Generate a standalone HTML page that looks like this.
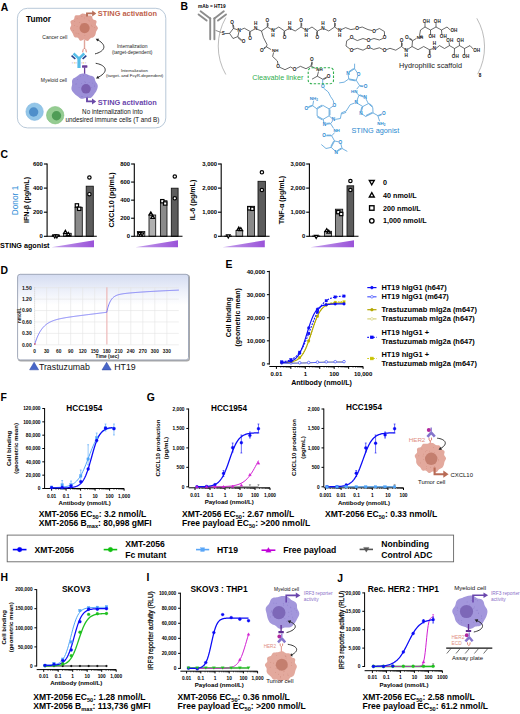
<!DOCTYPE html>
<html><head><meta charset="utf-8"><style>
html,body{margin:0;padding:0;background:#fff;}
body{width:520px;height:714px;overflow:hidden;}
svg{display:block;font-family:"Liberation Sans", sans-serif;font-weight:bold;}
</style></head><body>
<svg width="520" height="714" viewBox="0 0 520 714">
<defs>
<linearGradient id="wedge" x1="0" x2="1" y1="0" y2="0"><stop offset="0" stop-color="#c3a0ec"/><stop offset="1" stop-color="#9a52d8"/></linearGradient>
<linearGradient id="dhead" x1="0" x2="0" y1="0" y2="1"><stop offset="0" stop-color="#d4dcf1"/><stop offset="0.2" stop-color="#eef1fa"/><stop offset="0.36" stop-color="#ffffff"/><stop offset="1" stop-color="#ffffff"/></linearGradient>
</defs>
<text x="0.80" y="10.60" font-size="10.4">A</text>
<text x="180.60" y="10.40" font-size="10.4">B</text>
<text x="0.60" y="157.90" font-size="10.4">C</text>
<text x="0.40" y="274.00" font-size="10.4">D</text>
<text x="225.60" y="267.80" font-size="10.4">E</text>
<text x="0.60" y="400.90" font-size="10.4">F</text>
<text x="146.80" y="401.10" font-size="10.4">G</text>
<text x="0.60" y="581.20" font-size="10.4">H</text>
<text x="146.60" y="581.40" font-size="10.4">I</text>
<text x="337.20" y="581.70" font-size="10.4">J</text>
<rect x="17.4" y="8.3" width="148.4" height="119.6" rx="10" fill="none" stroke="#b0c2d4" stroke-width="0.9"/>
<text x="26.00" y="22.00" font-size="8.2">Tumor</text>
<path d="M97.68,27.20 L97.92,27.94 L97.85,28.68 L97.53,29.37 L97.07,30.02 L96.62,30.63 L96.27,31.25 L96.04,31.90 L95.89,32.58 L95.76,33.29 L95.59,34.01 L95.36,34.71 L95.05,35.38 L94.67,36.00 L94.21,36.57 L93.65,37.05 L93.00,37.42 L92.28,37.68 L91.55,37.87 L90.87,38.08 L90.27,38.40 L89.75,38.88 L89.28,39.50 L88.77,40.15 L88.17,40.66 L87.47,40.90 L86.69,40.79 L85.89,40.41 L85.14,39.93 L84.45,39.57 L83.80,39.49 L83.14,39.72 L82.44,40.17 L81.68,40.61 L80.90,40.82 L80.19,40.68 L79.58,40.18 L79.09,39.46 L78.67,38.71 L78.24,38.12 L77.70,37.77 L77.03,37.62 L76.26,37.57 L75.48,37.47 L74.78,37.22 L74.22,36.78 L73.81,36.19 L73.52,35.53 L73.28,34.84 L73.03,34.19 L72.76,33.58 L72.45,32.98 L72.11,32.40 L71.75,31.83 L71.36,31.24 L70.94,30.65 L70.53,30.02 L70.20,29.35 L70.02,28.65 L70.05,27.92 L70.30,27.20 L70.67,26.51 L71.03,25.86 L71.23,25.21 L71.18,24.52 L70.93,23.75 L70.62,22.92 L70.44,22.07 L70.54,21.30 L71.01,20.68 L71.76,20.25 L72.61,19.94 L73.39,19.63 L73.94,19.21 L74.24,18.59 L74.38,17.78 L74.52,16.90 L74.81,16.10 L75.32,15.54 L76.05,15.26 L76.89,15.24 L77.75,15.32 L78.53,15.37 L79.22,15.26 L79.83,14.97 L80.41,14.56 L81.02,14.14 L81.68,13.80 L82.37,13.62 L83.09,13.58 L83.80,13.67 L84.50,13.84 L85.18,14.08 L85.83,14.36 L86.46,14.67 L87.08,14.98 L87.69,15.23 L88.33,15.39 L89.03,15.46 L89.78,15.47 L90.54,15.53 L91.23,15.75 L91.79,16.20 L92.17,16.86 L92.40,17.65 L92.57,18.43 L92.83,19.07 L93.29,19.52 L93.98,19.80 L94.83,20.03 L95.67,20.35 L96.29,20.83 L96.58,21.51 L96.53,22.31 L96.26,23.15 L95.99,23.93 L95.92,24.62 L96.13,25.25 L96.61,25.85 L97.19,26.50Z" fill="#e0a296"/>
<circle cx="84.6" cy="28.1" r="5.1" fill="#c47a68"/>
<circle cx="84.84" cy="35.26" r="0.35" fill="#c47d6e"/>
<circle cx="78.08" cy="33.32" r="0.35" fill="#c47d6e"/>
<circle cx="82.13" cy="24.71" r="0.35" fill="#c47d6e"/>
<circle cx="94.69" cy="27.67" r="0.35" fill="#c47d6e"/>
<circle cx="83.87" cy="32.36" r="0.35" fill="#c47d6e"/>
<circle cx="92.08" cy="26.58" r="0.35" fill="#c47d6e"/>
<circle cx="88.30" cy="20.01" r="0.35" fill="#c47d6e"/>
<circle cx="81.34" cy="23.38" r="0.35" fill="#c47d6e"/>
<circle cx="77.11" cy="18.77" r="0.35" fill="#c47d6e"/>
<circle cx="74.40" cy="25.36" r="0.35" fill="#c47d6e"/>
<circle cx="82.82" cy="24.24" r="0.35" fill="#c47d6e"/>
<circle cx="84.66" cy="17.97" r="0.35" fill="#c47d6e"/>
<circle cx="83.56" cy="28.72" r="0.35" fill="#c47d6e"/>
<circle cx="89.45" cy="20.89" r="0.35" fill="#c47d6e"/>
<circle cx="82.10" cy="16.23" r="0.35" fill="#c47d6e"/>
<circle cx="81.73" cy="16.04" r="0.35" fill="#c47d6e"/>
<circle cx="76.07" cy="33.11" r="0.35" fill="#c47d6e"/>
<circle cx="73.74" cy="30.59" r="0.35" fill="#c47d6e"/>
<circle cx="86.80" cy="24.32" r="0.35" fill="#c47d6e"/>
<circle cx="87.72" cy="30.84" r="0.35" fill="#c47d6e"/>
<circle cx="91.62" cy="25.17" r="0.35" fill="#c47d6e"/>
<circle cx="79.78" cy="22.29" r="0.35" fill="#c47d6e"/>
<circle cx="77.06" cy="26.48" r="0.35" fill="#c47d6e"/>
<circle cx="78.99" cy="33.89" r="0.35" fill="#c47d6e"/>
<circle cx="74.76" cy="21.28" r="0.35" fill="#c47d6e"/>
<path d="M87,16.6 L87,13.4 L93,13.4" fill="none" stroke="#b86e58" stroke-width="1.9"/>
<polygon points="92.2,10.4 96.3,13.4 92.2,16.4" fill="#b86e58"/>
<text x="97.80" y="16.30" font-size="7.4" fill="#c0614a">STING activation</text>
<text x="42.30" y="39.20" font-size="5.0" font-weight="normal" fill="#222">Cancer cell</text>
<line x1="84.50" y1="39.50" x2="84.50" y2="48.50" stroke="#e0a49a" stroke-width="1.4"/>
<path d="M82.6,52.3 Q82.8,48.8 84.5,48.2 Q86.2,48.8 86.4,52.3" fill="none" stroke="#d4766a" stroke-width="0.9"/>
<line x1="79.00" y1="58.00" x2="79.00" y2="68.00" stroke="#55bde9" stroke-width="3.2"/>
<line x1="79.00" y1="58.60" x2="73.50" y2="53.50" stroke="#55bde9" stroke-width="2.6"/>
<line x1="79.00" y1="58.60" x2="84.30" y2="53.50" stroke="#55bde9" stroke-width="2.6"/>
<line x1="71.60" y1="55.60" x2="75.30" y2="59.00" stroke="#243f8a" stroke-width="1.6"/>
<line x1="86.30" y1="55.60" x2="82.60" y2="59.00" stroke="#243f8a" stroke-width="1.6"/>
<line x1="71.80" y1="62.90" x2="73.20" y2="62.90" stroke="#c8b8e8" stroke-width="0.9"/>
<line x1="73.90" y1="62.90" x2="75.30" y2="62.90" stroke="#e6c25a" stroke-width="0.9"/>
<line x1="75.50" y1="62.90" x2="76.90" y2="62.90" stroke="#c8b8e8" stroke-width="0.9"/>
<line x1="81.10" y1="62.90" x2="82.50" y2="62.90" stroke="#c8b8e8" stroke-width="0.9"/>
<line x1="82.70" y1="62.90" x2="84.10" y2="62.90" stroke="#e6c25a" stroke-width="0.9"/>
<line x1="84.80" y1="62.90" x2="86.20" y2="62.90" stroke="#c8b8e8" stroke-width="0.9"/>
<rect x="82.0" y="65.3" width="5.4" height="2.4" rx="0.4" fill="#6a3d9a"/>
<line x1="84.60" y1="67.50" x2="84.60" y2="74.50" stroke="#6a3d9a" stroke-width="1.3"/>
<path d="M97.77,86.20 L97.73,86.90 L97.61,87.59 L97.43,88.26 L97.22,88.93 L96.99,89.57 L96.73,90.21 L96.45,90.82 L96.14,91.42 L95.79,92.00 L95.42,92.56 L95.02,93.10 L94.61,93.62 L94.21,94.15 L93.82,94.68 L93.43,95.23 L93.03,95.79 L92.61,96.34 L92.15,96.87 L91.63,97.33 L91.04,97.70 L90.38,97.94 L89.69,98.07 L88.97,98.09 L88.25,98.04 L87.55,97.96 L86.89,97.90 L86.25,97.90 L85.64,97.99 L85.03,98.15 L84.40,98.36 L83.75,98.58 L83.08,98.77 L82.39,98.86 L81.71,98.84 L81.05,98.70 L80.43,98.43 L79.84,98.08 L79.30,97.67 L78.78,97.23 L78.27,96.81 L77.77,96.41 L77.26,96.02 L76.75,95.65 L76.23,95.28 L75.71,94.89 L75.21,94.48 L74.72,94.04 L74.26,93.57 L73.81,93.08 L73.37,92.57 L72.95,92.04 L72.54,91.48 L72.16,90.90 L71.84,90.28 L71.60,89.63 L71.45,88.95 L71.42,88.26 L71.48,87.56 L71.61,86.87 L71.78,86.20 L71.95,85.55 L72.07,84.90 L72.13,84.26 L72.13,83.59 L72.08,82.90 L72.02,82.18 L72.01,81.44 L72.08,80.71 L72.27,80.02 L72.61,79.39 L73.06,78.84 L73.62,78.37 L74.24,77.97 L74.88,77.63 L75.51,77.31 L76.10,76.98 L76.65,76.62 L77.16,76.24 L77.66,75.82 L78.16,75.40 L78.69,74.99 L79.24,74.62 L79.83,74.30 L80.45,74.05 L81.09,73.85 L81.75,73.71 L82.41,73.61 L83.07,73.55 L83.74,73.53 L84.40,73.55 L85.06,73.63 L85.71,73.78 L86.33,73.99 L86.94,74.24 L87.53,74.53 L88.10,74.82 L88.66,75.09 L89.25,75.31 L89.86,75.49 L90.50,75.63 L91.18,75.76 L91.87,75.92 L92.55,76.14 L93.17,76.46 L93.71,76.89 L94.15,77.42 L94.48,78.03 L94.72,78.70 L94.91,79.38 L95.07,80.04 L95.25,80.67 L95.49,81.26 L95.80,81.82 L96.16,82.38 L96.56,82.94 L96.95,83.53 L97.30,84.16 L97.56,84.82 L97.72,85.50Z" fill="#9c90d8"/>
<circle cx="86" cy="88.8" r="4.8" fill="#7a5fb0"/>
<circle cx="77.61" cy="79.59" r="0.35" fill="#7d6fc0"/>
<circle cx="87.39" cy="75.95" r="0.35" fill="#7d6fc0"/>
<circle cx="83.73" cy="75.66" r="0.35" fill="#7d6fc0"/>
<circle cx="91.78" cy="87.56" r="0.35" fill="#7d6fc0"/>
<circle cx="92.71" cy="83.11" r="0.35" fill="#7d6fc0"/>
<circle cx="87.41" cy="84.04" r="0.35" fill="#7d6fc0"/>
<circle cx="79.04" cy="87.25" r="0.35" fill="#7d6fc0"/>
<circle cx="76.38" cy="83.94" r="0.35" fill="#7d6fc0"/>
<circle cx="89.50" cy="86.62" r="0.35" fill="#7d6fc0"/>
<circle cx="82.46" cy="96.55" r="0.35" fill="#7d6fc0"/>
<circle cx="84.83" cy="81.83" r="0.35" fill="#7d6fc0"/>
<circle cx="85.60" cy="82.28" r="0.35" fill="#7d6fc0"/>
<circle cx="81.50" cy="83.57" r="0.35" fill="#7d6fc0"/>
<circle cx="94.67" cy="86.31" r="0.35" fill="#7d6fc0"/>
<circle cx="85.69" cy="91.14" r="0.35" fill="#7d6fc0"/>
<circle cx="94.61" cy="85.07" r="0.35" fill="#7d6fc0"/>
<circle cx="81.76" cy="96.66" r="0.35" fill="#7d6fc0"/>
<circle cx="75.62" cy="83.99" r="0.35" fill="#7d6fc0"/>
<circle cx="87.39" cy="96.44" r="0.35" fill="#7d6fc0"/>
<circle cx="80.46" cy="76.13" r="0.35" fill="#7d6fc0"/>
<circle cx="89.12" cy="82.48" r="0.35" fill="#7d6fc0"/>
<circle cx="81.52" cy="89.63" r="0.35" fill="#7d6fc0"/>
<text x="40.80" y="81.80" font-size="5.0" font-weight="normal" fill="#222">Myeloid cell</text>
<path d="M87,97.5 L87,101.4 L92.6,101.4" fill="none" stroke="#6a4aa8" stroke-width="1.9"/>
<polygon points="92.0,98.4 96.2,101.4 92.0,104.4" fill="#6a4aa8"/>
<text x="97.70" y="104.60" font-size="7.4" fill="#6a46ad">STING activation</text>
<path d="M95.00,53.90 C103.50,51.80 108.50,46.00 97.78,39.89" fill="none" stroke="#222" stroke-width="0.9"/>
<polygon points="95.70,38.70 99.12,38.75 97.49,41.62" fill="#222"/>
<path d="M95.70,63.30 C104.00,64.50 111.00,70.50 98.12,77.37" fill="none" stroke="#222" stroke-width="0.9"/>
<polygon points="96.00,78.50 97.87,75.63 99.42,78.54" fill="#222"/>
<text x="132.20" y="48.20" font-size="4.9" font-weight="normal" text-anchor="middle" fill="#222">Internalization</text>
<text x="132.20" y="53.90" font-size="4.9" font-weight="normal" text-anchor="middle" fill="#222">(target-dependent)</text>
<text x="134.40" y="71.90" font-size="4.3" font-weight="normal" text-anchor="middle" fill="#222">Internalization</text>
<text x="134.70" y="76.70" font-size="4.35" font-weight="normal" text-anchor="middle" fill="#222">(target- and Fc&#947;R-dependent)</text>
<circle cx="34.6" cy="111.7" r="8.7" fill="#93c6e8" stroke="#7fb6df" stroke-width="0.6"/><circle cx="33.6" cy="112" r="4.7" fill="#4f8fca"/>
<circle cx="55.2" cy="115.2" r="8.7" fill="#95cc92" stroke="#7fbf7c" stroke-width="0.6"/><circle cx="56.5" cy="115.8" r="4.7" fill="#4f9c56"/>
<text x="112.40" y="113.90" font-size="6.3" font-weight="normal" text-anchor="middle" fill="#111">No internalization into</text>
<text x="112.40" y="121.60" font-size="6.3" font-weight="normal" text-anchor="middle" fill="#111">undesired immune cells (T and B)</text>
<rect x="52.20" y="235.40" width="7.40" height="0.90" fill="#e0e0e0" stroke="#111" stroke-width="0.85"/>
<rect x="63.50" y="233.30" width="7.70" height="3.00" fill="#b0b0b0" stroke="#111" stroke-width="0.85"/>
<rect x="75.00" y="207.30" width="7.30" height="29.00" fill="#8a8a8a" stroke="#111" stroke-width="0.85"/>
<rect x="86.20" y="186.20" width="7.10" height="50.10" fill="#5c5c5c" stroke="#111" stroke-width="0.85"/>
<line x1="47.10" y1="163.45" x2="47.10" y2="236.85" stroke="#000" stroke-width="1.1"/>
<line x1="43.90" y1="236.30" x2="47.10" y2="236.30" stroke="#000" stroke-width="1.1"/>
<text x="42.90" y="238.42" font-size="5.9" text-anchor="end">0</text>
<line x1="43.90" y1="212.20" x2="47.10" y2="212.20" stroke="#000" stroke-width="1.1"/>
<text x="42.90" y="214.32" font-size="5.9" text-anchor="end">200</text>
<line x1="43.90" y1="188.10" x2="47.10" y2="188.10" stroke="#000" stroke-width="1.1"/>
<text x="42.90" y="190.22" font-size="5.9" text-anchor="end">400</text>
<line x1="43.90" y1="164.00" x2="47.10" y2="164.00" stroke="#000" stroke-width="1.1"/>
<text x="42.90" y="166.12" font-size="5.9" text-anchor="end">600</text>
<line x1="47.10" y1="236.30" x2="96.80" y2="236.30" stroke="#000" stroke-width="1.1"/>
<polygon points="54.80,238.01 56.61,234.88 52.98,234.88" fill="#fff" stroke="#000" stroke-width="1.2"/>
<polygon points="56.90,238.01 58.71,234.88 55.09,234.88" fill="#fff" stroke="#000" stroke-width="1.2"/>
<polygon points="65.40,230.19 67.22,233.32 63.59,233.32" fill="#fff" stroke="#000" stroke-width="1.2"/>
<polygon points="68.30,232.38 70.11,235.52 66.48,235.52" fill="#fff" stroke="#000" stroke-width="1.2"/>
<rect x="75.25" y="203.75" width="3.30" height="3.30" fill="#fff" stroke="#000" stroke-width="1.2"/>
<rect x="77.55" y="207.15" width="3.30" height="3.30" fill="#fff" stroke="#000" stroke-width="1.2"/>
<circle cx="89.40" cy="177.50" r="1.70" fill="#fff" stroke="#000" stroke-width="1.2"/>
<circle cx="89.40" cy="194.20" r="1.70" fill="#fff" stroke="#000" stroke-width="1.2"/>
<polygon points="51.40,247.3 94.00,240.3 94.00,247.3" fill="url(#wedge)"/>
<text x="28.80" y="200.00" font-size="7.1" text-anchor="middle" transform="rotate(-90 28.80 200.00)">IFN-&#946; (pg/mL)</text>
<rect x="137.40" y="231.50" width="7.40" height="4.80" fill="#e0e0e0" stroke="#111" stroke-width="0.85"/>
<rect x="149.00" y="215.00" width="6.70" height="21.30" fill="#b0b0b0" stroke="#111" stroke-width="0.85"/>
<rect x="160.40" y="200.70" width="6.60" height="35.60" fill="#8a8a8a" stroke="#111" stroke-width="0.85"/>
<rect x="171.30" y="188.20" width="6.80" height="48.10" fill="#5c5c5c" stroke="#111" stroke-width="0.85"/>
<line x1="134.30" y1="163.45" x2="134.30" y2="236.85" stroke="#000" stroke-width="1.1"/>
<line x1="131.10" y1="236.30" x2="134.30" y2="236.30" stroke="#000" stroke-width="1.1"/>
<text x="130.10" y="238.42" font-size="5.9" text-anchor="end">0</text>
<line x1="131.10" y1="218.23" x2="134.30" y2="218.23" stroke="#000" stroke-width="1.1"/>
<text x="130.10" y="220.35" font-size="5.9" text-anchor="end">200</text>
<line x1="131.10" y1="200.15" x2="134.30" y2="200.15" stroke="#000" stroke-width="1.1"/>
<text x="130.10" y="202.27" font-size="5.9" text-anchor="end">400</text>
<line x1="131.10" y1="182.07" x2="134.30" y2="182.07" stroke="#000" stroke-width="1.1"/>
<text x="130.10" y="184.20" font-size="5.9" text-anchor="end">600</text>
<line x1="131.10" y1="164.00" x2="134.30" y2="164.00" stroke="#000" stroke-width="1.1"/>
<text x="130.10" y="166.12" font-size="5.9" text-anchor="end">800</text>
<line x1="134.30" y1="236.30" x2="182.50" y2="236.30" stroke="#000" stroke-width="1.1"/>
<polygon points="139.60,235.51 141.41,232.38 137.78,232.38" fill="#fff" stroke="#000" stroke-width="1.2"/>
<polygon points="142.10,236.01 143.91,232.88 140.28,232.88" fill="#fff" stroke="#000" stroke-width="1.2"/>
<polygon points="150.80,211.88 152.62,215.02 148.99,215.02" fill="#fff" stroke="#000" stroke-width="1.2"/>
<polygon points="152.70,215.19 154.51,218.32 150.88,218.32" fill="#fff" stroke="#000" stroke-width="1.2"/>
<rect x="160.65" y="199.55" width="3.30" height="3.30" fill="#fff" stroke="#000" stroke-width="1.2"/>
<rect x="163.55" y="201.85" width="3.30" height="3.30" fill="#fff" stroke="#000" stroke-width="1.2"/>
<circle cx="174.80" cy="176.50" r="1.70" fill="#fff" stroke="#000" stroke-width="1.2"/>
<circle cx="174.80" cy="198.30" r="1.70" fill="#fff" stroke="#000" stroke-width="1.2"/>
<polygon points="135.40,247.3 178.00,240.3 178.00,247.3" fill="url(#wedge)"/>
<text x="113.50" y="200.00" font-size="7.1" text-anchor="middle" transform="rotate(-90 113.50 200.00)">CXCL10 (pg/mL)</text>
<rect x="224.80" y="236.00" width="6.70" height="0.30" fill="#e0e0e0" stroke="#111" stroke-width="0.85"/>
<rect x="236.00" y="230.40" width="6.70" height="5.90" fill="#b0b0b0" stroke="#111" stroke-width="0.85"/>
<rect x="247.50" y="206.30" width="7.10" height="30.00" fill="#8a8a8a" stroke="#111" stroke-width="0.85"/>
<rect x="258.00" y="181.30" width="7.40" height="55.00" fill="#5c5c5c" stroke="#111" stroke-width="0.85"/>
<line x1="221.20" y1="163.45" x2="221.20" y2="236.85" stroke="#000" stroke-width="1.1"/>
<line x1="218.00" y1="236.30" x2="221.20" y2="236.30" stroke="#000" stroke-width="1.1"/>
<text x="217.00" y="238.42" font-size="5.9" text-anchor="end">0</text>
<line x1="218.00" y1="212.20" x2="221.20" y2="212.20" stroke="#000" stroke-width="1.1"/>
<text x="217.00" y="214.32" font-size="5.9" text-anchor="end">1,000</text>
<line x1="218.00" y1="188.10" x2="221.20" y2="188.10" stroke="#000" stroke-width="1.1"/>
<text x="217.00" y="190.22" font-size="5.9" text-anchor="end">2,000</text>
<line x1="218.00" y1="164.00" x2="221.20" y2="164.00" stroke="#000" stroke-width="1.1"/>
<text x="217.00" y="166.12" font-size="5.9" text-anchor="end">3,000</text>
<line x1="221.20" y1="236.30" x2="269.60" y2="236.30" stroke="#000" stroke-width="1.1"/>
<polygon points="228.30,238.01 230.12,234.88 226.49,234.88" fill="#fff" stroke="#000" stroke-width="1.2"/>
<polygon points="238.80,226.99 240.62,230.12 236.99,230.12" fill="#fff" stroke="#000" stroke-width="1.2"/>
<polygon points="240.80,227.59 242.62,230.72 238.99,230.72" fill="#fff" stroke="#000" stroke-width="1.2"/>
<rect x="247.75" y="206.65" width="3.30" height="3.30" fill="#fff" stroke="#000" stroke-width="1.2"/>
<rect x="250.65" y="207.15" width="3.30" height="3.30" fill="#fff" stroke="#000" stroke-width="1.2"/>
<circle cx="261.90" cy="172.30" r="1.70" fill="#fff" stroke="#000" stroke-width="1.2"/>
<circle cx="261.90" cy="190.00" r="1.70" fill="#fff" stroke="#000" stroke-width="1.2"/>
<polygon points="222.50,247.3 264.80,240.3 264.80,247.3" fill="url(#wedge)"/>
<text x="195.20" y="200.00" font-size="7.1" text-anchor="middle" transform="rotate(-90 195.20 200.00)">IL-6 (pg/mL)</text>
<rect x="312.60" y="236.00" width="7.20" height="0.30" fill="#e0e0e0" stroke="#111" stroke-width="0.85"/>
<rect x="324.40" y="231.30" width="7.10" height="5.00" fill="#b0b0b0" stroke="#111" stroke-width="0.85"/>
<rect x="335.40" y="209.20" width="7.30" height="27.10" fill="#8a8a8a" stroke="#111" stroke-width="0.85"/>
<rect x="347.00" y="185.80" width="6.70" height="50.50" fill="#5c5c5c" stroke="#111" stroke-width="0.85"/>
<line x1="309.40" y1="163.45" x2="309.40" y2="236.85" stroke="#000" stroke-width="1.1"/>
<line x1="306.20" y1="236.30" x2="309.40" y2="236.30" stroke="#000" stroke-width="1.1"/>
<text x="305.20" y="238.42" font-size="5.9" text-anchor="end">0</text>
<line x1="306.20" y1="212.20" x2="309.40" y2="212.20" stroke="#000" stroke-width="1.1"/>
<text x="305.20" y="214.32" font-size="5.9" text-anchor="end">1,000</text>
<line x1="306.20" y1="188.10" x2="309.40" y2="188.10" stroke="#000" stroke-width="1.1"/>
<text x="305.20" y="190.22" font-size="5.9" text-anchor="end">2,000</text>
<line x1="306.20" y1="164.00" x2="309.40" y2="164.00" stroke="#000" stroke-width="1.1"/>
<text x="305.20" y="166.12" font-size="5.9" text-anchor="end">3,000</text>
<line x1="309.40" y1="236.30" x2="358.50" y2="236.30" stroke="#000" stroke-width="1.1"/>
<polygon points="316.20,238.51 318.01,235.38 314.38,235.38" fill="#fff" stroke="#000" stroke-width="1.2"/>
<polygon points="326.70,228.59 328.51,231.72 324.88,231.72" fill="#fff" stroke="#000" stroke-width="1.2"/>
<polygon points="328.70,230.09 330.51,233.22 326.88,233.22" fill="#fff" stroke="#000" stroke-width="1.2"/>
<rect x="336.65" y="210.45" width="3.30" height="3.30" fill="#fff" stroke="#000" stroke-width="1.2"/>
<rect x="339.55" y="212.35" width="3.30" height="3.30" fill="#fff" stroke="#000" stroke-width="1.2"/>
<circle cx="350.40" cy="181.00" r="1.70" fill="#fff" stroke="#000" stroke-width="1.2"/>
<circle cx="350.40" cy="190.00" r="1.70" fill="#fff" stroke="#000" stroke-width="1.2"/>
<polygon points="310.40,247.3 354.00,240.3 354.00,247.3" fill="url(#wedge)"/>
<text x="284.00" y="200.00" font-size="7.1" text-anchor="middle" transform="rotate(-90 284.00 200.00)">TNF-&#945; (pg/mL)</text>
<text x="0.00" y="248.00" font-size="7.2">STING agonist</text>
<text x="17.60" y="200.50" font-size="8.3" font-weight="normal" text-anchor="middle" fill="#2a8ad6" transform="rotate(-90 17.60 200.50)">Donor 1</text>
<polygon points="371.80,184.78 374.28,180.50 369.32,180.50" fill="#fff" stroke="#000" stroke-width="1.35"/>
<text x="383.00" y="184.80" font-size="7.2">0</text>
<polygon points="371.80,192.68 374.28,196.95 369.32,196.95" fill="#fff" stroke="#000" stroke-width="1.35"/>
<text x="383.00" y="197.65" font-size="7.2">40 nmol/L</text>
<rect x="369.55" y="205.75" width="4.50" height="4.50" fill="#fff" stroke="#000" stroke-width="1.35"/>
<text x="383.00" y="210.50" font-size="7.2">200 nmol/L</text>
<circle cx="371.80" cy="220.85" r="2.25" fill="#fff" stroke="#000" stroke-width="1.35"/>
<text x="383.00" y="223.35" font-size="7.2">1,000 nmol/L</text>
<rect x="18.4" y="275.1" width="170.9" height="85.6" rx="2.5" fill="none" stroke="#a8a8a8" stroke-width="1.4"/>
<rect x="17.6" y="274.3" width="170.9" height="85.6" rx="2.5" fill="url(#dhead)" stroke="#9aa3b5" stroke-width="0.9"/>
<line x1="34.60" y1="344.80" x2="178.80" y2="344.80" stroke="#e4e4e4" stroke-width="0.6"/>
<line x1="34.60" y1="333.38" x2="178.80" y2="333.38" stroke="#e4e4e4" stroke-width="0.6"/>
<line x1="34.60" y1="321.96" x2="178.80" y2="321.96" stroke="#e4e4e4" stroke-width="0.6"/>
<line x1="34.60" y1="310.54" x2="178.80" y2="310.54" stroke="#e4e4e4" stroke-width="0.6"/>
<line x1="34.60" y1="299.12" x2="178.80" y2="299.12" stroke="#e4e4e4" stroke-width="0.6"/>
<line x1="34.60" y1="287.69" x2="178.80" y2="287.69" stroke="#e4e4e4" stroke-width="0.6"/>
<line x1="34.60" y1="287.30" x2="34.60" y2="344.80" stroke="#e4e4e4" stroke-width="0.6"/>
<line x1="46.62" y1="287.30" x2="46.62" y2="344.80" stroke="#e4e4e4" stroke-width="0.6"/>
<line x1="58.65" y1="287.30" x2="58.65" y2="344.80" stroke="#e4e4e4" stroke-width="0.6"/>
<line x1="70.67" y1="287.30" x2="70.67" y2="344.80" stroke="#e4e4e4" stroke-width="0.6"/>
<line x1="82.70" y1="287.30" x2="82.70" y2="344.80" stroke="#e4e4e4" stroke-width="0.6"/>
<line x1="94.72" y1="287.30" x2="94.72" y2="344.80" stroke="#e4e4e4" stroke-width="0.6"/>
<line x1="106.74" y1="287.30" x2="106.74" y2="344.80" stroke="#e4e4e4" stroke-width="0.6"/>
<line x1="118.77" y1="287.30" x2="118.77" y2="344.80" stroke="#e4e4e4" stroke-width="0.6"/>
<line x1="130.79" y1="287.30" x2="130.79" y2="344.80" stroke="#e4e4e4" stroke-width="0.6"/>
<line x1="142.82" y1="287.30" x2="142.82" y2="344.80" stroke="#e4e4e4" stroke-width="0.6"/>
<line x1="154.84" y1="287.30" x2="154.84" y2="344.80" stroke="#e4e4e4" stroke-width="0.6"/>
<line x1="166.86" y1="287.30" x2="166.86" y2="344.80" stroke="#e4e4e4" stroke-width="0.6"/>
<line x1="34.60" y1="287.30" x2="34.60" y2="344.80" stroke="#c8c8c8" stroke-width="0.6" stroke-dasharray="1,1"/>
<text x="31.80" y="346.60" font-size="5.1" text-anchor="end" fill="#111">0.00</text>
<text x="31.80" y="335.18" font-size="5.1" text-anchor="end" fill="#111">0.30</text>
<text x="31.80" y="323.76" font-size="5.1" text-anchor="end" fill="#111">0.60</text>
<text x="31.80" y="312.34" font-size="5.1" text-anchor="end" fill="#111">0.90</text>
<text x="31.80" y="300.92" font-size="5.1" text-anchor="end" fill="#111">1.20</text>
<text x="31.80" y="289.50" font-size="5.1" text-anchor="end" fill="#111">1.50</text>
<text x="34.60" y="352.70" font-size="4.8" text-anchor="middle" fill="#111">0</text>
<text x="46.62" y="352.70" font-size="4.8" text-anchor="middle" fill="#111">30</text>
<text x="58.65" y="352.70" font-size="4.8" text-anchor="middle" fill="#111">60</text>
<text x="70.67" y="352.70" font-size="4.8" text-anchor="middle" fill="#111">90</text>
<text x="82.70" y="352.70" font-size="4.8" text-anchor="middle" fill="#111">120</text>
<text x="94.72" y="352.70" font-size="4.8" text-anchor="middle" fill="#111">150</text>
<text x="106.74" y="352.70" font-size="4.8" text-anchor="middle" fill="#111">180</text>
<text x="118.77" y="352.70" font-size="4.8" text-anchor="middle" fill="#111">210</text>
<text x="130.79" y="352.70" font-size="4.8" text-anchor="middle" fill="#111">240</text>
<text x="142.82" y="352.70" font-size="4.8" text-anchor="middle" fill="#111">270</text>
<text x="154.84" y="352.70" font-size="4.8" text-anchor="middle" fill="#111">300</text>
<text x="166.86" y="352.70" font-size="4.8" text-anchor="middle" fill="#111">330</text>
<text x="107.30" y="358.10" font-size="4.75" text-anchor="middle" fill="#111">Time (sec)</text>
<text x="20.90" y="315.40" font-size="4.7" text-anchor="middle" fill="#111" transform="rotate(-90 20.90 315.40)">nmol/L</text>
<line x1="106.90" y1="287.30" x2="106.90" y2="344.40" stroke="#f0a0a0" stroke-width="0.8"/>
<polyline points="34.60,344.80 35.00,343.47 35.40,342.22 35.80,341.03 36.20,339.90 36.60,338.83 37.00,337.81 37.41,336.85 37.81,335.93 38.21,335.07 38.61,334.24 39.01,333.46 39.41,332.72 39.81,332.02 40.21,331.35 40.61,330.71 41.01,330.11 41.41,329.53 41.81,328.99 42.22,328.47 42.62,327.98 43.02,327.51 43.42,327.06 43.82,326.64 44.22,326.23 44.62,325.84 45.02,325.48 45.42,325.13 45.82,324.79 46.22,324.47 46.62,324.17 47.02,323.88 47.43,323.60 47.83,323.34 48.23,323.08 48.63,322.84 49.03,322.61 49.43,322.39 49.83,322.17 50.23,321.97 50.63,321.77 51.03,321.59 51.43,321.41 51.83,321.23 52.24,321.07 52.64,320.91 53.04,320.75 53.44,320.60 53.84,320.46 54.24,320.32 54.64,320.19 55.04,320.06 55.44,319.94 55.84,319.82 56.24,319.70 56.64,319.59 57.04,319.48 57.45,319.37 57.85,319.27 58.25,319.17 58.65,319.07 59.05,318.97 59.45,318.88 59.85,318.79 60.25,318.70 60.65,318.62 61.05,318.53 61.45,318.45 61.85,318.37 62.26,318.29 62.66,318.22 63.06,318.14 63.46,318.07 63.86,317.99 64.26,317.92 64.66,317.85 65.06,317.78 65.46,317.71 65.86,317.65 66.26,317.58 66.66,317.51 67.06,317.45 67.47,317.39 67.87,317.32 68.27,317.26 68.67,317.20 69.07,317.14 69.47,317.08 69.87,317.02 70.27,316.96 70.67,316.90 71.07,316.84 71.47,316.79 71.87,316.73 72.28,316.67 72.68,316.62 73.08,316.56 73.48,316.50 73.88,316.45 74.28,316.39 74.68,316.34 75.08,316.28 75.48,316.23 75.88,316.18 76.28,316.12 76.68,316.07 77.08,316.02 77.49,315.96 77.89,315.91 78.29,315.86 78.69,315.80 79.09,315.75 79.49,315.70 79.89,315.65 80.29,315.60 80.69,315.54 81.09,315.49 81.49,315.44 81.89,315.39 82.30,315.34 82.70,315.29 83.10,315.24 83.50,315.19 83.90,315.13 84.30,315.08 84.70,315.03 85.10,314.98 85.50,314.93 85.90,314.88 86.30,314.83 86.70,314.78 87.10,314.73 87.51,314.68 87.91,314.63 88.31,314.58 88.71,314.53 89.11,314.48 89.51,314.43 89.91,314.38 90.31,314.33 90.71,314.28 91.11,314.23 91.51,314.18 91.91,314.13 92.32,314.08 92.72,314.03 93.12,313.98 93.52,313.93 93.92,313.88 94.32,313.83 94.72,313.78 95.12,313.73 95.52,313.68 95.92,313.63 96.32,313.58 96.72,313.53 97.12,313.48 97.53,313.43 97.93,313.38 98.33,313.33 98.73,313.28 99.13,313.23 99.53,313.18 99.93,313.13 100.33,313.08 100.73,313.03 101.13,312.98 101.53,312.93 101.93,312.88 102.34,312.83 102.74,312.78 103.14,312.74 103.54,312.69 103.94,312.64 104.34,312.59 104.74,312.54 105.14,312.49 105.54,312.44 105.94,312.39 106.34,312.34 106.74,312.29 106.74,312.33 107.14,310.51 107.55,308.87 107.95,307.40 108.35,306.08 108.75,304.90 109.15,303.83 109.55,302.87 109.95,302.01 110.35,301.23 110.75,300.53 111.15,299.90 111.55,299.32 111.95,298.81 112.36,298.34 112.76,297.92 113.16,297.53 113.56,297.19 113.96,296.87 114.36,296.58 114.76,296.32 115.16,296.08 115.56,295.86 115.96,295.66 116.36,295.48 116.76,295.31 117.16,295.15 117.57,295.01 117.97,294.88 118.37,294.75 118.77,294.64 119.17,294.53 119.57,294.43 119.97,294.34 120.37,294.25 120.77,294.17 121.17,294.09 121.57,294.02 121.97,293.95 122.38,293.88 122.78,293.82 123.18,293.76 123.58,293.70 123.98,293.64 124.38,293.59 124.78,293.54 125.18,293.49 125.58,293.44 125.98,293.39 126.38,293.34 126.78,293.30 127.18,293.26 127.59,293.21 127.99,293.17 128.39,293.13 128.79,293.09 129.19,293.05 129.59,293.01 129.99,292.98 130.39,292.94 130.79,292.90 131.19,292.87 131.59,292.83 131.99,292.80 132.40,292.76 132.80,292.73 133.20,292.69 133.60,292.66 134.00,292.63 134.40,292.60 134.80,292.56 135.20,292.53 135.60,292.50 136.00,292.47 136.40,292.44 136.80,292.41 137.20,292.38 137.61,292.35 138.01,292.32 138.41,292.29 138.81,292.26 139.21,292.23 139.61,292.20 140.01,292.17 140.41,292.14 140.81,292.11 141.21,292.09 141.61,292.06 142.01,292.03 142.42,292.00 142.82,291.98 143.22,291.95 143.62,291.92 144.02,291.90 144.42,291.87 144.82,291.85 145.22,291.82 145.62,291.79 146.02,291.77 146.42,291.74 146.82,291.72 147.22,291.69 147.63,291.67 148.03,291.64 148.43,291.62 148.83,291.59 149.23,291.57 149.63,291.55 150.03,291.52 150.43,291.50 150.83,291.47 151.23,291.45 151.63,291.43 152.03,291.41 152.44,291.38 152.84,291.36 153.24,291.34 153.64,291.31 154.04,291.29 154.44,291.27 154.84,291.25 155.24,291.23 155.64,291.20 156.04,291.18 156.44,291.16 156.84,291.14 157.24,291.12 157.65,291.10 158.05,291.08 158.45,291.05 158.85,291.03 159.25,291.01 159.65,290.99 160.05,290.97 160.45,290.95 160.85,290.93 161.25,290.91 161.65,290.89 162.05,290.87 162.46,290.85 162.86,290.83 163.26,290.81 163.66,290.79 164.06,290.77 164.46,290.75 164.86,290.73 165.26,290.71 165.66,290.70 166.06,290.68 166.46,290.66 166.86,290.64 167.26,290.62 167.67,290.60 168.07,290.58 168.47,290.57 168.87,290.55 169.27,290.53 169.67,290.51 170.07,290.49 170.47,290.47 170.87,290.46 171.27,290.44 171.67,290.42 172.07,290.40 172.48,290.39 172.88,290.37 173.28,290.35 173.68,290.33 174.08,290.32 174.48,290.30 174.88,290.28 175.28,290.26 175.68,290.25 176.08,290.23 176.48,290.21 176.88,290.20 177.28,290.18 177.69,290.16 178.09,290.15 178.49,290.13 178.89,290.11" stroke="#6f6ff5" stroke-width="0.9" fill="none" stroke-linejoin="round"/>
<circle cx="34.9" cy="344" r="0.8" fill="#e04040"/>
<polygon points="34.1,362.2 38.6,369.8 29.6,369.8" fill="#4866c8" stroke="#2c45a0" stroke-width="0.5"/>
<text x="38.90" y="370.20" font-size="8.8" font-weight="normal" fill="#111">Trastuzumab</text>
<polygon points="106.6,362.3 111.2,369.9 102.0,369.9" fill="#4866c8" stroke="#2c45a0" stroke-width="0.5"/>
<text x="114.20" y="370.20" font-size="8.8" font-weight="normal" fill="#111">HT19</text>
<line x1="269.30" y1="270.80" x2="269.30" y2="364.70" stroke="#000" stroke-width="1.0"/>
<line x1="266.90" y1="363.90" x2="269.30" y2="363.90" stroke="#000" stroke-width="1.0"/>
<text x="265.10" y="366.06" font-size="6.0" text-anchor="end">0</text>
<line x1="266.90" y1="340.82" x2="269.30" y2="340.82" stroke="#000" stroke-width="1.0"/>
<text x="265.10" y="342.98" font-size="6.0" text-anchor="end">10,000</text>
<line x1="266.90" y1="317.74" x2="269.30" y2="317.74" stroke="#000" stroke-width="1.0"/>
<text x="265.10" y="319.90" font-size="6.0" text-anchor="end">20,000</text>
<line x1="266.90" y1="294.66" x2="269.30" y2="294.66" stroke="#000" stroke-width="1.0"/>
<text x="265.10" y="296.82" font-size="6.0" text-anchor="end">30,000</text>
<line x1="266.90" y1="271.58" x2="269.30" y2="271.58" stroke="#000" stroke-width="1.0"/>
<text x="265.10" y="273.74" font-size="6.0" text-anchor="end">40,000</text>
<line x1="269.30" y1="366.50" x2="363.10" y2="366.50" stroke="#000" stroke-width="1.0"/>
<line x1="276.40" y1="366.50" x2="276.40" y2="368.90" stroke="#000" stroke-width="1.0"/>
<line x1="280.75" y1="366.50" x2="280.75" y2="367.70" stroke="#000" stroke-width="0.6"/>
<line x1="283.29" y1="366.50" x2="283.29" y2="367.70" stroke="#000" stroke-width="0.6"/>
<line x1="285.10" y1="366.50" x2="285.10" y2="367.70" stroke="#000" stroke-width="0.6"/>
<line x1="286.50" y1="366.50" x2="286.50" y2="367.70" stroke="#000" stroke-width="0.6"/>
<line x1="287.64" y1="366.50" x2="287.64" y2="367.70" stroke="#000" stroke-width="0.6"/>
<line x1="288.61" y1="366.50" x2="288.61" y2="367.70" stroke="#000" stroke-width="0.6"/>
<line x1="289.45" y1="366.50" x2="289.45" y2="367.70" stroke="#000" stroke-width="0.6"/>
<line x1="290.19" y1="366.50" x2="290.19" y2="367.70" stroke="#000" stroke-width="0.6"/>
<line x1="290.85" y1="366.50" x2="290.85" y2="368.90" stroke="#000" stroke-width="1.0"/>
<line x1="295.20" y1="366.50" x2="295.20" y2="367.70" stroke="#000" stroke-width="0.6"/>
<line x1="297.74" y1="366.50" x2="297.74" y2="367.70" stroke="#000" stroke-width="0.6"/>
<line x1="299.55" y1="366.50" x2="299.55" y2="367.70" stroke="#000" stroke-width="0.6"/>
<line x1="300.95" y1="366.50" x2="300.95" y2="367.70" stroke="#000" stroke-width="0.6"/>
<line x1="302.09" y1="366.50" x2="302.09" y2="367.70" stroke="#000" stroke-width="0.6"/>
<line x1="303.06" y1="366.50" x2="303.06" y2="367.70" stroke="#000" stroke-width="0.6"/>
<line x1="303.90" y1="366.50" x2="303.90" y2="367.70" stroke="#000" stroke-width="0.6"/>
<line x1="304.64" y1="366.50" x2="304.64" y2="367.70" stroke="#000" stroke-width="0.6"/>
<line x1="305.30" y1="366.50" x2="305.30" y2="368.90" stroke="#000" stroke-width="1.0"/>
<line x1="309.65" y1="366.50" x2="309.65" y2="367.70" stroke="#000" stroke-width="0.6"/>
<line x1="312.19" y1="366.50" x2="312.19" y2="367.70" stroke="#000" stroke-width="0.6"/>
<line x1="314.00" y1="366.50" x2="314.00" y2="367.70" stroke="#000" stroke-width="0.6"/>
<line x1="315.40" y1="366.50" x2="315.40" y2="367.70" stroke="#000" stroke-width="0.6"/>
<line x1="316.54" y1="366.50" x2="316.54" y2="367.70" stroke="#000" stroke-width="0.6"/>
<line x1="317.51" y1="366.50" x2="317.51" y2="367.70" stroke="#000" stroke-width="0.6"/>
<line x1="318.35" y1="366.50" x2="318.35" y2="367.70" stroke="#000" stroke-width="0.6"/>
<line x1="319.09" y1="366.50" x2="319.09" y2="367.70" stroke="#000" stroke-width="0.6"/>
<line x1="319.75" y1="366.50" x2="319.75" y2="368.90" stroke="#000" stroke-width="1.0"/>
<line x1="324.10" y1="366.50" x2="324.10" y2="367.70" stroke="#000" stroke-width="0.6"/>
<line x1="326.64" y1="366.50" x2="326.64" y2="367.70" stroke="#000" stroke-width="0.6"/>
<line x1="328.45" y1="366.50" x2="328.45" y2="367.70" stroke="#000" stroke-width="0.6"/>
<line x1="329.85" y1="366.50" x2="329.85" y2="367.70" stroke="#000" stroke-width="0.6"/>
<line x1="330.99" y1="366.50" x2="330.99" y2="367.70" stroke="#000" stroke-width="0.6"/>
<line x1="331.96" y1="366.50" x2="331.96" y2="367.70" stroke="#000" stroke-width="0.6"/>
<line x1="332.80" y1="366.50" x2="332.80" y2="367.70" stroke="#000" stroke-width="0.6"/>
<line x1="333.54" y1="366.50" x2="333.54" y2="367.70" stroke="#000" stroke-width="0.6"/>
<line x1="334.20" y1="366.50" x2="334.20" y2="368.90" stroke="#000" stroke-width="1.0"/>
<line x1="338.55" y1="366.50" x2="338.55" y2="367.70" stroke="#000" stroke-width="0.6"/>
<line x1="341.09" y1="366.50" x2="341.09" y2="367.70" stroke="#000" stroke-width="0.6"/>
<line x1="342.90" y1="366.50" x2="342.90" y2="367.70" stroke="#000" stroke-width="0.6"/>
<line x1="344.30" y1="366.50" x2="344.30" y2="367.70" stroke="#000" stroke-width="0.6"/>
<line x1="345.44" y1="366.50" x2="345.44" y2="367.70" stroke="#000" stroke-width="0.6"/>
<line x1="346.41" y1="366.50" x2="346.41" y2="367.70" stroke="#000" stroke-width="0.6"/>
<line x1="347.25" y1="366.50" x2="347.25" y2="367.70" stroke="#000" stroke-width="0.6"/>
<line x1="347.99" y1="366.50" x2="347.99" y2="367.70" stroke="#000" stroke-width="0.6"/>
<line x1="348.65" y1="366.50" x2="348.65" y2="368.90" stroke="#000" stroke-width="1.0"/>
<line x1="353.00" y1="366.50" x2="353.00" y2="367.70" stroke="#000" stroke-width="0.6"/>
<line x1="355.54" y1="366.50" x2="355.54" y2="367.70" stroke="#000" stroke-width="0.6"/>
<line x1="357.35" y1="366.50" x2="357.35" y2="367.70" stroke="#000" stroke-width="0.6"/>
<line x1="358.75" y1="366.50" x2="358.75" y2="367.70" stroke="#000" stroke-width="0.6"/>
<line x1="359.89" y1="366.50" x2="359.89" y2="367.70" stroke="#000" stroke-width="0.6"/>
<line x1="360.86" y1="366.50" x2="360.86" y2="367.70" stroke="#000" stroke-width="0.6"/>
<line x1="361.70" y1="366.50" x2="361.70" y2="367.70" stroke="#000" stroke-width="0.6"/>
<line x1="362.44" y1="366.50" x2="362.44" y2="367.70" stroke="#000" stroke-width="0.6"/>
<line x1="363.10" y1="366.50" x2="363.10" y2="368.90" stroke="#000" stroke-width="1.0"/>
<text x="276.40" y="376.40" font-size="6.0" text-anchor="middle">0.01</text>
<text x="305.30" y="376.40" font-size="6.0" text-anchor="middle">1</text>
<text x="334.20" y="376.40" font-size="6.0" text-anchor="middle">100</text>
<text x="363.10" y="376.40" font-size="6.0" text-anchor="middle">10,000</text>
<text x="321.50" y="385.40" font-size="7.1" text-anchor="middle">Antibody (nmol/L)</text>
<text x="231.00" y="317.30" font-size="7.0" text-anchor="middle" transform="rotate(-90 231.00 317.30)">Cell binding</text>
<text x="239.80" y="317.30" font-size="7.0" text-anchor="middle" transform="rotate(-90 239.80 317.30)">(geometric mean)</text>
<polyline points="281.75,363.19 282.78,363.18 283.82,363.18 284.86,363.17 285.90,363.17 286.94,363.16 287.97,363.16 289.01,363.15 290.05,363.14 291.09,363.14 292.13,363.13 293.16,363.12 294.20,363.10 295.24,363.09 296.28,363.08 297.32,363.06 298.35,363.04 299.39,363.02 300.43,363.00 301.47,362.97 302.51,362.95 303.54,362.92 304.58,362.89 305.62,362.85 306.66,362.82 307.70,362.78 308.73,362.74 309.77,362.70 310.81,362.65 311.85,362.61 312.89,362.56 313.92,362.52 314.96,362.47 316.00,362.43 317.04,362.38 318.08,362.34 319.11,362.30 320.15,362.26 321.19,362.22 322.23,362.18 323.27,362.15 324.30,362.12 325.34,362.09 326.38,362.06 327.42,362.03 328.46,362.01 329.49,361.99 330.53,361.97 331.57,361.96 332.61,361.94 333.65,361.93 334.68,361.91 335.72,361.90 336.76,361.89 337.80,361.89 338.84,361.88 339.87,361.87 340.91,361.87 341.95,361.86 342.99,361.86 344.03,361.85" stroke="#d6d27a" stroke-width="1.1" fill="none" stroke-linejoin="round"/>
<polyline points="281.75,363.29 282.78,363.29 283.82,363.28 284.86,363.28 285.90,363.27 286.94,363.27 287.97,363.26 289.01,363.25 290.05,363.24 291.09,363.23 292.13,363.22 293.16,363.21 294.20,363.19 295.24,363.17 296.28,363.16 297.32,363.14 298.35,363.11 299.39,363.09 300.43,363.06 301.47,363.03 302.51,363.00 303.54,362.97 304.58,362.94 305.62,362.90 306.66,362.86 307.70,362.82 308.73,362.78 309.77,362.74 310.81,362.70 311.85,362.66 312.89,362.62 313.92,362.57 314.96,362.53 316.00,362.50 317.04,362.46 318.08,362.42 319.11,362.39 320.15,362.36 321.19,362.33 322.23,362.30 323.27,362.28 324.30,362.25 325.34,362.23 326.38,362.21 327.42,362.19 328.46,362.18 329.49,362.16 330.53,362.15 331.57,362.14 332.61,362.13 333.65,362.12 334.68,362.11 335.72,362.11 336.76,362.10 337.80,362.09 338.84,362.09 339.87,362.09 340.91,362.08 341.95,362.08 342.99,362.07 344.03,362.07" stroke="#4f5cff" stroke-width="1.0" fill="none" stroke-linejoin="round"/>
<circle cx="281.75" cy="362.95" r="1.30" fill="#fff" stroke="#4f5cff" stroke-width="0.8"/>
<circle cx="290.99" cy="362.91" r="1.30" fill="#fff" stroke="#4f5cff" stroke-width="0.8"/>
<circle cx="299.66" cy="362.78" r="1.30" fill="#fff" stroke="#4f5cff" stroke-width="0.8"/>
<circle cx="308.70" cy="362.51" r="1.30" fill="#fff" stroke="#4f5cff" stroke-width="0.8"/>
<circle cx="317.44" cy="362.13" r="1.30" fill="#fff" stroke="#4f5cff" stroke-width="0.8"/>
<circle cx="326.25" cy="361.83" r="1.30" fill="#fff" stroke="#4f5cff" stroke-width="0.8"/>
<circle cx="335.21" cy="361.68" r="1.30" fill="#fff" stroke="#4f5cff" stroke-width="0.8"/>
<circle cx="344.03" cy="361.62" r="1.30" fill="#fff" stroke="#4f5cff" stroke-width="0.8"/>
<polyline points="281.75,362.36 282.78,362.33 283.82,362.28 284.86,362.23 285.90,362.17 286.94,362.09 287.97,361.99 289.01,361.87 290.05,361.73 291.09,361.55 292.13,361.33 293.16,361.06 294.20,360.74 295.24,360.35 296.28,359.87 297.32,359.29 298.35,358.60 299.39,357.77 300.43,356.78 301.47,355.62 302.51,354.25 303.54,352.66 304.58,350.83 305.62,348.75 306.66,346.42 307.70,343.86 308.73,341.08 309.77,338.13 310.81,335.05 311.85,331.91 312.89,328.77 313.92,325.71 314.96,322.77 316.00,320.01 317.04,317.46 318.08,315.16 319.11,313.10 320.15,311.29 321.19,309.72 322.23,308.37 323.27,307.22 324.30,306.25 325.34,305.43 326.38,304.75 327.42,304.18 328.46,303.72 329.49,303.33 330.53,303.01 331.57,302.75 332.61,302.54 333.65,302.36 334.68,302.22 335.72,302.10 336.76,302.00 337.80,301.93 338.84,301.86 339.87,301.81 340.91,301.77 341.95,301.73 342.99,301.71 344.03,301.68" stroke="#c8c400" stroke-width="1.0" fill="none" stroke-dasharray="1.6,1" stroke-linejoin="round"/>
<polyline points="281.75,362.62 282.78,362.59 283.82,362.55 284.86,362.50 285.90,362.44 286.94,362.37 287.97,362.28 289.01,362.17 290.05,362.03 291.09,361.86 292.13,361.65 293.16,361.40 294.20,361.08 295.24,360.69 296.28,360.22 297.32,359.65 298.35,358.95 299.39,358.11 300.43,357.11 301.47,355.91 302.51,354.49 303.54,352.84 304.58,350.93 305.62,348.76 306.66,346.32 307.70,343.64 308.73,340.73 309.77,337.66 310.81,334.48 311.85,331.25 312.89,328.07 313.92,324.98 314.96,322.06 316.00,319.36 317.04,316.90 318.08,314.71 319.11,312.78 320.15,311.11 321.19,309.68 322.23,308.46 323.27,307.44 324.30,306.59 325.34,305.88 326.38,305.30 327.42,304.82 328.46,304.43 329.49,304.11 330.53,303.85 331.57,303.64 332.61,303.47 333.65,303.33 334.68,303.21 335.72,303.12 336.76,303.05 337.80,302.99 338.84,302.94 339.87,302.90 340.91,302.87 341.95,302.84 342.99,302.82 344.03,302.81" stroke="#b3a600" stroke-width="1.1" fill="none" stroke-linejoin="round"/>
<rect x="280.65" y="361.26" width="2.20" height="2.20" fill="#d0c800" stroke="#d0c800" stroke-width="0.3"/>
<circle cx="281.75" cy="362.62" r="1.15" fill="#b3a600" stroke="#b3a600" stroke-width="0.3"/>
<rect x="289.89" y="360.46" width="2.20" height="2.20" fill="#d0c800" stroke="#d0c800" stroke-width="0.3"/>
<circle cx="290.99" cy="361.88" r="1.15" fill="#b3a600" stroke="#b3a600" stroke-width="0.3"/>
<rect x="298.56" y="356.43" width="2.20" height="2.20" fill="#d0c800" stroke="#d0c800" stroke-width="0.3"/>
<circle cx="299.66" cy="357.87" r="1.15" fill="#b3a600" stroke="#b3a600" stroke-width="0.3"/>
<rect x="307.60" y="340.09" width="2.20" height="2.20" fill="#d0c800" stroke="#d0c800" stroke-width="0.3"/>
<circle cx="308.70" cy="340.84" r="1.15" fill="#b3a600" stroke="#b3a600" stroke-width="0.3"/>
<rect x="316.34" y="315.45" width="2.20" height="2.20" fill="#d0c800" stroke="#d0c800" stroke-width="0.3"/>
<circle cx="317.44" cy="316.03" r="1.15" fill="#b3a600" stroke="#b3a600" stroke-width="0.3"/>
<rect x="325.15" y="303.73" width="2.20" height="2.20" fill="#d0c800" stroke="#d0c800" stroke-width="0.3"/>
<circle cx="326.25" cy="305.37" r="1.15" fill="#b3a600" stroke="#b3a600" stroke-width="0.3"/>
<rect x="334.11" y="301.05" width="2.20" height="2.20" fill="#d0c800" stroke="#d0c800" stroke-width="0.3"/>
<circle cx="335.21" cy="303.16" r="1.15" fill="#b3a600" stroke="#b3a600" stroke-width="0.3"/>
<rect x="342.93" y="300.58" width="2.20" height="2.20" fill="#d0c800" stroke="#d0c800" stroke-width="0.3"/>
<circle cx="344.03" cy="302.81" r="1.15" fill="#b3a600" stroke="#b3a600" stroke-width="0.3"/>
<polyline points="281.75,361.82 282.78,361.70 283.82,361.56 284.86,361.39 285.90,361.19 286.94,360.96 287.97,360.68 289.01,360.36 290.05,359.99 291.09,359.56 292.13,359.05 293.16,358.47 294.20,357.79 295.24,357.01 296.28,356.12 297.32,355.10 298.35,353.93 299.39,352.62 300.43,351.14 301.47,349.49 302.51,347.67 303.54,345.68 304.58,343.51 305.62,341.19 306.66,338.72 307.70,336.13 308.73,333.45 309.77,330.72 310.81,327.96 311.85,325.22 312.89,322.53 313.92,319.93 314.96,317.45 316.00,315.11 317.04,312.92 318.08,310.90 319.11,309.06 320.15,307.39 321.19,305.89 322.23,304.56 323.27,303.37 324.30,302.33 325.34,301.42 326.38,300.63 327.42,299.94 328.46,299.35 329.49,298.83 330.53,298.39 331.57,298.01 332.61,297.68 333.65,297.41 334.68,297.17 335.72,296.97 336.76,296.79 337.80,296.65 338.84,296.52 339.87,296.41 340.91,296.32 341.95,296.25 342.99,296.18 344.03,296.12" stroke="#0c0cf6" stroke-width="1.1" fill="none" stroke-dasharray="1.8,1.2" stroke-linejoin="round"/>
<polyline points="281.75,362.54 282.78,362.48 283.82,362.42 284.86,362.33 285.90,362.22 286.94,362.09 287.97,361.92 289.01,361.71 290.05,361.44 291.09,361.11 292.13,360.70 293.16,360.19 294.20,359.57 295.24,358.79 296.28,357.85 297.32,356.70 298.35,355.33 299.39,353.69 300.43,351.77 301.47,349.55 302.51,347.03 303.54,344.23 304.58,341.17 305.62,337.92 306.66,334.55 307.70,331.15 308.73,327.80 309.77,324.60 310.81,321.61 311.85,318.88 312.89,316.44 313.92,314.31 314.96,312.47 316.00,310.91 317.04,309.60 318.08,308.51 319.11,307.62 320.15,306.89 321.19,306.29 322.23,305.81 323.27,305.43 324.30,305.11 325.34,304.87 326.38,304.67 327.42,304.51 328.46,304.38 329.49,304.28 330.53,304.20 331.57,304.14 332.61,304.09 333.65,304.05 334.68,304.02 335.72,303.99 336.76,303.97 337.80,303.95 338.84,303.94 339.87,303.93 340.91,303.92 341.95,303.92 342.99,303.91 344.03,303.91" stroke="#0c0cf6" stroke-width="1.2" fill="none" stroke-linejoin="round"/>
<rect x="280.50" y="360.57" width="2.50" height="2.50" fill="#0c0cf6" stroke="#0c0cf6" stroke-width="0.3"/>
<circle cx="281.75" cy="362.54" r="1.35" fill="#0c0cf6" stroke="#0c0cf6" stroke-width="0.3"/>
<rect x="289.74" y="358.35" width="2.50" height="2.50" fill="#0c0cf6" stroke="#0c0cf6" stroke-width="0.3"/>
<circle cx="290.99" cy="361.15" r="1.35" fill="#0c0cf6" stroke="#0c0cf6" stroke-width="0.3"/>
<rect x="298.41" y="351.00" width="2.50" height="2.50" fill="#0c0cf6" stroke="#0c0cf6" stroke-width="0.3"/>
<circle cx="299.66" cy="353.22" r="1.35" fill="#0c0cf6" stroke="#0c0cf6" stroke-width="0.3"/>
<rect x="307.45" y="332.30" width="2.50" height="2.50" fill="#0c0cf6" stroke="#0c0cf6" stroke-width="0.3"/>
<circle cx="308.70" cy="327.93" r="1.35" fill="#0c0cf6" stroke="#0c0cf6" stroke-width="0.3"/>
<rect x="316.19" y="310.87" width="2.50" height="2.50" fill="#0c0cf6" stroke="#0c0cf6" stroke-width="0.3"/>
<circle cx="317.44" cy="309.15" r="1.35" fill="#0c0cf6" stroke="#0c0cf6" stroke-width="0.3"/>
<rect x="325.00" y="299.47" width="2.50" height="2.50" fill="#0c0cf6" stroke="#0c0cf6" stroke-width="0.3"/>
<circle cx="326.25" cy="304.69" r="1.35" fill="#0c0cf6" stroke="#0c0cf6" stroke-width="0.3"/>
<rect x="333.96" y="295.81" width="2.50" height="2.50" fill="#0c0cf6" stroke="#0c0cf6" stroke-width="0.3"/>
<circle cx="335.21" cy="304.00" r="1.35" fill="#0c0cf6" stroke="#0c0cf6" stroke-width="0.3"/>
<rect x="342.78" y="294.87" width="2.50" height="2.50" fill="#0c0cf6" stroke="#0c0cf6" stroke-width="0.3"/>
<circle cx="344.03" cy="303.91" r="1.35" fill="#0c0cf6" stroke="#0c0cf6" stroke-width="0.3"/>
<line x1="367.30" y1="287.60" x2="376.50" y2="287.60" stroke="#0c0cf6" stroke-width="1.2"/>
<circle cx="371.90" cy="287.60" r="1.30" fill="#0c0cf6" stroke="#0c0cf6" stroke-width="0.7"/>
<line x1="367.30" y1="296.80" x2="376.50" y2="296.80" stroke="#4f5cff" stroke-width="1.2"/>
<circle cx="371.90" cy="296.80" r="1.30" fill="#fff" stroke="#4f5cff" stroke-width="0.7"/>
<line x1="367.30" y1="309.70" x2="376.50" y2="309.70" stroke="#b3a600" stroke-width="1.2"/>
<circle cx="371.90" cy="309.70" r="1.30" fill="#b3a600" stroke="#b3a600" stroke-width="0.7"/>
<line x1="367.30" y1="318.90" x2="376.50" y2="318.90" stroke="#d6d27a" stroke-width="1.2"/>
<circle cx="371.90" cy="318.90" r="1.30" fill="#fff" stroke="#d6d27a" stroke-width="0.7"/>
<line x1="367.30" y1="337.30" x2="376.50" y2="337.30" stroke="#0c0cf6" stroke-width="1.2" stroke-dasharray="1.6,1.3"/>
<rect x="370.60" y="336.00" width="2.60" height="2.60" fill="#0c0cf6" stroke="#0c0cf6" stroke-width="0.7"/>
<line x1="367.30" y1="358.50" x2="376.50" y2="358.50" stroke="#c8c400" stroke-width="1.2" stroke-dasharray="1.6,1.3"/>
<rect x="370.60" y="357.20" width="2.60" height="2.60" fill="#c8c400" stroke="#c8c400" stroke-width="0.7"/>
<text x="381.40" y="290.10" font-size="7.45">HT19 hIgG1 (h647)</text>
<text x="381.40" y="299.30" font-size="7.45">HT19 hIgG1 (m647)</text>
<text x="381.40" y="312.20" font-size="7.45">Trastuzumab mIg2a (m647)</text>
<text x="381.40" y="321.40" font-size="7.45">Trastuzumab mIg2a (h647)</text>
<text x="381.40" y="335.40" font-size="7.45">HT19 hIgG1 +</text>
<text x="381.40" y="344.20" font-size="7.45">Trastuzumab mIg2a (h647)</text>
<text x="381.40" y="357.10" font-size="7.45">HT19 hIgG1 +</text>
<text x="381.40" y="366.20" font-size="7.45">Trastuzumab mIg2a (m647)</text>
<line x1="44.60" y1="408.02" x2="44.60" y2="489.00" stroke="#000" stroke-width="1.0"/>
<line x1="42.30" y1="488.50" x2="44.60" y2="488.50" stroke="#000" stroke-width="1.0"/>
<text x="40.50" y="490.23" font-size="4.8" text-anchor="end">0</text>
<line x1="42.30" y1="475.17" x2="44.60" y2="475.17" stroke="#000" stroke-width="1.0"/>
<text x="40.50" y="476.90" font-size="4.8" text-anchor="end">20,000</text>
<line x1="42.30" y1="461.84" x2="44.60" y2="461.84" stroke="#000" stroke-width="1.0"/>
<text x="40.50" y="463.57" font-size="4.8" text-anchor="end">40,000</text>
<line x1="42.30" y1="448.51" x2="44.60" y2="448.51" stroke="#000" stroke-width="1.0"/>
<text x="40.50" y="450.24" font-size="4.8" text-anchor="end">60,000</text>
<line x1="42.30" y1="435.18" x2="44.60" y2="435.18" stroke="#000" stroke-width="1.0"/>
<text x="40.50" y="436.91" font-size="4.8" text-anchor="end">80,000</text>
<line x1="42.30" y1="421.85" x2="44.60" y2="421.85" stroke="#000" stroke-width="1.0"/>
<text x="40.50" y="423.58" font-size="4.8" text-anchor="end">100,000</text>
<line x1="42.30" y1="408.52" x2="44.60" y2="408.52" stroke="#000" stroke-width="1.0"/>
<text x="40.50" y="410.25" font-size="4.8" text-anchor="end">120,000</text>
<line x1="44.60" y1="488.50" x2="124.10" y2="488.50" stroke="#000" stroke-width="1.0"/>
<line x1="51.60" y1="488.50" x2="51.60" y2="490.70" stroke="#000" stroke-width="1.0"/>
<line x1="55.96" y1="488.50" x2="55.96" y2="489.70" stroke="#000" stroke-width="0.6"/>
<line x1="58.52" y1="488.50" x2="58.52" y2="489.70" stroke="#000" stroke-width="0.6"/>
<line x1="60.33" y1="488.50" x2="60.33" y2="489.70" stroke="#000" stroke-width="0.6"/>
<line x1="61.74" y1="488.50" x2="61.74" y2="489.70" stroke="#000" stroke-width="0.6"/>
<line x1="62.88" y1="488.50" x2="62.88" y2="489.70" stroke="#000" stroke-width="0.6"/>
<line x1="63.85" y1="488.50" x2="63.85" y2="489.70" stroke="#000" stroke-width="0.6"/>
<line x1="64.69" y1="488.50" x2="64.69" y2="489.70" stroke="#000" stroke-width="0.6"/>
<line x1="65.44" y1="488.50" x2="65.44" y2="489.70" stroke="#000" stroke-width="0.6"/>
<line x1="66.10" y1="488.50" x2="66.10" y2="490.70" stroke="#000" stroke-width="1.0"/>
<line x1="70.46" y1="488.50" x2="70.46" y2="489.70" stroke="#000" stroke-width="0.6"/>
<line x1="73.02" y1="488.50" x2="73.02" y2="489.70" stroke="#000" stroke-width="0.6"/>
<line x1="74.83" y1="488.50" x2="74.83" y2="489.70" stroke="#000" stroke-width="0.6"/>
<line x1="76.24" y1="488.50" x2="76.24" y2="489.70" stroke="#000" stroke-width="0.6"/>
<line x1="77.38" y1="488.50" x2="77.38" y2="489.70" stroke="#000" stroke-width="0.6"/>
<line x1="78.35" y1="488.50" x2="78.35" y2="489.70" stroke="#000" stroke-width="0.6"/>
<line x1="79.19" y1="488.50" x2="79.19" y2="489.70" stroke="#000" stroke-width="0.6"/>
<line x1="79.94" y1="488.50" x2="79.94" y2="489.70" stroke="#000" stroke-width="0.6"/>
<line x1="80.60" y1="488.50" x2="80.60" y2="490.70" stroke="#000" stroke-width="1.0"/>
<line x1="84.96" y1="488.50" x2="84.96" y2="489.70" stroke="#000" stroke-width="0.6"/>
<line x1="87.52" y1="488.50" x2="87.52" y2="489.70" stroke="#000" stroke-width="0.6"/>
<line x1="89.33" y1="488.50" x2="89.33" y2="489.70" stroke="#000" stroke-width="0.6"/>
<line x1="90.74" y1="488.50" x2="90.74" y2="489.70" stroke="#000" stroke-width="0.6"/>
<line x1="91.88" y1="488.50" x2="91.88" y2="489.70" stroke="#000" stroke-width="0.6"/>
<line x1="92.85" y1="488.50" x2="92.85" y2="489.70" stroke="#000" stroke-width="0.6"/>
<line x1="93.69" y1="488.50" x2="93.69" y2="489.70" stroke="#000" stroke-width="0.6"/>
<line x1="94.44" y1="488.50" x2="94.44" y2="489.70" stroke="#000" stroke-width="0.6"/>
<line x1="95.10" y1="488.50" x2="95.10" y2="490.70" stroke="#000" stroke-width="1.0"/>
<line x1="99.46" y1="488.50" x2="99.46" y2="489.70" stroke="#000" stroke-width="0.6"/>
<line x1="102.02" y1="488.50" x2="102.02" y2="489.70" stroke="#000" stroke-width="0.6"/>
<line x1="103.83" y1="488.50" x2="103.83" y2="489.70" stroke="#000" stroke-width="0.6"/>
<line x1="105.24" y1="488.50" x2="105.24" y2="489.70" stroke="#000" stroke-width="0.6"/>
<line x1="106.38" y1="488.50" x2="106.38" y2="489.70" stroke="#000" stroke-width="0.6"/>
<line x1="107.35" y1="488.50" x2="107.35" y2="489.70" stroke="#000" stroke-width="0.6"/>
<line x1="108.19" y1="488.50" x2="108.19" y2="489.70" stroke="#000" stroke-width="0.6"/>
<line x1="108.94" y1="488.50" x2="108.94" y2="489.70" stroke="#000" stroke-width="0.6"/>
<line x1="109.60" y1="488.50" x2="109.60" y2="490.70" stroke="#000" stroke-width="1.0"/>
<line x1="113.96" y1="488.50" x2="113.96" y2="489.70" stroke="#000" stroke-width="0.6"/>
<line x1="116.52" y1="488.50" x2="116.52" y2="489.70" stroke="#000" stroke-width="0.6"/>
<line x1="118.33" y1="488.50" x2="118.33" y2="489.70" stroke="#000" stroke-width="0.6"/>
<line x1="119.74" y1="488.50" x2="119.74" y2="489.70" stroke="#000" stroke-width="0.6"/>
<line x1="120.88" y1="488.50" x2="120.88" y2="489.70" stroke="#000" stroke-width="0.6"/>
<line x1="121.85" y1="488.50" x2="121.85" y2="489.70" stroke="#000" stroke-width="0.6"/>
<line x1="122.69" y1="488.50" x2="122.69" y2="489.70" stroke="#000" stroke-width="0.6"/>
<line x1="123.44" y1="488.50" x2="123.44" y2="489.70" stroke="#000" stroke-width="0.6"/>
<line x1="124.10" y1="488.50" x2="124.10" y2="490.70" stroke="#000" stroke-width="1.0"/>
<text x="51.60" y="497.50" font-size="4.8" text-anchor="middle">0.01</text>
<text x="66.10" y="497.50" font-size="4.8" text-anchor="middle">0.1</text>
<text x="80.60" y="497.50" font-size="4.8" text-anchor="middle">1</text>
<text x="95.10" y="497.50" font-size="4.8" text-anchor="middle">10</text>
<text x="109.60" y="497.50" font-size="4.8" text-anchor="middle">100</text>
<text x="124.10" y="497.50" font-size="4.8" text-anchor="middle">1,000</text>
<text x="84.30" y="411.30" font-size="8.2" text-anchor="middle">HCC1954</text>
<text x="84.60" y="504.80" font-size="6.1" text-anchor="middle">Antibody (nmol/L)</text>
<text x="10.60" y="448.40" font-size="6.2" text-anchor="middle" transform="rotate(-90 10.60 448.40)">Cell binding</text>
<text x="17.60" y="448.40" font-size="6.1" text-anchor="middle" transform="rotate(-90 17.60 448.40)">(geometric mean)</text>
<line x1="62.18" y1="480.50" x2="62.18" y2="489.00" stroke="#4ea4f8" stroke-width="0.6"/>
<line x1="61.28" y1="480.50" x2="63.08" y2="480.50" stroke="#4ea4f8" stroke-width="0.6"/>
<line x1="61.28" y1="489.00" x2="63.08" y2="489.00" stroke="#4ea4f8" stroke-width="0.6"/>
<line x1="71.03" y1="481.00" x2="71.03" y2="488.00" stroke="#4ea4f8" stroke-width="0.6"/>
<line x1="70.13" y1="481.00" x2="71.93" y2="481.00" stroke="#4ea4f8" stroke-width="0.6"/>
<line x1="70.13" y1="488.00" x2="71.93" y2="488.00" stroke="#4ea4f8" stroke-width="0.6"/>
<line x1="80.74" y1="470.00" x2="80.74" y2="482.00" stroke="#4ea4f8" stroke-width="0.6"/>
<line x1="79.84" y1="470.00" x2="81.64" y2="470.00" stroke="#4ea4f8" stroke-width="0.6"/>
<line x1="79.84" y1="482.00" x2="81.64" y2="482.00" stroke="#4ea4f8" stroke-width="0.6"/>
<line x1="88.14" y1="444.70" x2="88.14" y2="464.80" stroke="#4ea4f8" stroke-width="0.6"/>
<line x1="87.24" y1="444.70" x2="89.04" y2="444.70" stroke="#4ea4f8" stroke-width="0.6"/>
<line x1="87.24" y1="464.80" x2="89.04" y2="464.80" stroke="#4ea4f8" stroke-width="0.6"/>
<line x1="96.69" y1="433.00" x2="96.69" y2="442.00" stroke="#4ea4f8" stroke-width="0.6"/>
<line x1="95.79" y1="433.00" x2="97.59" y2="433.00" stroke="#4ea4f8" stroke-width="0.6"/>
<line x1="95.79" y1="442.00" x2="97.59" y2="442.00" stroke="#4ea4f8" stroke-width="0.6"/>
<line x1="105.54" y1="424.00" x2="105.54" y2="431.00" stroke="#4ea4f8" stroke-width="0.6"/>
<line x1="104.64" y1="424.00" x2="106.44" y2="424.00" stroke="#4ea4f8" stroke-width="0.6"/>
<line x1="104.64" y1="431.00" x2="106.44" y2="431.00" stroke="#4ea4f8" stroke-width="0.6"/>
<line x1="113.95" y1="424.00" x2="113.95" y2="435.00" stroke="#4ea4f8" stroke-width="0.6"/>
<line x1="113.05" y1="424.00" x2="114.85" y2="424.00" stroke="#4ea4f8" stroke-width="0.6"/>
<line x1="113.05" y1="435.00" x2="114.85" y2="435.00" stroke="#4ea4f8" stroke-width="0.6"/>
<polyline points="51.60,487.61 52.64,487.59 53.68,487.57 54.72,487.54 55.76,487.51 56.80,487.47 57.83,487.42 58.87,487.37 59.91,487.30 60.95,487.22 61.99,487.13 63.03,487.02 64.07,486.88 65.11,486.72 66.15,486.53 67.19,486.30 68.23,486.03 69.27,485.71 70.30,485.33 71.34,484.88 72.38,484.35 73.42,483.73 74.46,483.00 75.50,482.15 76.54,481.16 77.58,480.03 78.62,478.73 79.66,477.25 80.70,475.58 81.74,473.72 82.77,471.67 83.81,469.44 84.85,467.04 85.89,464.49 86.93,461.84 87.97,459.11 89.01,456.35 90.05,453.61 91.09,450.92 92.13,448.34 93.17,445.89 94.21,443.60 95.24,441.48 96.28,439.56 97.32,437.83 98.36,436.29 99.40,434.93 100.44,433.74 101.48,432.71 102.52,431.82 103.56,431.05 104.60,430.39 105.64,429.83 106.68,429.36 107.71,428.96 108.75,428.62 109.79,428.33 110.83,428.09 111.87,427.89 112.91,427.72 113.95,427.57" stroke="#4ea4f8" stroke-width="1.0" fill="none" stroke-linejoin="round"/>
<polyline points="51.60,487.96 52.64,487.96 53.68,487.96 54.72,487.96 55.76,487.95 56.80,487.95 57.83,487.95 58.87,487.94 59.91,487.93 60.95,487.92 61.99,487.91 63.03,487.90 64.07,487.88 65.11,487.85 66.15,487.82 67.19,487.78 68.23,487.73 69.27,487.66 70.30,487.58 71.34,487.47 72.38,487.33 73.42,487.15 74.46,486.93 75.50,486.64 76.54,486.28 77.58,485.83 78.62,485.25 79.66,484.53 80.70,483.63 81.74,482.53 82.77,481.17 83.81,479.53 84.85,477.56 85.89,475.25 86.93,472.58 87.97,469.57 89.01,466.25 90.05,462.69 91.09,458.97 92.13,455.22 93.17,451.53 94.21,448.02 95.24,444.78 96.28,441.85 97.32,439.27 98.36,437.05 99.40,435.17 100.44,433.61 101.48,432.32 102.52,431.27 103.56,430.42 104.60,429.74 105.64,429.20 106.68,428.77 107.71,428.43 108.75,428.16 109.79,427.95 110.83,427.78 111.87,427.65 112.91,427.55 113.95,427.47" stroke="#0a0af6" stroke-width="1.25" fill="none" stroke-linejoin="round"/>
<rect x="50.35" y="485.95" width="2.50" height="2.50" fill="#4ea4f8" stroke="#4ea4f8" stroke-width="0.3"/>
<rect x="60.93" y="483.65" width="2.50" height="2.50" fill="#4ea4f8" stroke="#4ea4f8" stroke-width="0.3"/>
<rect x="69.78" y="483.65" width="2.50" height="2.50" fill="#4ea4f8" stroke="#4ea4f8" stroke-width="0.3"/>
<rect x="79.49" y="474.75" width="2.50" height="2.50" fill="#4ea4f8" stroke="#4ea4f8" stroke-width="0.3"/>
<rect x="86.89" y="457.85" width="2.50" height="2.50" fill="#4ea4f8" stroke="#4ea4f8" stroke-width="0.3"/>
<rect x="95.44" y="436.65" width="2.50" height="2.50" fill="#4ea4f8" stroke="#4ea4f8" stroke-width="0.3"/>
<rect x="104.29" y="426.55" width="2.50" height="2.50" fill="#4ea4f8" stroke="#4ea4f8" stroke-width="0.3"/>
<rect x="112.70" y="427.15" width="2.50" height="2.50" fill="#4ea4f8" stroke="#4ea4f8" stroke-width="0.3"/>
<circle cx="51.60" cy="487.70" r="1.45" fill="#0a0af6" stroke="#0a0af6" stroke-width="0.3"/>
<circle cx="62.18" cy="487.40" r="1.45" fill="#0a0af6" stroke="#0a0af6" stroke-width="0.3"/>
<circle cx="71.03" cy="486.00" r="1.45" fill="#0a0af6" stroke="#0a0af6" stroke-width="0.3"/>
<circle cx="80.74" cy="481.70" r="1.45" fill="#0a0af6" stroke="#0a0af6" stroke-width="0.3"/>
<circle cx="88.14" cy="469.00" r="1.45" fill="#0a0af6" stroke="#0a0af6" stroke-width="0.3"/>
<circle cx="96.69" cy="440.50" r="1.45" fill="#0a0af6" stroke="#0a0af6" stroke-width="0.3"/>
<circle cx="105.54" cy="428.20" r="1.45" fill="#0a0af6" stroke="#0a0af6" stroke-width="0.3"/>
<circle cx="113.95" cy="428.80" r="1.45" fill="#0a0af6" stroke="#0a0af6" stroke-width="0.3"/>
<text x="38.80" y="517.10" font-size="8.55">XMT-2056 EC<tspan font-size="5.64" dy="2.05">50</tspan><tspan dy="-2.05">: 3.2 nmol/L</tspan></text>
<text x="38.80" y="525.80" font-size="8.55">XMT-2056 B<tspan font-size="5.64" dy="2.05">max</tspan><tspan dy="-2.05">: 80,998 gMFI</tspan></text>
<line x1="188.60" y1="408.50" x2="188.60" y2="487.30" stroke="#000" stroke-width="1.0"/>
<line x1="186.30" y1="486.80" x2="188.60" y2="486.80" stroke="#000" stroke-width="1.0"/>
<text x="184.50" y="488.53" font-size="4.8" text-anchor="end">0</text>
<line x1="186.30" y1="467.35" x2="188.60" y2="467.35" stroke="#000" stroke-width="1.0"/>
<text x="184.50" y="469.08" font-size="4.8" text-anchor="end">500</text>
<line x1="186.30" y1="447.90" x2="188.60" y2="447.90" stroke="#000" stroke-width="1.0"/>
<text x="184.50" y="449.63" font-size="4.8" text-anchor="end">1,000</text>
<line x1="186.30" y1="428.45" x2="188.60" y2="428.45" stroke="#000" stroke-width="1.0"/>
<text x="184.50" y="430.18" font-size="4.8" text-anchor="end">1,500</text>
<line x1="186.30" y1="409.00" x2="188.60" y2="409.00" stroke="#000" stroke-width="1.0"/>
<text x="184.50" y="410.73" font-size="4.8" text-anchor="end">2,000</text>
<line x1="188.60" y1="487.80" x2="270.00" y2="487.80" stroke="#000" stroke-width="1.0"/>
<line x1="195.00" y1="487.80" x2="195.00" y2="490.00" stroke="#000" stroke-width="1.0"/>
<line x1="199.52" y1="487.80" x2="199.52" y2="489.00" stroke="#000" stroke-width="0.6"/>
<line x1="202.16" y1="487.80" x2="202.16" y2="489.00" stroke="#000" stroke-width="0.6"/>
<line x1="204.03" y1="487.80" x2="204.03" y2="489.00" stroke="#000" stroke-width="0.6"/>
<line x1="205.48" y1="487.80" x2="205.48" y2="489.00" stroke="#000" stroke-width="0.6"/>
<line x1="206.67" y1="487.80" x2="206.67" y2="489.00" stroke="#000" stroke-width="0.6"/>
<line x1="207.68" y1="487.80" x2="207.68" y2="489.00" stroke="#000" stroke-width="0.6"/>
<line x1="208.55" y1="487.80" x2="208.55" y2="489.00" stroke="#000" stroke-width="0.6"/>
<line x1="209.31" y1="487.80" x2="209.31" y2="489.00" stroke="#000" stroke-width="0.6"/>
<line x1="210.00" y1="487.80" x2="210.00" y2="490.00" stroke="#000" stroke-width="1.0"/>
<line x1="214.52" y1="487.80" x2="214.52" y2="489.00" stroke="#000" stroke-width="0.6"/>
<line x1="217.16" y1="487.80" x2="217.16" y2="489.00" stroke="#000" stroke-width="0.6"/>
<line x1="219.03" y1="487.80" x2="219.03" y2="489.00" stroke="#000" stroke-width="0.6"/>
<line x1="220.48" y1="487.80" x2="220.48" y2="489.00" stroke="#000" stroke-width="0.6"/>
<line x1="221.67" y1="487.80" x2="221.67" y2="489.00" stroke="#000" stroke-width="0.6"/>
<line x1="222.68" y1="487.80" x2="222.68" y2="489.00" stroke="#000" stroke-width="0.6"/>
<line x1="223.55" y1="487.80" x2="223.55" y2="489.00" stroke="#000" stroke-width="0.6"/>
<line x1="224.31" y1="487.80" x2="224.31" y2="489.00" stroke="#000" stroke-width="0.6"/>
<line x1="225.00" y1="487.80" x2="225.00" y2="490.00" stroke="#000" stroke-width="1.0"/>
<line x1="229.52" y1="487.80" x2="229.52" y2="489.00" stroke="#000" stroke-width="0.6"/>
<line x1="232.16" y1="487.80" x2="232.16" y2="489.00" stroke="#000" stroke-width="0.6"/>
<line x1="234.03" y1="487.80" x2="234.03" y2="489.00" stroke="#000" stroke-width="0.6"/>
<line x1="235.48" y1="487.80" x2="235.48" y2="489.00" stroke="#000" stroke-width="0.6"/>
<line x1="236.67" y1="487.80" x2="236.67" y2="489.00" stroke="#000" stroke-width="0.6"/>
<line x1="237.68" y1="487.80" x2="237.68" y2="489.00" stroke="#000" stroke-width="0.6"/>
<line x1="238.55" y1="487.80" x2="238.55" y2="489.00" stroke="#000" stroke-width="0.6"/>
<line x1="239.31" y1="487.80" x2="239.31" y2="489.00" stroke="#000" stroke-width="0.6"/>
<line x1="240.00" y1="487.80" x2="240.00" y2="490.00" stroke="#000" stroke-width="1.0"/>
<line x1="244.52" y1="487.80" x2="244.52" y2="489.00" stroke="#000" stroke-width="0.6"/>
<line x1="247.16" y1="487.80" x2="247.16" y2="489.00" stroke="#000" stroke-width="0.6"/>
<line x1="249.03" y1="487.80" x2="249.03" y2="489.00" stroke="#000" stroke-width="0.6"/>
<line x1="250.48" y1="487.80" x2="250.48" y2="489.00" stroke="#000" stroke-width="0.6"/>
<line x1="251.67" y1="487.80" x2="251.67" y2="489.00" stroke="#000" stroke-width="0.6"/>
<line x1="252.68" y1="487.80" x2="252.68" y2="489.00" stroke="#000" stroke-width="0.6"/>
<line x1="253.55" y1="487.80" x2="253.55" y2="489.00" stroke="#000" stroke-width="0.6"/>
<line x1="254.31" y1="487.80" x2="254.31" y2="489.00" stroke="#000" stroke-width="0.6"/>
<line x1="255.00" y1="487.80" x2="255.00" y2="490.00" stroke="#000" stroke-width="1.0"/>
<line x1="259.52" y1="487.80" x2="259.52" y2="489.00" stroke="#000" stroke-width="0.6"/>
<line x1="262.16" y1="487.80" x2="262.16" y2="489.00" stroke="#000" stroke-width="0.6"/>
<line x1="264.03" y1="487.80" x2="264.03" y2="489.00" stroke="#000" stroke-width="0.6"/>
<line x1="265.48" y1="487.80" x2="265.48" y2="489.00" stroke="#000" stroke-width="0.6"/>
<line x1="266.67" y1="487.80" x2="266.67" y2="489.00" stroke="#000" stroke-width="0.6"/>
<line x1="267.68" y1="487.80" x2="267.68" y2="489.00" stroke="#000" stroke-width="0.6"/>
<line x1="268.55" y1="487.80" x2="268.55" y2="489.00" stroke="#000" stroke-width="0.6"/>
<line x1="269.31" y1="487.80" x2="269.31" y2="489.00" stroke="#000" stroke-width="0.6"/>
<line x1="270.00" y1="487.80" x2="270.00" y2="490.00" stroke="#000" stroke-width="1.0"/>
<text x="195.00" y="496.60" font-size="4.8" text-anchor="middle">0.01</text>
<text x="210.00" y="496.60" font-size="4.8" text-anchor="middle">0.1</text>
<text x="225.00" y="496.60" font-size="4.8" text-anchor="middle">1</text>
<text x="240.00" y="496.60" font-size="4.8" text-anchor="middle">10</text>
<text x="255.00" y="496.60" font-size="4.8" text-anchor="middle">100</text>
<text x="270.00" y="496.60" font-size="4.8" text-anchor="middle">1,000</text>
<text x="229.00" y="411.20" font-size="8.2" text-anchor="middle">HCC1954</text>
<text x="229.20" y="504.40" font-size="6.1" text-anchor="middle">Payload (nmol/L)</text>
<text x="160.20" y="448.00" font-size="6.1" text-anchor="middle" transform="rotate(-90 160.20 448.00)">CXCL10 production</text>
<text x="168.20" y="448.00" font-size="6.1" text-anchor="middle" transform="rotate(-90 168.20 448.00)">(pg/mL)</text>
<polyline points="196.95,486.49 197.97,486.49 199.00,486.49 200.03,486.49 201.05,486.49 202.07,486.49 203.10,486.49 204.12,486.49 205.15,486.49 206.18,486.49 207.20,486.49 208.22,486.49 209.25,486.49 210.28,486.49 211.30,486.49 212.32,486.49 213.35,486.49 214.38,486.49 215.40,486.49 216.42,486.49 217.45,486.49 218.47,486.49 219.50,486.49 220.53,486.49 221.55,486.49 222.57,486.49 223.60,486.49 224.62,486.49 225.65,486.49 226.67,486.49 227.70,486.49 228.72,486.49 229.75,486.49 230.78,486.49 231.80,486.49 232.82,486.49 233.85,486.49 234.88,486.49 235.90,486.49 236.92,486.49 237.95,486.49 238.97,486.49 240.00,486.49 241.03,486.49 242.05,486.49 243.07,486.49 244.10,486.49 245.12,486.49 246.15,486.49 247.18,486.49 248.20,486.49 249.22,486.49 250.25,486.49 251.28,486.49 252.30,486.49 253.32,486.49 254.35,486.49 255.38,486.49 256.40,486.49 257.43,486.49 258.45,486.49" stroke="#777777" stroke-width="0.7" fill="none" stroke-linejoin="round"/>
<polyline points="196.95,486.80 197.97,486.79 199.00,486.79 200.03,486.79 201.05,486.79 202.07,486.79 203.10,486.79 204.12,486.79 205.15,486.78 206.18,486.78 207.20,486.78 208.22,486.78 209.25,486.77 210.28,486.77 211.30,486.76 212.32,486.75 213.35,486.75 214.38,486.74 215.40,486.73 216.42,486.71 217.45,486.70 218.47,486.68 219.50,486.66 220.53,486.64 221.55,486.61 222.57,486.58 223.60,486.54 224.62,486.50 225.65,486.45 226.67,486.39 227.70,486.32 228.72,486.24 229.75,486.15 230.78,486.04 231.80,485.91 232.82,485.76 233.85,485.59 234.88,485.39 235.90,485.15 236.92,484.89 237.95,484.57 238.97,484.21 240.00,483.80 241.03,483.32 242.05,482.78 243.07,482.15 244.10,481.45 245.12,480.65 246.15,479.74 247.18,478.73 248.20,477.61 249.22,476.36 250.25,475.00 251.28,473.52 252.30,471.92 253.32,470.22 254.35,468.42 255.38,466.54 256.40,464.60 257.43,462.63 258.45,460.64" stroke="#d21fd2" stroke-width="1.0" fill="none" stroke-linejoin="round"/>
<polyline points="196.95,486.75 197.97,486.74 199.00,486.72 200.03,486.70 201.05,486.68 202.07,486.65 203.10,486.61 204.12,486.57 205.15,486.51 206.18,486.44 207.20,486.36 208.22,486.25 209.25,486.11 210.28,485.95 211.30,485.74 212.32,485.48 213.35,485.17 214.38,484.78 215.40,484.31 216.42,483.73 217.45,483.03 218.47,482.17 219.50,481.15 220.53,479.94 221.55,478.51 222.57,476.84 223.60,474.93 224.62,472.76 225.65,470.35 226.67,467.73 227.70,464.93 228.72,462.01 229.75,459.04 230.78,456.08 231.80,453.22 232.82,450.50 233.85,447.97 234.88,445.68 235.90,443.64 236.92,441.84 237.95,440.29 238.97,438.97 240.00,437.85 241.03,436.92 242.05,436.14 243.07,435.50 244.10,434.98 245.12,434.55 246.15,434.20 247.18,433.91 248.20,433.68 249.22,433.50 250.25,433.35 251.28,433.23 252.30,433.13 253.32,433.05 254.35,432.99 255.38,432.94 256.40,432.90 257.43,432.86 258.45,432.84" stroke="#0a0af6" stroke-width="1.25" fill="none" stroke-linejoin="round"/>
<line x1="223.50" y1="470.50" x2="223.50" y2="476.50" stroke="#0a0af6" stroke-width="0.6"/>
<line x1="222.60" y1="470.50" x2="224.40" y2="470.50" stroke="#0a0af6" stroke-width="0.6"/>
<line x1="222.60" y1="476.50" x2="224.40" y2="476.50" stroke="#0a0af6" stroke-width="0.6"/>
<line x1="232.65" y1="443.00" x2="232.65" y2="452.00" stroke="#0a0af6" stroke-width="0.6"/>
<line x1="231.75" y1="443.00" x2="233.55" y2="443.00" stroke="#0a0af6" stroke-width="0.6"/>
<line x1="231.75" y1="452.00" x2="233.55" y2="452.00" stroke="#0a0af6" stroke-width="0.6"/>
<line x1="241.35" y1="435.00" x2="241.35" y2="453.00" stroke="#0a0af6" stroke-width="0.6"/>
<line x1="240.45" y1="435.00" x2="242.25" y2="435.00" stroke="#0a0af6" stroke-width="0.6"/>
<line x1="240.45" y1="453.00" x2="242.25" y2="453.00" stroke="#0a0af6" stroke-width="0.6"/>
<line x1="249.90" y1="432.00" x2="249.90" y2="438.00" stroke="#0a0af6" stroke-width="0.6"/>
<line x1="249.00" y1="432.00" x2="250.80" y2="432.00" stroke="#0a0af6" stroke-width="0.6"/>
<line x1="249.00" y1="438.00" x2="250.80" y2="438.00" stroke="#0a0af6" stroke-width="0.6"/>
<line x1="258.45" y1="424.00" x2="258.45" y2="433.00" stroke="#0a0af6" stroke-width="0.6"/>
<line x1="257.55" y1="424.00" x2="259.35" y2="424.00" stroke="#0a0af6" stroke-width="0.6"/>
<line x1="257.55" y1="433.00" x2="259.35" y2="433.00" stroke="#0a0af6" stroke-width="0.6"/>
<circle cx="196.95" cy="486.80" r="1.45" fill="#0a0af6" stroke="#0a0af6" stroke-width="0.3"/>
<circle cx="206.55" cy="486.40" r="1.45" fill="#0a0af6" stroke="#0a0af6" stroke-width="0.3"/>
<circle cx="214.95" cy="484.70" r="1.45" fill="#0a0af6" stroke="#0a0af6" stroke-width="0.3"/>
<circle cx="223.50" cy="473.50" r="1.45" fill="#0a0af6" stroke="#0a0af6" stroke-width="0.3"/>
<circle cx="232.65" cy="447.70" r="1.45" fill="#0a0af6" stroke="#0a0af6" stroke-width="0.3"/>
<circle cx="241.35" cy="442.80" r="1.45" fill="#0a0af6" stroke="#0a0af6" stroke-width="0.3"/>
<circle cx="249.90" cy="435.40" r="1.45" fill="#0a0af6" stroke="#0a0af6" stroke-width="0.3"/>
<circle cx="258.45" cy="428.70" r="1.45" fill="#0a0af6" stroke="#0a0af6" stroke-width="0.3"/>
<polygon points="196.95,485.37 198.38,487.84 195.52,487.84" fill="#d21fd2" stroke="#d21fd2" stroke-width="0.3"/>
<polygon points="206.55,485.37 207.98,487.84 205.12,487.84" fill="#d21fd2" stroke="#d21fd2" stroke-width="0.3"/>
<polygon points="214.95,485.37 216.38,487.84 213.52,487.84" fill="#d21fd2" stroke="#d21fd2" stroke-width="0.3"/>
<polygon points="223.50,485.37 224.93,487.84 222.07,487.84" fill="#d21fd2" stroke="#d21fd2" stroke-width="0.3"/>
<polygon points="232.65,485.07 234.08,487.54 231.22,487.54" fill="#d21fd2" stroke="#d21fd2" stroke-width="0.3"/>
<polygon points="241.35,483.67 242.78,486.14 239.92,486.14" fill="#d21fd2" stroke="#d21fd2" stroke-width="0.3"/>
<polygon points="249.90,473.37 251.33,475.84 248.47,475.84" fill="#d21fd2" stroke="#d21fd2" stroke-width="0.3"/>
<polygon points="258.45,461.67 259.88,464.14 257.02,464.14" fill="#d21fd2" stroke="#d21fd2" stroke-width="0.3"/>
<polygon points="249.90,486.02 250.72,484.60 249.08,484.60" fill="#777777" stroke="#777777" stroke-width="0.3"/>
<polygon points="258.45,486.02 259.27,484.60 257.62,484.60" fill="#777777" stroke="#777777" stroke-width="0.3"/>
<text x="182.00" y="516.90" font-size="8.55">XMT-2056 EC<tspan font-size="5.64" dy="2.05">50</tspan><tspan dy="-2.05">: 2.67 nmol/L</tspan></text>
<text x="182.00" y="525.60" font-size="8.55">Free payload EC<tspan font-size="5.64" dy="2.05">50</tspan><tspan dy="-2.05">: &gt;200 nmol/L</tspan></text>
<line x1="323.80" y1="408.50" x2="323.80" y2="487.30" stroke="#000" stroke-width="1.0"/>
<line x1="321.50" y1="486.80" x2="323.80" y2="486.80" stroke="#000" stroke-width="1.0"/>
<text x="319.70" y="488.53" font-size="4.8" text-anchor="end">0</text>
<line x1="321.50" y1="467.35" x2="323.80" y2="467.35" stroke="#000" stroke-width="1.0"/>
<text x="319.70" y="469.08" font-size="4.8" text-anchor="end">500</text>
<line x1="321.50" y1="447.90" x2="323.80" y2="447.90" stroke="#000" stroke-width="1.0"/>
<text x="319.70" y="449.63" font-size="4.8" text-anchor="end">1,000</text>
<line x1="321.50" y1="428.45" x2="323.80" y2="428.45" stroke="#000" stroke-width="1.0"/>
<text x="319.70" y="430.18" font-size="4.8" text-anchor="end">1,500</text>
<line x1="321.50" y1="409.00" x2="323.80" y2="409.00" stroke="#000" stroke-width="1.0"/>
<text x="319.70" y="410.73" font-size="4.8" text-anchor="end">2,000</text>
<line x1="323.80" y1="487.80" x2="403.50" y2="487.80" stroke="#000" stroke-width="1.0"/>
<line x1="325.50" y1="487.80" x2="325.50" y2="490.00" stroke="#000" stroke-width="1.0"/>
<line x1="330.20" y1="487.80" x2="330.20" y2="489.00" stroke="#000" stroke-width="0.6"/>
<line x1="332.94" y1="487.80" x2="332.94" y2="489.00" stroke="#000" stroke-width="0.6"/>
<line x1="334.89" y1="487.80" x2="334.89" y2="489.00" stroke="#000" stroke-width="0.6"/>
<line x1="336.40" y1="487.80" x2="336.40" y2="489.00" stroke="#000" stroke-width="0.6"/>
<line x1="337.64" y1="487.80" x2="337.64" y2="489.00" stroke="#000" stroke-width="0.6"/>
<line x1="338.68" y1="487.80" x2="338.68" y2="489.00" stroke="#000" stroke-width="0.6"/>
<line x1="339.59" y1="487.80" x2="339.59" y2="489.00" stroke="#000" stroke-width="0.6"/>
<line x1="340.39" y1="487.80" x2="340.39" y2="489.00" stroke="#000" stroke-width="0.6"/>
<line x1="341.10" y1="487.80" x2="341.10" y2="490.00" stroke="#000" stroke-width="1.0"/>
<line x1="345.80" y1="487.80" x2="345.80" y2="489.00" stroke="#000" stroke-width="0.6"/>
<line x1="348.54" y1="487.80" x2="348.54" y2="489.00" stroke="#000" stroke-width="0.6"/>
<line x1="350.49" y1="487.80" x2="350.49" y2="489.00" stroke="#000" stroke-width="0.6"/>
<line x1="352.00" y1="487.80" x2="352.00" y2="489.00" stroke="#000" stroke-width="0.6"/>
<line x1="353.24" y1="487.80" x2="353.24" y2="489.00" stroke="#000" stroke-width="0.6"/>
<line x1="354.28" y1="487.80" x2="354.28" y2="489.00" stroke="#000" stroke-width="0.6"/>
<line x1="355.19" y1="487.80" x2="355.19" y2="489.00" stroke="#000" stroke-width="0.6"/>
<line x1="355.99" y1="487.80" x2="355.99" y2="489.00" stroke="#000" stroke-width="0.6"/>
<line x1="356.70" y1="487.80" x2="356.70" y2="490.00" stroke="#000" stroke-width="1.0"/>
<line x1="361.40" y1="487.80" x2="361.40" y2="489.00" stroke="#000" stroke-width="0.6"/>
<line x1="364.14" y1="487.80" x2="364.14" y2="489.00" stroke="#000" stroke-width="0.6"/>
<line x1="366.09" y1="487.80" x2="366.09" y2="489.00" stroke="#000" stroke-width="0.6"/>
<line x1="367.60" y1="487.80" x2="367.60" y2="489.00" stroke="#000" stroke-width="0.6"/>
<line x1="368.84" y1="487.80" x2="368.84" y2="489.00" stroke="#000" stroke-width="0.6"/>
<line x1="369.88" y1="487.80" x2="369.88" y2="489.00" stroke="#000" stroke-width="0.6"/>
<line x1="370.79" y1="487.80" x2="370.79" y2="489.00" stroke="#000" stroke-width="0.6"/>
<line x1="371.59" y1="487.80" x2="371.59" y2="489.00" stroke="#000" stroke-width="0.6"/>
<line x1="372.30" y1="487.80" x2="372.30" y2="490.00" stroke="#000" stroke-width="1.0"/>
<line x1="377.00" y1="487.80" x2="377.00" y2="489.00" stroke="#000" stroke-width="0.6"/>
<line x1="379.74" y1="487.80" x2="379.74" y2="489.00" stroke="#000" stroke-width="0.6"/>
<line x1="381.69" y1="487.80" x2="381.69" y2="489.00" stroke="#000" stroke-width="0.6"/>
<line x1="383.20" y1="487.80" x2="383.20" y2="489.00" stroke="#000" stroke-width="0.6"/>
<line x1="384.44" y1="487.80" x2="384.44" y2="489.00" stroke="#000" stroke-width="0.6"/>
<line x1="385.48" y1="487.80" x2="385.48" y2="489.00" stroke="#000" stroke-width="0.6"/>
<line x1="386.39" y1="487.80" x2="386.39" y2="489.00" stroke="#000" stroke-width="0.6"/>
<line x1="387.19" y1="487.80" x2="387.19" y2="489.00" stroke="#000" stroke-width="0.6"/>
<line x1="387.90" y1="487.80" x2="387.90" y2="490.00" stroke="#000" stroke-width="1.0"/>
<line x1="392.60" y1="487.80" x2="392.60" y2="489.00" stroke="#000" stroke-width="0.6"/>
<line x1="395.34" y1="487.80" x2="395.34" y2="489.00" stroke="#000" stroke-width="0.6"/>
<line x1="397.29" y1="487.80" x2="397.29" y2="489.00" stroke="#000" stroke-width="0.6"/>
<line x1="398.80" y1="487.80" x2="398.80" y2="489.00" stroke="#000" stroke-width="0.6"/>
<line x1="400.04" y1="487.80" x2="400.04" y2="489.00" stroke="#000" stroke-width="0.6"/>
<line x1="401.08" y1="487.80" x2="401.08" y2="489.00" stroke="#000" stroke-width="0.6"/>
<line x1="401.99" y1="487.80" x2="401.99" y2="489.00" stroke="#000" stroke-width="0.6"/>
<line x1="402.79" y1="487.80" x2="402.79" y2="489.00" stroke="#000" stroke-width="0.6"/>
<line x1="403.50" y1="487.80" x2="403.50" y2="490.00" stroke="#000" stroke-width="1.0"/>
<text x="325.50" y="496.60" font-size="4.8" text-anchor="middle">0.001</text>
<text x="341.10" y="496.60" font-size="4.8" text-anchor="middle">0.01</text>
<text x="356.70" y="496.60" font-size="4.8" text-anchor="middle">0.1</text>
<text x="372.30" y="496.60" font-size="4.8" text-anchor="middle">1</text>
<text x="387.90" y="496.60" font-size="4.8" text-anchor="middle">10</text>
<text x="403.50" y="496.60" font-size="4.8" text-anchor="middle">100</text>
<text x="364.00" y="410.00" font-size="8.2" text-anchor="middle">HCC1954</text>
<text x="364.00" y="505.00" font-size="6.1" text-anchor="middle">Antibody (nmol/L)</text>
<text x="296.40" y="447.50" font-size="6.1" text-anchor="middle" transform="rotate(-90 296.40 447.50)">CXCL10 production</text>
<text x="304.60" y="447.50" font-size="6.1" text-anchor="middle" transform="rotate(-90 304.60 447.50)">(pg/mL)</text>
<polyline points="327.06,486.61 328.19,486.61 329.31,486.61 330.44,486.61 331.56,486.61 332.69,486.61 333.81,486.61 334.94,486.61 336.07,486.61 337.19,486.61 338.32,486.61 339.44,486.61 340.57,486.61 341.70,486.61 342.82,486.61 343.95,486.61 345.07,486.61 346.20,486.61 347.32,486.61 348.45,486.61 349.58,486.61 350.70,486.61 351.83,486.61 352.95,486.61 354.08,486.61 355.21,486.61 356.33,486.61 357.46,486.61 358.58,486.61 359.71,486.61 360.83,486.61 361.96,486.61 363.09,486.61 364.21,486.61 365.34,486.61 366.46,486.61 367.59,486.61 368.71,486.61 369.84,486.61 370.97,486.61 372.09,486.61 373.22,486.61 374.34,486.61 375.47,486.61 376.60,486.61 377.72,486.61 378.85,486.61 379.97,486.61 381.10,486.61 382.22,486.61 383.35,486.61 384.48,486.61 385.60,486.61 386.73,486.61 387.85,486.61 388.98,486.61 390.10,486.61 391.23,486.61 392.36,486.61 393.48,486.61 394.61,486.61" stroke="#777777" stroke-width="0.7" fill="none" stroke-linejoin="round"/>
<polyline points="327.06,486.80 328.19,486.80 329.31,486.80 330.44,486.80 331.56,486.80 332.69,486.80 333.81,486.80 334.94,486.80 336.07,486.80 337.19,486.80 338.32,486.80 339.44,486.80 340.57,486.80 341.70,486.80 342.82,486.80 343.95,486.80 345.07,486.80 346.20,486.80 347.32,486.80 348.45,486.80 349.58,486.80 350.70,486.80 351.83,486.80 352.95,486.80 354.08,486.80 355.21,486.80 356.33,486.80 357.46,486.80 358.58,486.80 359.71,486.80 360.83,486.80 361.96,486.80 363.09,486.80 364.21,486.80 365.34,486.80 366.46,486.80 367.59,486.80 368.71,486.80 369.84,486.80 370.97,486.80 372.09,486.80 373.22,486.80 374.34,486.80 375.47,486.80 376.60,486.80 377.72,486.80 378.85,486.80 379.97,486.80 381.10,486.80 382.22,486.80 383.35,486.80 384.48,486.80 385.60,486.80 386.73,486.80 387.85,486.80 388.98,486.80 390.10,486.80 391.23,486.80 392.36,486.80 393.48,486.80 394.61,486.80" stroke="#4ea4f8" stroke-width="1.0" fill="none" stroke-linejoin="round"/>
<polyline points="327.06,486.77 328.19,486.76 329.31,486.75 330.44,486.73 331.56,486.72 332.69,486.70 333.81,486.67 334.94,486.63 336.07,486.59 337.19,486.54 338.32,486.47 339.44,486.38 340.57,486.27 341.70,486.14 342.82,485.97 343.95,485.75 345.07,485.49 346.20,485.15 347.32,484.74 348.45,484.22 349.58,483.59 350.70,482.81 351.83,481.86 352.95,480.71 354.08,479.33 355.21,477.70 356.33,475.81 357.46,473.63 358.58,471.18 359.71,468.47 360.83,465.56 361.96,462.49 363.09,459.36 364.21,456.23 365.34,453.20 366.46,450.34 367.59,447.69 368.71,445.31 369.84,443.20 370.97,441.38 372.09,439.82 373.22,438.50 374.34,437.41 375.47,436.51 376.60,435.77 377.72,435.16 378.85,434.68 379.97,434.28 381.10,433.97 382.22,433.72 383.35,433.51 384.48,433.35 385.60,433.22 386.73,433.12 387.85,433.04 388.98,432.98 390.10,432.93 391.23,432.88 392.36,432.85 393.48,432.83 394.61,432.81" stroke="#0a0af6" stroke-width="1.25" fill="none" stroke-linejoin="round"/>
<line x1="356.23" y1="470.50" x2="356.23" y2="476.50" stroke="#0a0af6" stroke-width="0.6"/>
<line x1="355.33" y1="470.50" x2="357.13" y2="470.50" stroke="#0a0af6" stroke-width="0.6"/>
<line x1="355.33" y1="476.50" x2="357.13" y2="476.50" stroke="#0a0af6" stroke-width="0.6"/>
<line x1="365.75" y1="443.00" x2="365.75" y2="452.00" stroke="#0a0af6" stroke-width="0.6"/>
<line x1="364.85" y1="443.00" x2="366.65" y2="443.00" stroke="#0a0af6" stroke-width="0.6"/>
<line x1="364.85" y1="452.00" x2="366.65" y2="452.00" stroke="#0a0af6" stroke-width="0.6"/>
<line x1="375.58" y1="435.00" x2="375.58" y2="453.00" stroke="#0a0af6" stroke-width="0.6"/>
<line x1="374.68" y1="435.00" x2="376.48" y2="435.00" stroke="#0a0af6" stroke-width="0.6"/>
<line x1="374.68" y1="453.00" x2="376.48" y2="453.00" stroke="#0a0af6" stroke-width="0.6"/>
<line x1="385.09" y1="432.00" x2="385.09" y2="438.00" stroke="#0a0af6" stroke-width="0.6"/>
<line x1="384.19" y1="432.00" x2="385.99" y2="432.00" stroke="#0a0af6" stroke-width="0.6"/>
<line x1="384.19" y1="438.00" x2="385.99" y2="438.00" stroke="#0a0af6" stroke-width="0.6"/>
<line x1="394.61" y1="424.00" x2="394.61" y2="433.00" stroke="#0a0af6" stroke-width="0.6"/>
<line x1="393.71" y1="424.00" x2="395.51" y2="424.00" stroke="#0a0af6" stroke-width="0.6"/>
<line x1="393.71" y1="433.00" x2="395.51" y2="433.00" stroke="#0a0af6" stroke-width="0.6"/>
<circle cx="327.06" cy="486.75" r="1.45" fill="#0a0af6" stroke="#0a0af6" stroke-width="0.3"/>
<circle cx="337.04" cy="486.75" r="1.45" fill="#0a0af6" stroke="#0a0af6" stroke-width="0.3"/>
<circle cx="346.25" cy="485.00" r="1.45" fill="#0a0af6" stroke="#0a0af6" stroke-width="0.3"/>
<circle cx="356.23" cy="473.25" r="1.45" fill="#0a0af6" stroke="#0a0af6" stroke-width="0.3"/>
<circle cx="365.75" cy="448.00" r="1.45" fill="#0a0af6" stroke="#0a0af6" stroke-width="0.3"/>
<circle cx="375.58" cy="443.25" r="1.45" fill="#0a0af6" stroke="#0a0af6" stroke-width="0.3"/>
<circle cx="385.09" cy="435.00" r="1.45" fill="#0a0af6" stroke="#0a0af6" stroke-width="0.3"/>
<circle cx="394.61" cy="428.75" r="1.45" fill="#0a0af6" stroke="#0a0af6" stroke-width="0.3"/>
<rect x="325.81" y="485.55" width="2.50" height="2.50" fill="#4ea4f8" stroke="#4ea4f8" stroke-width="0.3"/>
<rect x="335.79" y="485.55" width="2.50" height="2.50" fill="#4ea4f8" stroke="#4ea4f8" stroke-width="0.3"/>
<rect x="345.00" y="485.55" width="2.50" height="2.50" fill="#4ea4f8" stroke="#4ea4f8" stroke-width="0.3"/>
<rect x="354.98" y="485.55" width="2.50" height="2.50" fill="#4ea4f8" stroke="#4ea4f8" stroke-width="0.3"/>
<rect x="364.50" y="485.55" width="2.50" height="2.50" fill="#4ea4f8" stroke="#4ea4f8" stroke-width="0.3"/>
<rect x="374.33" y="485.55" width="2.50" height="2.50" fill="#4ea4f8" stroke="#4ea4f8" stroke-width="0.3"/>
<rect x="383.84" y="485.55" width="2.50" height="2.50" fill="#4ea4f8" stroke="#4ea4f8" stroke-width="0.3"/>
<rect x="393.36" y="485.55" width="2.50" height="2.50" fill="#4ea4f8" stroke="#4ea4f8" stroke-width="0.3"/>
<polygon points="394.61,485.82 395.43,484.40 393.78,484.40" fill="#777777" stroke="#777777" stroke-width="0.3"/>
<text x="325.00" y="516.90" font-size="8.55">XMT-2056 EC<tspan font-size="5.64" dy="2.05">50</tspan><tspan dy="-2.05">: 0.33 nmol/L</tspan></text>
<rect x="7.2" y="535.1" width="446.4" height="26.7" fill="none" stroke="#666" stroke-width="0.9"/>
<line x1="12.80" y1="549.60" x2="26.50" y2="549.60" stroke="#0000f8" stroke-width="1.6"/>
<circle cx="19.65" cy="549.60" r="2.30" fill="#0000f8" stroke="#0000f8" stroke-width="0.3"/>
<text x="34.50" y="552.50" font-size="8.6">XMT-2056</text>
<line x1="103.70" y1="549.60" x2="117.20" y2="549.60" stroke="#10c010" stroke-width="1.6"/>
<circle cx="110.45" cy="549.60" r="2.30" fill="#10c010" stroke="#10c010" stroke-width="0.3"/>
<text x="125.20" y="547.40" font-size="8.6">XMT-2056</text>
<text x="125.20" y="557.80" font-size="8.6">Fc mutant</text>
<line x1="196.00" y1="549.60" x2="209.20" y2="549.60" stroke="#5aa6f7" stroke-width="1.6"/>
<rect x="200.70" y="547.70" width="3.80" height="3.80" fill="#5aa6f7" stroke="#5aa6f7" stroke-width="0.3"/>
<text x="216.90" y="552.60" font-size="8.6">HT19</text>
<line x1="261.50" y1="550.20" x2="275.40" y2="550.20" stroke="#c000d8" stroke-width="1.6"/>
<polygon points="268.45,547.45 271.20,552.20 265.70,552.20" fill="#c000d8" stroke="#c000d8" stroke-width="0.3"/>
<text x="283.20" y="553.20" font-size="8.6">Free payload</text>
<line x1="359.60" y1="549.40" x2="373.00" y2="549.40" stroke="#555" stroke-width="1.6"/>
<polygon points="366.30,552.15 369.05,547.40 363.55,547.40" fill="#555" stroke="#555" stroke-width="0.3"/>
<text x="381.20" y="547.30" font-size="8.6">Nonbinding</text>
<text x="381.20" y="557.80" font-size="8.6">Control ADC</text>
<line x1="36.70" y1="589.10" x2="36.70" y2="666.50" stroke="#000" stroke-width="1.0"/>
<line x1="34.40" y1="666.00" x2="36.70" y2="666.00" stroke="#000" stroke-width="1.0"/>
<text x="32.60" y="667.73" font-size="4.8" text-anchor="end">0</text>
<line x1="34.40" y1="646.90" x2="36.70" y2="646.90" stroke="#000" stroke-width="1.0"/>
<text x="32.60" y="648.63" font-size="4.8" text-anchor="end">50,000</text>
<line x1="34.40" y1="627.80" x2="36.70" y2="627.80" stroke="#000" stroke-width="1.0"/>
<text x="32.60" y="629.53" font-size="4.8" text-anchor="end">100,000</text>
<line x1="34.40" y1="608.70" x2="36.70" y2="608.70" stroke="#000" stroke-width="1.0"/>
<text x="32.60" y="610.43" font-size="4.8" text-anchor="end">150,000</text>
<line x1="34.40" y1="589.60" x2="36.70" y2="589.60" stroke="#000" stroke-width="1.0"/>
<text x="32.60" y="591.33" font-size="4.8" text-anchor="end">200,000</text>
<line x1="36.70" y1="669.60" x2="116.20" y2="669.60" stroke="#000" stroke-width="1.0"/>
<line x1="43.70" y1="669.60" x2="43.70" y2="671.80" stroke="#000" stroke-width="1.0"/>
<line x1="48.06" y1="669.60" x2="48.06" y2="670.80" stroke="#000" stroke-width="0.6"/>
<line x1="50.62" y1="669.60" x2="50.62" y2="670.80" stroke="#000" stroke-width="0.6"/>
<line x1="52.43" y1="669.60" x2="52.43" y2="670.80" stroke="#000" stroke-width="0.6"/>
<line x1="53.84" y1="669.60" x2="53.84" y2="670.80" stroke="#000" stroke-width="0.6"/>
<line x1="54.98" y1="669.60" x2="54.98" y2="670.80" stroke="#000" stroke-width="0.6"/>
<line x1="55.95" y1="669.60" x2="55.95" y2="670.80" stroke="#000" stroke-width="0.6"/>
<line x1="56.79" y1="669.60" x2="56.79" y2="670.80" stroke="#000" stroke-width="0.6"/>
<line x1="57.54" y1="669.60" x2="57.54" y2="670.80" stroke="#000" stroke-width="0.6"/>
<line x1="58.20" y1="669.60" x2="58.20" y2="671.80" stroke="#000" stroke-width="1.0"/>
<line x1="62.56" y1="669.60" x2="62.56" y2="670.80" stroke="#000" stroke-width="0.6"/>
<line x1="65.12" y1="669.60" x2="65.12" y2="670.80" stroke="#000" stroke-width="0.6"/>
<line x1="66.93" y1="669.60" x2="66.93" y2="670.80" stroke="#000" stroke-width="0.6"/>
<line x1="68.34" y1="669.60" x2="68.34" y2="670.80" stroke="#000" stroke-width="0.6"/>
<line x1="69.48" y1="669.60" x2="69.48" y2="670.80" stroke="#000" stroke-width="0.6"/>
<line x1="70.45" y1="669.60" x2="70.45" y2="670.80" stroke="#000" stroke-width="0.6"/>
<line x1="71.29" y1="669.60" x2="71.29" y2="670.80" stroke="#000" stroke-width="0.6"/>
<line x1="72.04" y1="669.60" x2="72.04" y2="670.80" stroke="#000" stroke-width="0.6"/>
<line x1="72.70" y1="669.60" x2="72.70" y2="671.80" stroke="#000" stroke-width="1.0"/>
<line x1="77.06" y1="669.60" x2="77.06" y2="670.80" stroke="#000" stroke-width="0.6"/>
<line x1="79.62" y1="669.60" x2="79.62" y2="670.80" stroke="#000" stroke-width="0.6"/>
<line x1="81.43" y1="669.60" x2="81.43" y2="670.80" stroke="#000" stroke-width="0.6"/>
<line x1="82.84" y1="669.60" x2="82.84" y2="670.80" stroke="#000" stroke-width="0.6"/>
<line x1="83.98" y1="669.60" x2="83.98" y2="670.80" stroke="#000" stroke-width="0.6"/>
<line x1="84.95" y1="669.60" x2="84.95" y2="670.80" stroke="#000" stroke-width="0.6"/>
<line x1="85.79" y1="669.60" x2="85.79" y2="670.80" stroke="#000" stroke-width="0.6"/>
<line x1="86.54" y1="669.60" x2="86.54" y2="670.80" stroke="#000" stroke-width="0.6"/>
<line x1="87.20" y1="669.60" x2="87.20" y2="671.80" stroke="#000" stroke-width="1.0"/>
<line x1="91.56" y1="669.60" x2="91.56" y2="670.80" stroke="#000" stroke-width="0.6"/>
<line x1="94.12" y1="669.60" x2="94.12" y2="670.80" stroke="#000" stroke-width="0.6"/>
<line x1="95.93" y1="669.60" x2="95.93" y2="670.80" stroke="#000" stroke-width="0.6"/>
<line x1="97.34" y1="669.60" x2="97.34" y2="670.80" stroke="#000" stroke-width="0.6"/>
<line x1="98.48" y1="669.60" x2="98.48" y2="670.80" stroke="#000" stroke-width="0.6"/>
<line x1="99.45" y1="669.60" x2="99.45" y2="670.80" stroke="#000" stroke-width="0.6"/>
<line x1="100.29" y1="669.60" x2="100.29" y2="670.80" stroke="#000" stroke-width="0.6"/>
<line x1="101.04" y1="669.60" x2="101.04" y2="670.80" stroke="#000" stroke-width="0.6"/>
<line x1="101.70" y1="669.60" x2="101.70" y2="671.80" stroke="#000" stroke-width="1.0"/>
<line x1="106.06" y1="669.60" x2="106.06" y2="670.80" stroke="#000" stroke-width="0.6"/>
<line x1="108.62" y1="669.60" x2="108.62" y2="670.80" stroke="#000" stroke-width="0.6"/>
<line x1="110.43" y1="669.60" x2="110.43" y2="670.80" stroke="#000" stroke-width="0.6"/>
<line x1="111.84" y1="669.60" x2="111.84" y2="670.80" stroke="#000" stroke-width="0.6"/>
<line x1="112.98" y1="669.60" x2="112.98" y2="670.80" stroke="#000" stroke-width="0.6"/>
<line x1="113.95" y1="669.60" x2="113.95" y2="670.80" stroke="#000" stroke-width="0.6"/>
<line x1="114.79" y1="669.60" x2="114.79" y2="670.80" stroke="#000" stroke-width="0.6"/>
<line x1="115.54" y1="669.60" x2="115.54" y2="670.80" stroke="#000" stroke-width="0.6"/>
<line x1="116.20" y1="669.60" x2="116.20" y2="671.80" stroke="#000" stroke-width="1.0"/>
<text x="43.70" y="678.30" font-size="4.8" text-anchor="middle">0.01</text>
<text x="58.20" y="678.30" font-size="4.8" text-anchor="middle">0.1</text>
<text x="72.70" y="678.30" font-size="4.8" text-anchor="middle">1</text>
<text x="87.20" y="678.30" font-size="4.8" text-anchor="middle">10</text>
<text x="101.70" y="678.30" font-size="4.8" text-anchor="middle">100</text>
<text x="116.20" y="678.30" font-size="4.8" text-anchor="middle">1,000</text>
<text x="76.20" y="592.40" font-size="8.4" text-anchor="middle">SKOV3</text>
<text x="76.20" y="684.80" font-size="6.1" text-anchor="middle">Antibody (nmol/L)</text>
<text x="5.80" y="627.30" font-size="6.0" text-anchor="middle" transform="rotate(-90 5.80 627.30)">Cell binding</text>
<text x="12.70" y="627.30" font-size="6.0" text-anchor="middle" transform="rotate(-90 12.70 627.30)">(geometric mean)</text>
<polyline points="45.01,666.00 46.03,666.00 47.05,666.00 48.08,666.00 49.10,666.00 50.13,666.00 51.15,666.00 52.18,666.00 53.20,666.00 54.23,666.00 55.25,666.00 56.28,666.00 57.30,666.00 58.33,666.00 59.35,666.00 60.38,666.00 61.40,666.00 62.42,666.00 63.45,666.00 64.47,666.00 65.50,666.00 66.52,666.00 67.55,666.00 68.57,666.00 69.60,666.00 70.62,666.00 71.65,666.00 72.67,666.00 73.70,666.00 74.72,666.00 75.75,666.00 76.77,666.00 77.79,666.00 78.82,666.00 79.84,666.00 80.87,666.00 81.89,666.00 82.92,666.00 83.94,666.00 84.97,666.00 85.99,666.00 87.02,666.00 88.04,666.00 89.07,666.00 90.09,666.00 91.12,666.00 92.14,666.00 93.16,666.00 94.19,666.00 95.21,666.00 96.24,666.00 97.26,666.00 98.29,666.00 99.31,666.00 100.34,666.00 101.36,666.00 102.39,666.00 103.41,666.00 104.44,666.00 105.46,666.00 106.49,666.00" stroke="#111" stroke-width="1.0" fill="none" stroke-linejoin="round"/>
<circle cx="45.01" cy="666.00" r="0.95" fill="#111" stroke="#111" stroke-width="0.2"/>
<circle cx="54.00" cy="666.00" r="0.95" fill="#111" stroke="#111" stroke-width="0.2"/>
<circle cx="62.70" cy="666.00" r="0.95" fill="#111" stroke="#111" stroke-width="0.2"/>
<circle cx="71.25" cy="666.00" r="0.95" fill="#111" stroke="#111" stroke-width="0.2"/>
<circle cx="79.95" cy="666.00" r="0.95" fill="#111" stroke="#111" stroke-width="0.2"/>
<circle cx="88.65" cy="666.00" r="0.95" fill="#111" stroke="#111" stroke-width="0.2"/>
<circle cx="97.35" cy="666.00" r="0.95" fill="#111" stroke="#111" stroke-width="0.2"/>
<circle cx="106.49" cy="666.00" r="0.95" fill="#111" stroke="#111" stroke-width="0.2"/>
<polyline points="45.01,665.18 46.03,665.17 47.05,665.14 48.08,665.12 49.10,665.08 50.13,665.03 51.15,664.96 52.18,664.87 53.20,664.76 54.23,664.61 55.25,664.41 56.28,664.16 57.30,663.82 58.33,663.39 59.35,662.82 60.38,662.09 61.40,661.16 62.42,659.98 63.45,658.50 64.47,656.68 65.50,654.46 66.52,651.82 67.55,648.76 68.57,645.32 69.60,641.56 70.62,637.62 71.65,633.63 72.67,629.73 73.70,626.08 74.72,622.76 75.75,619.84 76.77,617.34 77.79,615.26 78.82,613.56 79.84,612.18 80.87,611.09 81.89,610.24 82.92,609.57 83.94,609.05 84.97,608.65 85.99,608.35 87.02,608.11 88.04,607.93 89.07,607.80 90.09,607.69 91.12,607.61 92.14,607.55 93.16,607.51 94.19,607.47 95.21,607.45 96.24,607.43 97.26,607.41 98.29,607.40 99.31,607.39 100.34,607.38 101.36,607.38 102.39,607.37 103.41,607.37 104.44,607.37 105.46,607.37 106.49,607.37" stroke="#4ea4f8" stroke-width="1.0" fill="none" stroke-linejoin="round"/>
<polyline points="45.01,665.79 46.03,665.78 47.05,665.77 48.08,665.76 49.10,665.75 50.13,665.74 51.15,665.72 52.18,665.70 53.20,665.66 54.23,665.63 55.25,665.58 56.28,665.52 57.30,665.44 58.33,665.34 59.35,665.22 60.38,665.07 61.40,664.87 62.42,664.63 63.45,664.32 64.47,663.94 65.50,663.47 66.52,662.88 67.55,662.15 68.57,661.26 69.60,660.18 70.62,658.89 71.65,657.34 72.67,655.53 73.70,653.44 74.72,651.08 75.75,648.46 76.77,645.62 77.79,642.63 78.82,639.55 79.84,636.48 80.87,633.50 81.89,630.67 82.92,628.07 83.94,625.72 84.97,623.64 85.99,621.85 87.02,620.32 88.04,619.03 89.07,617.97 90.09,617.09 91.12,616.37 92.14,615.79 93.16,615.32 94.19,614.94 95.21,614.64 96.24,614.40 97.26,614.21 98.29,614.06 99.31,613.93 100.34,613.84 101.36,613.76 102.39,613.70 103.41,613.65 104.44,613.62 105.46,613.59 106.49,613.56" stroke="#1fbf1f" stroke-width="1.3" fill="none" stroke-linejoin="round"/>
<polyline points="45.01,665.39 46.03,665.38 47.05,665.37 48.08,665.35 49.10,665.33 50.13,665.30 51.15,665.26 52.18,665.21 53.20,665.15 54.23,665.07 55.25,664.96 56.28,664.83 57.30,664.65 58.33,664.42 59.35,664.13 60.38,663.76 61.40,663.28 62.42,662.67 63.45,661.91 64.47,660.94 65.50,659.74 66.52,658.26 67.55,656.47 68.57,654.32 69.60,651.81 70.62,648.93 71.65,645.73 72.67,642.25 73.70,638.61 74.72,634.91 75.75,631.28 76.77,627.83 77.79,624.66 78.82,621.82 79.84,619.35 80.87,617.25 81.89,615.49 82.92,614.05 83.94,612.87 84.97,611.93 85.99,611.19 87.02,610.59 88.04,610.13 89.07,609.77 90.09,609.48 91.12,609.26 92.14,609.09 93.16,608.96 94.19,608.86 95.21,608.78 96.24,608.72 97.26,608.67 98.29,608.63 99.31,608.60 100.34,608.58 101.36,608.57 102.39,608.55 103.41,608.54 104.44,608.53 105.46,608.53 106.49,608.52" stroke="#0a0af6" stroke-width="1.25" fill="none" stroke-linejoin="round"/>
<rect x="43.76" y="664.15" width="2.50" height="2.50" fill="#4ea4f8" stroke="#4ea4f8" stroke-width="0.3"/>
<rect x="52.75" y="662.25" width="2.50" height="2.50" fill="#4ea4f8" stroke="#4ea4f8" stroke-width="0.3"/>
<rect x="61.45" y="657.95" width="2.50" height="2.50" fill="#4ea4f8" stroke="#4ea4f8" stroke-width="0.3"/>
<rect x="70.00" y="640.65" width="2.50" height="2.50" fill="#4ea4f8" stroke="#4ea4f8" stroke-width="0.3"/>
<rect x="78.70" y="609.35" width="2.50" height="2.50" fill="#4ea4f8" stroke="#4ea4f8" stroke-width="0.3"/>
<rect x="87.40" y="606.45" width="2.50" height="2.50" fill="#4ea4f8" stroke="#4ea4f8" stroke-width="0.3"/>
<rect x="96.10" y="606.05" width="2.50" height="2.50" fill="#4ea4f8" stroke="#4ea4f8" stroke-width="0.3"/>
<rect x="105.24" y="605.45" width="2.50" height="2.50" fill="#4ea4f8" stroke="#4ea4f8" stroke-width="0.3"/>
<circle cx="45.01" cy="665.80" r="1.45" fill="#1fbf1f" stroke="#1fbf1f" stroke-width="0.3"/>
<circle cx="54.00" cy="665.40" r="1.45" fill="#1fbf1f" stroke="#1fbf1f" stroke-width="0.3"/>
<circle cx="62.70" cy="663.80" r="1.45" fill="#1fbf1f" stroke="#1fbf1f" stroke-width="0.3"/>
<circle cx="71.25" cy="655.80" r="1.45" fill="#1fbf1f" stroke="#1fbf1f" stroke-width="0.3"/>
<circle cx="79.95" cy="632.30" r="1.45" fill="#1fbf1f" stroke="#1fbf1f" stroke-width="0.3"/>
<circle cx="88.65" cy="614.40" r="1.45" fill="#1fbf1f" stroke="#1fbf1f" stroke-width="0.3"/>
<circle cx="97.35" cy="613.80" r="1.45" fill="#1fbf1f" stroke="#1fbf1f" stroke-width="0.3"/>
<circle cx="106.49" cy="613.50" r="1.45" fill="#1fbf1f" stroke="#1fbf1f" stroke-width="0.3"/>
<circle cx="45.01" cy="665.40" r="1.45" fill="#0a0af6" stroke="#0a0af6" stroke-width="0.3"/>
<circle cx="54.00" cy="664.40" r="1.45" fill="#0a0af6" stroke="#0a0af6" stroke-width="0.3"/>
<circle cx="62.70" cy="660.60" r="1.45" fill="#0a0af6" stroke="#0a0af6" stroke-width="0.3"/>
<circle cx="71.25" cy="650.00" r="1.45" fill="#0a0af6" stroke="#0a0af6" stroke-width="0.3"/>
<circle cx="79.95" cy="621.70" r="1.45" fill="#0a0af6" stroke="#0a0af6" stroke-width="0.3"/>
<circle cx="88.65" cy="609.20" r="1.45" fill="#0a0af6" stroke="#0a0af6" stroke-width="0.3"/>
<circle cx="97.35" cy="609.20" r="1.45" fill="#0a0af6" stroke="#0a0af6" stroke-width="0.3"/>
<circle cx="106.49" cy="608.70" r="1.45" fill="#0a0af6" stroke="#0a0af6" stroke-width="0.3"/>
<text x="33.30" y="699.90" font-size="8.55">XMT-2056 EC<tspan font-size="5.64" dy="2.05">50</tspan><tspan dy="-2.05">: 1.28 nmol/L</tspan></text>
<text x="33.30" y="708.80" font-size="8.55">XMT-2056 B<tspan font-size="5.64" dy="2.05">max</tspan><tspan dy="-2.05">: 113,736 gMFI</tspan></text>
<line x1="180.40" y1="592.70" x2="180.40" y2="668.90" stroke="#000" stroke-width="1.0"/>
<line x1="178.10" y1="668.40" x2="180.40" y2="668.40" stroke="#000" stroke-width="1.0"/>
<text x="176.30" y="670.13" font-size="4.8" text-anchor="end">0</text>
<line x1="178.10" y1="653.36" x2="180.40" y2="653.36" stroke="#000" stroke-width="1.0"/>
<text x="176.30" y="655.09" font-size="4.8" text-anchor="end">20,000</text>
<line x1="178.10" y1="638.32" x2="180.40" y2="638.32" stroke="#000" stroke-width="1.0"/>
<text x="176.30" y="640.05" font-size="4.8" text-anchor="end">40,000</text>
<line x1="178.10" y1="623.28" x2="180.40" y2="623.28" stroke="#000" stroke-width="1.0"/>
<text x="176.30" y="625.01" font-size="4.8" text-anchor="end">60,000</text>
<line x1="178.10" y1="608.24" x2="180.40" y2="608.24" stroke="#000" stroke-width="1.0"/>
<text x="176.30" y="609.97" font-size="4.8" text-anchor="end">80,000</text>
<line x1="178.10" y1="593.20" x2="180.40" y2="593.20" stroke="#000" stroke-width="1.0"/>
<text x="176.30" y="594.93" font-size="4.8" text-anchor="end">100,000</text>
<line x1="180.40" y1="671.20" x2="257.60" y2="671.20" stroke="#000" stroke-width="1.0"/>
<line x1="186.60" y1="671.20" x2="186.60" y2="673.40" stroke="#000" stroke-width="1.0"/>
<line x1="190.87" y1="671.20" x2="190.87" y2="672.40" stroke="#000" stroke-width="0.6"/>
<line x1="193.38" y1="671.20" x2="193.38" y2="672.40" stroke="#000" stroke-width="0.6"/>
<line x1="195.15" y1="671.20" x2="195.15" y2="672.40" stroke="#000" stroke-width="0.6"/>
<line x1="196.53" y1="671.20" x2="196.53" y2="672.40" stroke="#000" stroke-width="0.6"/>
<line x1="197.65" y1="671.20" x2="197.65" y2="672.40" stroke="#000" stroke-width="0.6"/>
<line x1="198.60" y1="671.20" x2="198.60" y2="672.40" stroke="#000" stroke-width="0.6"/>
<line x1="199.42" y1="671.20" x2="199.42" y2="672.40" stroke="#000" stroke-width="0.6"/>
<line x1="200.15" y1="671.20" x2="200.15" y2="672.40" stroke="#000" stroke-width="0.6"/>
<line x1="200.80" y1="671.20" x2="200.80" y2="673.40" stroke="#000" stroke-width="1.0"/>
<line x1="205.07" y1="671.20" x2="205.07" y2="672.40" stroke="#000" stroke-width="0.6"/>
<line x1="207.58" y1="671.20" x2="207.58" y2="672.40" stroke="#000" stroke-width="0.6"/>
<line x1="209.35" y1="671.20" x2="209.35" y2="672.40" stroke="#000" stroke-width="0.6"/>
<line x1="210.73" y1="671.20" x2="210.73" y2="672.40" stroke="#000" stroke-width="0.6"/>
<line x1="211.85" y1="671.20" x2="211.85" y2="672.40" stroke="#000" stroke-width="0.6"/>
<line x1="212.80" y1="671.20" x2="212.80" y2="672.40" stroke="#000" stroke-width="0.6"/>
<line x1="213.62" y1="671.20" x2="213.62" y2="672.40" stroke="#000" stroke-width="0.6"/>
<line x1="214.35" y1="671.20" x2="214.35" y2="672.40" stroke="#000" stroke-width="0.6"/>
<line x1="215.00" y1="671.20" x2="215.00" y2="673.40" stroke="#000" stroke-width="1.0"/>
<line x1="219.27" y1="671.20" x2="219.27" y2="672.40" stroke="#000" stroke-width="0.6"/>
<line x1="221.78" y1="671.20" x2="221.78" y2="672.40" stroke="#000" stroke-width="0.6"/>
<line x1="223.55" y1="671.20" x2="223.55" y2="672.40" stroke="#000" stroke-width="0.6"/>
<line x1="224.93" y1="671.20" x2="224.93" y2="672.40" stroke="#000" stroke-width="0.6"/>
<line x1="226.05" y1="671.20" x2="226.05" y2="672.40" stroke="#000" stroke-width="0.6"/>
<line x1="227.00" y1="671.20" x2="227.00" y2="672.40" stroke="#000" stroke-width="0.6"/>
<line x1="227.82" y1="671.20" x2="227.82" y2="672.40" stroke="#000" stroke-width="0.6"/>
<line x1="228.55" y1="671.20" x2="228.55" y2="672.40" stroke="#000" stroke-width="0.6"/>
<line x1="229.20" y1="671.20" x2="229.20" y2="673.40" stroke="#000" stroke-width="1.0"/>
<line x1="233.47" y1="671.20" x2="233.47" y2="672.40" stroke="#000" stroke-width="0.6"/>
<line x1="235.98" y1="671.20" x2="235.98" y2="672.40" stroke="#000" stroke-width="0.6"/>
<line x1="237.75" y1="671.20" x2="237.75" y2="672.40" stroke="#000" stroke-width="0.6"/>
<line x1="239.13" y1="671.20" x2="239.13" y2="672.40" stroke="#000" stroke-width="0.6"/>
<line x1="240.25" y1="671.20" x2="240.25" y2="672.40" stroke="#000" stroke-width="0.6"/>
<line x1="241.20" y1="671.20" x2="241.20" y2="672.40" stroke="#000" stroke-width="0.6"/>
<line x1="242.02" y1="671.20" x2="242.02" y2="672.40" stroke="#000" stroke-width="0.6"/>
<line x1="242.75" y1="671.20" x2="242.75" y2="672.40" stroke="#000" stroke-width="0.6"/>
<line x1="243.40" y1="671.20" x2="243.40" y2="673.40" stroke="#000" stroke-width="1.0"/>
<line x1="247.67" y1="671.20" x2="247.67" y2="672.40" stroke="#000" stroke-width="0.6"/>
<line x1="250.18" y1="671.20" x2="250.18" y2="672.40" stroke="#000" stroke-width="0.6"/>
<line x1="251.95" y1="671.20" x2="251.95" y2="672.40" stroke="#000" stroke-width="0.6"/>
<line x1="253.33" y1="671.20" x2="253.33" y2="672.40" stroke="#000" stroke-width="0.6"/>
<line x1="254.45" y1="671.20" x2="254.45" y2="672.40" stroke="#000" stroke-width="0.6"/>
<line x1="255.40" y1="671.20" x2="255.40" y2="672.40" stroke="#000" stroke-width="0.6"/>
<line x1="256.22" y1="671.20" x2="256.22" y2="672.40" stroke="#000" stroke-width="0.6"/>
<line x1="256.95" y1="671.20" x2="256.95" y2="672.40" stroke="#000" stroke-width="0.6"/>
<line x1="257.60" y1="671.20" x2="257.60" y2="673.40" stroke="#000" stroke-width="1.0"/>
<text x="186.60" y="679.90" font-size="4.8" text-anchor="middle">0.01</text>
<text x="200.80" y="679.90" font-size="4.8" text-anchor="middle">0.1</text>
<text x="215.00" y="679.90" font-size="4.8" text-anchor="middle">1</text>
<text x="229.20" y="679.90" font-size="4.8" text-anchor="middle">10</text>
<text x="243.40" y="679.90" font-size="4.8" text-anchor="middle">100</text>
<text x="257.60" y="679.90" font-size="4.8" text-anchor="middle">1,000</text>
<text x="219.00" y="591.70" font-size="8.4" text-anchor="middle">SKOV3 : THP1</text>
<text x="219.30" y="686.80" font-size="6.1" text-anchor="middle">Payload (nmol/L)</text>
<text x="153.20" y="630.60" font-size="6.45" font-weight="normal" text-anchor="middle" fill="#111" transform="rotate(-90 153.20 630.60)" stroke="#111" stroke-width="0.28">IRF3 reporter activity (RLU)</text>
<polyline points="188.45,668.40 189.45,668.40 190.45,668.40 191.45,668.40 192.45,668.40 193.45,668.40 194.45,668.40 195.45,668.40 196.45,668.40 197.46,668.40 198.46,668.40 199.46,668.40 200.46,668.40 201.46,668.40 202.46,668.40 203.46,668.40 204.46,668.40 205.46,668.40 206.47,668.40 207.47,668.40 208.47,668.40 209.47,668.40 210.47,668.40 211.47,668.40 212.47,668.40 213.47,668.40 214.47,668.40 215.48,668.40 216.48,668.40 217.48,668.40 218.48,668.40 219.48,668.40 220.48,668.40 221.48,668.40 222.48,668.40 223.48,668.40 224.49,668.40 225.49,668.40 226.49,668.40 227.49,668.40 228.49,668.40 229.49,668.40 230.49,668.40 231.49,668.40 232.49,668.40 233.50,668.40 234.50,668.40 235.50,668.40 236.50,668.40 237.50,668.40 238.50,668.40 239.50,668.40 240.50,668.40 241.50,668.40 242.51,668.40 243.51,668.40 244.51,668.40 245.51,668.40 246.51,668.40 247.51,668.40 248.51,668.40" stroke="#777777" stroke-width="0.7" fill="none" stroke-linejoin="round"/>
<polyline points="188.45,667.95 189.45,667.95 190.45,667.95 191.45,667.95 192.45,667.95 193.45,667.95 194.45,667.95 195.45,667.95 196.45,667.95 197.46,667.95 198.46,667.95 199.46,667.95 200.46,667.95 201.46,667.95 202.46,667.95 203.46,667.95 204.46,667.95 205.46,667.95 206.47,667.95 207.47,667.95 208.47,667.95 209.47,667.95 210.47,667.95 211.47,667.95 212.47,667.95 213.47,667.95 214.47,667.95 215.48,667.95 216.48,667.95 217.48,667.95 218.48,667.95 219.48,667.95 220.48,667.95 221.48,667.95 222.48,667.95 223.48,667.95 224.49,667.95 225.49,667.95 226.49,667.95 227.49,667.95 228.49,667.95 229.49,667.95 230.49,667.95 231.49,667.95 232.49,667.95 233.50,667.95 234.50,667.95 235.50,667.95 236.50,667.95 237.50,667.95 238.50,667.95 239.50,667.95 240.50,667.95 241.50,667.95 242.51,667.95 243.51,667.95 244.51,667.95 245.51,667.95 246.51,667.95 247.51,667.95 248.51,667.95" stroke="#1fbf1f" stroke-width="1.3" fill="none" stroke-linejoin="round"/>
<polyline points="188.45,668.40 189.45,668.40 190.45,668.40 191.45,668.40 192.45,668.40 193.45,668.40 194.45,668.40 195.45,668.40 196.45,668.40 197.46,668.40 198.46,668.40 199.46,668.40 200.46,668.40 201.46,668.40 202.46,668.40 203.46,668.40 204.46,668.40 205.46,668.40 206.47,668.40 207.47,668.40 208.47,668.40 209.47,668.40 210.47,668.40 211.47,668.39 212.47,668.39 213.47,668.39 214.47,668.39 215.48,668.38 216.48,668.38 217.48,668.37 218.48,668.36 219.48,668.35 220.48,668.33 221.48,668.31 222.48,668.29 223.48,668.26 224.49,668.21 225.49,668.16 226.49,668.09 227.49,668.00 228.49,667.88 229.49,667.73 230.49,667.53 231.49,667.28 232.49,666.95 233.50,666.54 234.50,666.01 235.50,665.35 236.50,664.51 237.50,663.46 238.50,662.17 239.50,660.59 240.50,658.71 241.50,656.48 242.51,653.92 243.51,651.04 244.51,647.90 245.51,644.57 246.51,641.16 247.51,637.78 248.51,634.54" stroke="#d21fd2" stroke-width="1.0" fill="none" stroke-linejoin="round"/>
<polyline points="188.45,668.39 189.45,668.38 190.45,668.38 191.45,668.36 192.45,668.35 193.45,668.33 194.45,668.30 195.45,668.25 196.45,668.18 197.46,668.09 198.46,667.95 199.46,667.76 200.46,667.49 201.46,667.10 202.46,666.55 203.46,665.78 204.46,664.71 205.46,663.26 206.47,661.32 207.47,658.80 208.47,655.66 209.47,651.90 210.47,647.64 211.47,643.11 212.47,638.58 213.47,634.35 214.47,630.61 215.48,627.49 216.48,625.01 217.48,623.09 218.48,621.65 219.48,620.60 220.48,619.84 221.48,619.30 222.48,618.92 223.48,618.64 224.49,618.45 225.49,618.32 226.49,618.23 227.49,618.16 228.49,618.12 229.49,618.09 230.49,618.07 231.49,618.05 232.49,618.04 233.50,618.03 234.50,618.03 235.50,618.02 236.50,618.02 237.50,618.02 238.50,618.02 239.50,618.02 240.50,618.02 241.50,618.02 242.51,618.02 243.51,618.02 244.51,618.02 245.51,618.02 246.51,618.02 247.51,618.02 248.51,618.02" stroke="#0a0af6" stroke-width="1.25" fill="none" stroke-linejoin="round"/>
<circle cx="188.45" cy="668.20" r="1.45" fill="#0a0af6" stroke="#0a0af6" stroke-width="0.3"/>
<circle cx="197.25" cy="668.90" r="1.45" fill="#0a0af6" stroke="#0a0af6" stroke-width="0.3"/>
<circle cx="205.77" cy="662.60" r="1.45" fill="#0a0af6" stroke="#0a0af6" stroke-width="0.3"/>
<circle cx="213.86" cy="632.60" r="1.45" fill="#0a0af6" stroke="#0a0af6" stroke-width="0.3"/>
<circle cx="222.67" cy="614.60" r="1.45" fill="#0a0af6" stroke="#0a0af6" stroke-width="0.3"/>
<circle cx="231.19" cy="617.60" r="1.45" fill="#0a0af6" stroke="#0a0af6" stroke-width="0.3"/>
<circle cx="239.85" cy="619.20" r="1.45" fill="#0a0af6" stroke="#0a0af6" stroke-width="0.3"/>
<circle cx="248.51" cy="620.80" r="1.45" fill="#0a0af6" stroke="#0a0af6" stroke-width="0.3"/>
<polygon points="239.85,658.17 241.28,660.64 238.42,660.64" fill="#d21fd2" stroke="#d21fd2" stroke-width="0.3"/>
<polygon points="248.51,632.77 249.94,635.24 247.08,635.24" fill="#d21fd2" stroke="#d21fd2" stroke-width="0.3"/>
<polygon points="188.45,669.34 189.99,666.68 186.91,666.68" fill="#1fbf1f" stroke="#1fbf1f" stroke-width="0.3"/>
<polygon points="197.25,669.34 198.79,666.68 195.71,666.68" fill="#1fbf1f" stroke="#1fbf1f" stroke-width="0.3"/>
<polygon points="205.77,669.34 207.31,666.68 204.23,666.68" fill="#1fbf1f" stroke="#1fbf1f" stroke-width="0.3"/>
<polygon points="213.86,669.34 215.40,666.68 212.32,666.68" fill="#1fbf1f" stroke="#1fbf1f" stroke-width="0.3"/>
<polygon points="222.67,669.34 224.21,666.68 221.13,666.68" fill="#1fbf1f" stroke="#1fbf1f" stroke-width="0.3"/>
<polygon points="231.19,669.34 232.73,666.68 229.65,666.68" fill="#1fbf1f" stroke="#1fbf1f" stroke-width="0.3"/>
<polygon points="239.85,669.34 241.39,666.68 238.31,666.68" fill="#1fbf1f" stroke="#1fbf1f" stroke-width="0.3"/>
<polygon points="248.51,669.34 250.05,666.68 246.97,666.68" fill="#1fbf1f" stroke="#1fbf1f" stroke-width="0.3"/>
<text x="177.60" y="699.70" font-size="8.55">XMT-2056 EC<tspan font-size="5.64" dy="2.05">50</tspan><tspan dy="-2.05">: 0.36 nmol/L</tspan></text>
<text x="177.60" y="708.60" font-size="8.55">Free payload EC<tspan font-size="5.64" dy="2.05">50</tspan><tspan dy="-2.05">: &gt;200 nmol/L</tspan></text>
<line x1="364.60" y1="592.40" x2="364.60" y2="667.00" stroke="#000" stroke-width="1.0"/>
<line x1="362.30" y1="666.50" x2="364.60" y2="666.50" stroke="#000" stroke-width="1.0"/>
<text x="360.50" y="668.23" font-size="4.8" text-anchor="end">0</text>
<line x1="362.30" y1="648.10" x2="364.60" y2="648.10" stroke="#000" stroke-width="1.0"/>
<text x="360.50" y="649.83" font-size="4.8" text-anchor="end">5,000</text>
<line x1="362.30" y1="629.70" x2="364.60" y2="629.70" stroke="#000" stroke-width="1.0"/>
<text x="360.50" y="631.43" font-size="4.8" text-anchor="end">10,000</text>
<line x1="362.30" y1="611.30" x2="364.60" y2="611.30" stroke="#000" stroke-width="1.0"/>
<text x="360.50" y="613.03" font-size="4.8" text-anchor="end">15,000</text>
<line x1="362.30" y1="592.90" x2="364.60" y2="592.90" stroke="#000" stroke-width="1.0"/>
<text x="360.50" y="594.63" font-size="4.8" text-anchor="end">20,000</text>
<line x1="364.60" y1="670.70" x2="442.40" y2="670.70" stroke="#000" stroke-width="1.0"/>
<line x1="372.40" y1="670.70" x2="372.40" y2="672.90" stroke="#000" stroke-width="1.0"/>
<line x1="376.61" y1="670.70" x2="376.61" y2="671.90" stroke="#000" stroke-width="0.6"/>
<line x1="379.08" y1="670.70" x2="379.08" y2="671.90" stroke="#000" stroke-width="0.6"/>
<line x1="380.83" y1="670.70" x2="380.83" y2="671.90" stroke="#000" stroke-width="0.6"/>
<line x1="382.19" y1="670.70" x2="382.19" y2="671.90" stroke="#000" stroke-width="0.6"/>
<line x1="383.29" y1="670.70" x2="383.29" y2="671.90" stroke="#000" stroke-width="0.6"/>
<line x1="384.23" y1="670.70" x2="384.23" y2="671.90" stroke="#000" stroke-width="0.6"/>
<line x1="385.04" y1="670.70" x2="385.04" y2="671.90" stroke="#000" stroke-width="0.6"/>
<line x1="385.76" y1="670.70" x2="385.76" y2="671.90" stroke="#000" stroke-width="0.6"/>
<line x1="386.40" y1="670.70" x2="386.40" y2="672.90" stroke="#000" stroke-width="1.0"/>
<line x1="390.61" y1="670.70" x2="390.61" y2="671.90" stroke="#000" stroke-width="0.6"/>
<line x1="393.08" y1="670.70" x2="393.08" y2="671.90" stroke="#000" stroke-width="0.6"/>
<line x1="394.83" y1="670.70" x2="394.83" y2="671.90" stroke="#000" stroke-width="0.6"/>
<line x1="396.19" y1="670.70" x2="396.19" y2="671.90" stroke="#000" stroke-width="0.6"/>
<line x1="397.29" y1="670.70" x2="397.29" y2="671.90" stroke="#000" stroke-width="0.6"/>
<line x1="398.23" y1="670.70" x2="398.23" y2="671.90" stroke="#000" stroke-width="0.6"/>
<line x1="399.04" y1="670.70" x2="399.04" y2="671.90" stroke="#000" stroke-width="0.6"/>
<line x1="399.76" y1="670.70" x2="399.76" y2="671.90" stroke="#000" stroke-width="0.6"/>
<line x1="400.40" y1="670.70" x2="400.40" y2="672.90" stroke="#000" stroke-width="1.0"/>
<line x1="404.61" y1="670.70" x2="404.61" y2="671.90" stroke="#000" stroke-width="0.6"/>
<line x1="407.08" y1="670.70" x2="407.08" y2="671.90" stroke="#000" stroke-width="0.6"/>
<line x1="408.83" y1="670.70" x2="408.83" y2="671.90" stroke="#000" stroke-width="0.6"/>
<line x1="410.19" y1="670.70" x2="410.19" y2="671.90" stroke="#000" stroke-width="0.6"/>
<line x1="411.29" y1="670.70" x2="411.29" y2="671.90" stroke="#000" stroke-width="0.6"/>
<line x1="412.23" y1="670.70" x2="412.23" y2="671.90" stroke="#000" stroke-width="0.6"/>
<line x1="413.04" y1="670.70" x2="413.04" y2="671.90" stroke="#000" stroke-width="0.6"/>
<line x1="413.76" y1="670.70" x2="413.76" y2="671.90" stroke="#000" stroke-width="0.6"/>
<line x1="414.40" y1="670.70" x2="414.40" y2="672.90" stroke="#000" stroke-width="1.0"/>
<line x1="418.61" y1="670.70" x2="418.61" y2="671.90" stroke="#000" stroke-width="0.6"/>
<line x1="421.08" y1="670.70" x2="421.08" y2="671.90" stroke="#000" stroke-width="0.6"/>
<line x1="422.83" y1="670.70" x2="422.83" y2="671.90" stroke="#000" stroke-width="0.6"/>
<line x1="424.19" y1="670.70" x2="424.19" y2="671.90" stroke="#000" stroke-width="0.6"/>
<line x1="425.29" y1="670.70" x2="425.29" y2="671.90" stroke="#000" stroke-width="0.6"/>
<line x1="426.23" y1="670.70" x2="426.23" y2="671.90" stroke="#000" stroke-width="0.6"/>
<line x1="427.04" y1="670.70" x2="427.04" y2="671.90" stroke="#000" stroke-width="0.6"/>
<line x1="427.76" y1="670.70" x2="427.76" y2="671.90" stroke="#000" stroke-width="0.6"/>
<line x1="428.40" y1="670.70" x2="428.40" y2="672.90" stroke="#000" stroke-width="1.0"/>
<line x1="432.61" y1="670.70" x2="432.61" y2="671.90" stroke="#000" stroke-width="0.6"/>
<line x1="435.08" y1="670.70" x2="435.08" y2="671.90" stroke="#000" stroke-width="0.6"/>
<line x1="436.83" y1="670.70" x2="436.83" y2="671.90" stroke="#000" stroke-width="0.6"/>
<line x1="438.19" y1="670.70" x2="438.19" y2="671.90" stroke="#000" stroke-width="0.6"/>
<line x1="439.29" y1="670.70" x2="439.29" y2="671.90" stroke="#000" stroke-width="0.6"/>
<line x1="440.23" y1="670.70" x2="440.23" y2="671.90" stroke="#000" stroke-width="0.6"/>
<line x1="441.04" y1="670.70" x2="441.04" y2="671.90" stroke="#000" stroke-width="0.6"/>
<line x1="441.76" y1="670.70" x2="441.76" y2="671.90" stroke="#000" stroke-width="0.6"/>
<line x1="442.40" y1="670.70" x2="442.40" y2="672.90" stroke="#000" stroke-width="1.0"/>
<text x="372.40" y="679.40" font-size="4.8" text-anchor="middle">0.01</text>
<text x="386.40" y="679.40" font-size="4.8" text-anchor="middle">0.1</text>
<text x="400.40" y="679.40" font-size="4.8" text-anchor="middle">1</text>
<text x="414.40" y="679.40" font-size="4.8" text-anchor="middle">10</text>
<text x="428.40" y="679.40" font-size="4.8" text-anchor="middle">100</text>
<text x="442.40" y="679.40" font-size="4.8" text-anchor="middle">1000</text>
<text x="403.30" y="591.70" font-size="8.4" text-anchor="middle">Rec. HER2 : THP1</text>
<text x="404.00" y="686.80" font-size="6.1" text-anchor="middle">Payload (nmol/L)</text>
<text x="343.80" y="630.10" font-size="6.45" font-weight="normal" text-anchor="middle" fill="#111" transform="rotate(-90 343.80 630.10)" stroke="#111" stroke-width="0.28">IRF3 reporter activity (RLU)</text>
<polyline points="373.38,666.21 374.38,666.21 375.37,666.21 376.37,666.21 377.37,666.21 378.36,666.21 379.36,666.21 380.35,666.21 381.35,666.21 382.35,666.21 383.34,666.21 384.34,666.21 385.34,666.21 386.33,666.21 387.33,666.21 388.32,666.21 389.32,666.21 390.32,666.21 391.31,666.21 392.31,666.21 393.31,666.21 394.30,666.21 395.30,666.21 396.30,666.21 397.29,666.21 398.29,666.21 399.28,666.21 400.28,666.21 401.28,666.21 402.27,666.21 403.27,666.21 404.27,666.21 405.26,666.21 406.26,666.21 407.26,666.21 408.25,666.21 409.25,666.21 410.24,666.21 411.24,666.21 412.24,666.21 413.23,666.21 414.23,666.21 415.23,666.21 416.22,666.21 417.22,666.21 418.21,666.21 419.21,666.21 420.21,666.21 421.20,666.21 422.20,666.21 423.20,666.21 424.19,666.21 425.19,666.21 426.19,666.21 427.18,666.21 428.18,666.21 429.17,666.21 430.17,666.21 431.17,666.21 432.16,666.21 433.16,666.21" stroke="#777777" stroke-width="0.7" fill="none" stroke-linejoin="round"/>
<polyline points="373.38,666.50 374.38,666.50 375.37,666.50 376.37,666.50 377.37,666.50 378.36,666.50 379.36,666.50 380.35,666.50 381.35,666.50 382.35,666.50 383.34,666.50 384.34,666.50 385.34,666.50 386.33,666.50 387.33,666.50 388.32,666.50 389.32,666.50 390.32,666.50 391.31,666.50 392.31,666.50 393.31,666.50 394.30,666.50 395.30,666.50 396.30,666.50 397.29,666.50 398.29,666.50 399.28,666.50 400.28,666.50 401.28,666.50 402.27,666.50 403.27,666.50 404.27,666.50 405.26,666.50 406.26,666.50 407.26,666.50 408.25,666.50 409.25,666.50 410.24,666.50 411.24,666.50 412.24,666.50 413.23,666.50 414.23,666.50 415.23,666.50 416.22,666.50 417.22,666.50 418.21,666.50 419.21,666.50 420.21,666.50 421.20,666.50 422.20,666.50 423.20,666.50 424.19,666.50 425.19,666.50 426.19,666.50 427.18,666.50 428.18,666.50 429.17,666.50 430.17,666.50 431.17,666.50 432.16,666.50 433.16,666.50" stroke="#1fbf1f" stroke-width="1.3" fill="none" stroke-linejoin="round"/>
<polyline points="373.38,666.50 373.88,666.50 374.38,666.50 374.87,666.50 375.37,666.50 375.87,666.50 376.37,666.50 376.87,666.50 377.37,666.50 377.86,666.50 378.36,666.50 378.86,666.50 379.36,666.50 379.86,666.50 380.35,666.50 380.85,666.50 381.35,666.50 381.85,666.50 382.35,666.50 382.85,666.50 383.34,666.50 383.84,666.50 384.34,666.50 384.84,666.50 385.34,666.50 385.83,666.50 386.33,666.50 386.83,666.50 387.33,666.50 387.83,666.50 388.32,666.50 388.82,666.50 389.32,666.50 389.82,666.50 390.32,666.50 390.82,666.50 391.31,666.50 391.81,666.50 392.31,666.50 392.81,666.50 393.31,666.50 393.80,666.50 394.30,666.50 394.80,666.50 395.30,666.50 395.80,666.50 396.30,666.50 396.79,666.50 397.29,666.50 397.79,666.50 398.29,666.50 398.79,666.50 399.28,666.50 399.78,666.50 400.28,666.50 400.78,666.50 401.28,666.50 401.78,666.50 402.27,666.50 402.77,666.50 403.27,666.50 403.77,666.50 404.27,666.50 404.76,666.50 405.26,666.50 405.76,666.50 406.26,666.50 406.76,666.50 407.26,666.50 407.75,666.50 408.25,666.50 408.75,666.50 409.25,666.50 409.75,666.50 410.24,666.50 410.74,666.50 411.24,666.50 411.74,666.50 412.24,666.50 412.74,666.50 413.23,666.50 413.73,666.50 414.23,666.50 414.73,666.50 415.23,666.49 415.72,666.49 416.22,666.49 416.72,666.48 417.22,666.47 417.72,666.46 418.21,666.44 418.71,666.40 419.21,666.35 419.71,666.28 420.21,666.17 420.71,666.01 421.20,665.76 421.70,665.39 422.20,664.85 422.70,664.06 423.20,662.91 423.69,661.28 424.19,659.04 424.69,656.05 425.19,652.28 425.69,647.79 426.19,642.83 426.68,637.77 427.18,633.03 427.68,628.90 428.18,625.56 428.68,622.98 429.17,621.09 429.67,619.74 430.17,618.80 430.67,618.15 431.17,617.71 431.67,617.42 432.16,617.22 432.66,617.08 433.16,617.00" stroke="#d21fd2" stroke-width="1.0" fill="none" stroke-linejoin="round"/>
<polyline points="373.38,666.37 374.38,666.34 375.37,666.32 376.37,666.28 377.37,666.24 378.36,666.19 379.36,666.14 380.35,666.07 381.35,665.99 382.35,665.90 383.34,665.79 384.34,665.67 385.34,665.52 386.33,665.34 387.33,665.13 388.32,664.89 389.32,664.61 390.32,664.28 391.31,663.89 392.31,663.44 393.31,662.92 394.30,662.32 395.30,661.63 396.30,660.84 397.29,659.94 398.29,658.93 399.28,657.79 400.28,656.53 401.28,655.13 402.27,653.61 403.27,651.97 404.27,650.21 405.26,648.36 406.26,646.44 407.26,644.46 408.25,642.46 409.25,640.46 410.24,638.50 411.24,636.59 412.24,634.77 413.23,633.05 414.23,631.44 415.23,629.96 416.22,628.60 417.22,627.38 418.21,626.28 419.21,625.30 420.21,624.44 421.20,623.68 422.20,623.02 423.20,622.44 424.19,621.94 425.19,621.52 426.19,621.15 427.18,620.83 428.18,620.56 429.17,620.33 430.17,620.13 431.17,619.96 432.16,619.82 433.16,619.70" stroke="#0a0af6" stroke-width="1.25" fill="none" stroke-linejoin="round"/>
<line x1="433.16" y1="614.60" x2="433.16" y2="620.00" stroke="#d21fd2" stroke-width="0.6"/>
<line x1="432.26" y1="614.60" x2="434.06" y2="614.60" stroke="#d21fd2" stroke-width="0.6"/>
<line x1="432.26" y1="620.00" x2="434.06" y2="620.00" stroke="#d21fd2" stroke-width="0.6"/>
<line x1="423.50" y1="619.50" x2="423.50" y2="623.00" stroke="#0a0af6" stroke-width="0.6"/>
<line x1="422.60" y1="619.50" x2="424.40" y2="619.50" stroke="#0a0af6" stroke-width="0.6"/>
<line x1="422.60" y1="623.00" x2="424.40" y2="623.00" stroke="#0a0af6" stroke-width="0.6"/>
<line x1="433.16" y1="617.00" x2="433.16" y2="623.00" stroke="#0a0af6" stroke-width="0.6"/>
<line x1="432.26" y1="617.00" x2="434.06" y2="617.00" stroke="#0a0af6" stroke-width="0.6"/>
<line x1="432.26" y1="623.00" x2="434.06" y2="623.00" stroke="#0a0af6" stroke-width="0.6"/>
<circle cx="373.38" cy="666.30" r="1.45" fill="#1fbf1f" stroke="#1fbf1f" stroke-width="0.3"/>
<circle cx="383.46" cy="666.30" r="1.45" fill="#1fbf1f" stroke="#1fbf1f" stroke-width="0.3"/>
<circle cx="392.84" cy="666.30" r="1.45" fill="#1fbf1f" stroke="#1fbf1f" stroke-width="0.3"/>
<circle cx="403.34" cy="666.30" r="1.45" fill="#1fbf1f" stroke="#1fbf1f" stroke-width="0.3"/>
<circle cx="413.14" cy="666.30" r="1.45" fill="#1fbf1f" stroke="#1fbf1f" stroke-width="0.3"/>
<circle cx="423.50" cy="666.30" r="1.45" fill="#1fbf1f" stroke="#1fbf1f" stroke-width="0.3"/>
<circle cx="433.16" cy="666.30" r="1.45" fill="#1fbf1f" stroke="#1fbf1f" stroke-width="0.3"/>
<circle cx="373.38" cy="666.50" r="1.45" fill="#0a0af6" stroke="#0a0af6" stroke-width="0.3"/>
<circle cx="383.46" cy="666.50" r="1.45" fill="#0a0af6" stroke="#0a0af6" stroke-width="0.3"/>
<circle cx="392.84" cy="666.10" r="1.45" fill="#0a0af6" stroke="#0a0af6" stroke-width="0.3"/>
<circle cx="403.34" cy="652.00" r="1.45" fill="#0a0af6" stroke="#0a0af6" stroke-width="0.3"/>
<circle cx="413.14" cy="633.50" r="1.45" fill="#0a0af6" stroke="#0a0af6" stroke-width="0.3"/>
<circle cx="423.50" cy="621.10" r="1.45" fill="#0a0af6" stroke="#0a0af6" stroke-width="0.3"/>
<circle cx="433.16" cy="619.70" r="1.45" fill="#0a0af6" stroke="#0a0af6" stroke-width="0.3"/>
<polygon points="423.50,660.47 424.93,662.94 422.07,662.94" fill="#d21fd2" stroke="#d21fd2" stroke-width="0.3"/>
<polygon points="433.16,665.03 433.98,663.60 432.33,663.60" fill="#777777" stroke="#777777" stroke-width="0.3"/>
<text x="362.50" y="699.70" font-size="8.55">XMT-2056 EC<tspan font-size="5.64" dy="2.05">50</tspan><tspan dy="-2.05">: 2.58 nmol/L</tspan></text>
<text x="362.50" y="708.60" font-size="8.55">Free payload EC<tspan font-size="5.64" dy="2.05">50</tspan><tspan dy="-2.05">: 61.2 nmol/L</tspan></text>
<text x="198.00" y="8.30" font-size="4.75">mAb = HT19</text>
<line x1="210.2" y1="18.3" x2="210.2" y2="39.2" stroke="#8d8d8d" stroke-width="1.9" stroke-linecap="round"/>
<line x1="214.4" y1="18.3" x2="214.4" y2="39.2" stroke="#8d8d8d" stroke-width="1.9" stroke-linecap="round"/>
<line x1="210.2" y1="18.6" x2="200.6" y2="11.3" stroke="#8d8d8d" stroke-width="1.9" stroke-linecap="round"/>
<line x1="214.4" y1="18.6" x2="223.8" y2="11.3" stroke="#8d8d8d" stroke-width="1.9" stroke-linecap="round"/>
<line x1="206.6" y1="20.6" x2="198.6" y2="14.4" stroke="#8d8d8d" stroke-width="1.9" stroke-linecap="round"/>
<line x1="218.0" y1="20.6" x2="226.0" y2="14.4" stroke="#8d8d8d" stroke-width="1.9" stroke-linecap="round"/>
<path d="M225.8,17.6 A57.3,57.3 0 0 0 225.8,74.5" fill="none" stroke="#777" stroke-width="0.5"/>
<path d="M476.8,18.3 A57,57 0 0 1 477.6,74.2" fill="none" stroke="#777" stroke-width="0.5"/>
<text x="478.80" y="77.20" font-size="4.6">8</text>
<line x1="215.60" y1="30.40" x2="221.60" y2="32.60" stroke="#1a1a1a" stroke-width="0.5"/>
<text x="223.30" y="35.26" font-size="4.6" text-anchor="middle" fill="#1a1a1a">S</text>
<line x1="224.90" y1="33.60" x2="229.60" y2="33.40" stroke="#1a1a1a" stroke-width="0.65"/>
<line x1="229.60" y1="33.40" x2="233.40" y2="28.40" stroke="#1a1a1a" stroke-width="0.65"/>
<line x1="233.40" y1="28.40" x2="237.78" y2="29.89" stroke="#1a1a1a" stroke-width="0.65"/>
<line x1="238.92" y1="31.96" x2="237.80" y2="36.60" stroke="#1a1a1a" stroke-width="0.65"/>
<line x1="237.80" y1="36.60" x2="233.00" y2="38.50" stroke="#1a1a1a" stroke-width="0.65"/>
<line x1="233.00" y1="38.50" x2="229.60" y2="33.40" stroke="#1a1a1a" stroke-width="0.65"/>
<line x1="233.40" y1="28.40" x2="232.52" y2="24.17" stroke="#1a1a1a" stroke-width="0.65"/>
<line x1="233.96" y1="27.67" x2="233.33" y2="24.61" stroke="#1a1a1a" stroke-width="0.65"/>
<text x="232.20" y="24.29" font-size="4.7" text-anchor="middle" fill="#1a1a1a">O</text>
<line x1="237.80" y1="36.60" x2="242.30" y2="40.54" stroke="#1a1a1a" stroke-width="0.65"/>
<line x1="237.79" y1="37.52" x2="241.38" y2="40.68" stroke="#1a1a1a" stroke-width="0.65"/>
<text x="243.50" y="43.29" font-size="4.7" text-anchor="middle" fill="#1a1a1a">O</text>
<text x="239.30" y="32.09" font-size="4.7" text-anchor="middle" fill="#1a1a1a">N</text>
<line x1="240.76" y1="29.76" x2="244.30" y2="28.20" stroke="#1a1a1a" stroke-width="0.65"/>
<line x1="244.30" y1="28.20" x2="250.20" y2="31.50" stroke="#1a1a1a" stroke-width="0.65"/>
<line x1="250.20" y1="31.50" x2="254.19" y2="29.36" stroke="#1a1a1a" stroke-width="0.65"/>
<line x1="257.08" y1="29.20" x2="261.50" y2="31.00" stroke="#1a1a1a" stroke-width="0.65"/>
<line x1="261.50" y1="31.00" x2="267.30" y2="27.00" stroke="#1a1a1a" stroke-width="0.65"/>
<line x1="267.30" y1="27.00" x2="271.63" y2="29.58" stroke="#1a1a1a" stroke-width="0.65"/>
<line x1="274.38" y1="29.59" x2="278.80" y2="27.00" stroke="#1a1a1a" stroke-width="0.65"/>
<line x1="278.80" y1="27.00" x2="284.60" y2="31.00" stroke="#1a1a1a" stroke-width="0.65"/>
<line x1="284.60" y1="31.00" x2="288.20" y2="28.98" stroke="#1a1a1a" stroke-width="0.65"/>
<line x1="291.03" y1="28.92" x2="295.20" y2="31.00" stroke="#1a1a1a" stroke-width="0.65"/>
<line x1="295.20" y1="31.00" x2="301.00" y2="27.00" stroke="#1a1a1a" stroke-width="0.65"/>
<line x1="301.00" y1="27.00" x2="304.95" y2="29.54" stroke="#1a1a1a" stroke-width="0.65"/>
<line x1="307.67" y1="29.58" x2="312.00" y2="27.00" stroke="#1a1a1a" stroke-width="0.65"/>
<line x1="312.00" y1="27.00" x2="317.40" y2="31.00" stroke="#1a1a1a" stroke-width="0.65"/>
<line x1="317.40" y1="31.00" x2="321.57" y2="28.92" stroke="#1a1a1a" stroke-width="0.65"/>
<line x1="324.44" y1="28.90" x2="328.80" y2="31.00" stroke="#1a1a1a" stroke-width="0.65"/>
<line x1="328.80" y1="31.00" x2="334.60" y2="27.00" stroke="#1a1a1a" stroke-width="0.65"/>
<line x1="334.60" y1="27.00" x2="338.28" y2="29.50" stroke="#1a1a1a" stroke-width="0.65"/>
<line x1="341.05" y1="29.72" x2="345.60" y2="27.60" stroke="#1a1a1a" stroke-width="0.65"/>
<line x1="345.60" y1="27.60" x2="350.80" y2="29.60" stroke="#1a1a1a" stroke-width="0.65"/>
<line x1="350.80" y1="29.60" x2="355.42" y2="28.78" stroke="#1a1a1a" stroke-width="0.65"/>
<text x="339.60" y="32.09" font-size="4.7" text-anchor="middle" fill="#1a1a1a">N</text>
<text x="339.60" y="37.49" font-size="4.7" text-anchor="middle" fill="#1a1a1a">H</text>
<text x="255.60" y="30.29" font-size="4.7" text-anchor="middle" fill="#1a1a1a">N</text>
<text x="255.60" y="25.09" font-size="4.7" text-anchor="middle" fill="#1a1a1a">H</text>
<text x="273.00" y="32.09" font-size="4.7" text-anchor="middle" fill="#1a1a1a">N</text>
<text x="273.00" y="37.49" font-size="4.7" text-anchor="middle" fill="#1a1a1a">H</text>
<text x="289.60" y="29.89" font-size="4.7" text-anchor="middle" fill="#1a1a1a">N</text>
<text x="289.60" y="24.69" font-size="4.7" text-anchor="middle" fill="#1a1a1a">H</text>
<text x="306.30" y="32.09" font-size="4.7" text-anchor="middle" fill="#1a1a1a">N</text>
<text x="306.30" y="37.49" font-size="4.7" text-anchor="middle" fill="#1a1a1a">H</text>
<text x="323.00" y="29.89" font-size="4.7" text-anchor="middle" fill="#1a1a1a">N</text>
<text x="323.00" y="24.69" font-size="4.7" text-anchor="middle" fill="#1a1a1a">H</text>
<line x1="250.20" y1="31.50" x2="250.20" y2="36.30" stroke="#1a1a1a" stroke-width="0.65"/>
<line x1="249.50" y1="32.10" x2="249.50" y2="35.70" stroke="#1a1a1a" stroke-width="0.65"/>
<text x="250.20" y="39.59" font-size="4.7" text-anchor="middle" fill="#1a1a1a">O</text>
<line x1="267.30" y1="27.00" x2="267.30" y2="22.40" stroke="#1a1a1a" stroke-width="0.65"/>
<line x1="268.00" y1="26.40" x2="268.00" y2="23.00" stroke="#1a1a1a" stroke-width="0.65"/>
<text x="267.30" y="22.49" font-size="4.7" text-anchor="middle" fill="#1a1a1a">O</text>
<line x1="284.60" y1="31.00" x2="284.60" y2="35.80" stroke="#1a1a1a" stroke-width="0.65"/>
<line x1="283.90" y1="31.60" x2="283.90" y2="35.20" stroke="#1a1a1a" stroke-width="0.65"/>
<text x="284.60" y="39.09" font-size="4.7" text-anchor="middle" fill="#1a1a1a">O</text>
<line x1="301.00" y1="27.00" x2="301.00" y2="22.40" stroke="#1a1a1a" stroke-width="0.65"/>
<line x1="301.70" y1="26.40" x2="301.70" y2="23.00" stroke="#1a1a1a" stroke-width="0.65"/>
<text x="301.00" y="22.49" font-size="4.7" text-anchor="middle" fill="#1a1a1a">O</text>
<line x1="317.40" y1="31.00" x2="317.40" y2="35.80" stroke="#1a1a1a" stroke-width="0.65"/>
<line x1="316.70" y1="31.60" x2="316.70" y2="35.20" stroke="#1a1a1a" stroke-width="0.65"/>
<text x="317.40" y="39.09" font-size="4.7" text-anchor="middle" fill="#1a1a1a">O</text>
<line x1="334.60" y1="27.00" x2="334.60" y2="22.40" stroke="#1a1a1a" stroke-width="0.65"/>
<line x1="335.30" y1="26.40" x2="335.30" y2="23.00" stroke="#1a1a1a" stroke-width="0.65"/>
<text x="334.60" y="22.49" font-size="4.7" text-anchor="middle" fill="#1a1a1a">O</text>
<text x="357.00" y="30.19" font-size="4.7" text-anchor="middle" fill="#1a1a1a">O</text>
<line x1="358.54" y1="28.06" x2="362.20" y2="27.00" stroke="#1a1a1a" stroke-width="0.65"/>
<line x1="362.20" y1="27.00" x2="368.00" y2="29.60" stroke="#1a1a1a" stroke-width="0.65"/>
<line x1="368.00" y1="29.60" x2="372.44" y2="30.64" stroke="#1a1a1a" stroke-width="0.65"/>
<line x1="375.45" y1="30.33" x2="379.40" y2="28.50" stroke="#1a1a1a" stroke-width="0.65"/>
<line x1="379.40" y1="28.50" x2="384.40" y2="31.50" stroke="#1a1a1a" stroke-width="0.65"/>
<line x1="384.40" y1="31.50" x2="384.55" y2="36.10" stroke="#1a1a1a" stroke-width="0.65"/>
<line x1="383.14" y1="38.35" x2="379.40" y2="40.00" stroke="#1a1a1a" stroke-width="0.65"/>
<line x1="379.40" y1="40.00" x2="374.00" y2="38.50" stroke="#1a1a1a" stroke-width="0.65"/>
<line x1="374.00" y1="38.50" x2="370.02" y2="39.80" stroke="#1a1a1a" stroke-width="0.65"/>
<line x1="366.98" y1="39.80" x2="363.00" y2="38.50" stroke="#1a1a1a" stroke-width="0.65"/>
<line x1="363.00" y1="38.50" x2="357.30" y2="40.60" stroke="#1a1a1a" stroke-width="0.65"/>
<line x1="357.30" y1="40.60" x2="352.93" y2="38.42" stroke="#1a1a1a" stroke-width="0.65"/>
<line x1="350.16" y1="38.57" x2="346.70" y2="40.80" stroke="#1a1a1a" stroke-width="0.65"/>
<line x1="346.70" y1="40.80" x2="346.00" y2="46.00" stroke="#1a1a1a" stroke-width="0.65"/>
<line x1="346.00" y1="46.00" x2="350.23" y2="49.23" stroke="#1a1a1a" stroke-width="0.65"/>
<line x1="353.02" y1="49.70" x2="357.30" y2="48.30" stroke="#1a1a1a" stroke-width="0.65"/>
<line x1="357.30" y1="48.30" x2="363.00" y2="50.20" stroke="#1a1a1a" stroke-width="0.65"/>
<line x1="363.00" y1="50.20" x2="367.10" y2="47.97" stroke="#1a1a1a" stroke-width="0.65"/>
<line x1="369.97" y1="47.82" x2="373.70" y2="49.40" stroke="#1a1a1a" stroke-width="0.65"/>
<line x1="373.70" y1="49.40" x2="379.40" y2="47.80" stroke="#1a1a1a" stroke-width="0.65"/>
<line x1="379.40" y1="47.80" x2="383.16" y2="49.61" stroke="#1a1a1a" stroke-width="0.65"/>
<line x1="386.10" y1="49.74" x2="390.00" y2="48.30" stroke="#1a1a1a" stroke-width="0.65"/>
<line x1="390.00" y1="48.30" x2="395.80" y2="50.20" stroke="#1a1a1a" stroke-width="0.65"/>
<line x1="395.80" y1="50.20" x2="401.50" y2="46.50" stroke="#1a1a1a" stroke-width="0.65"/>
<line x1="401.50" y1="46.50" x2="405.05" y2="49.31" stroke="#1a1a1a" stroke-width="0.65"/>
<text x="374.00" y="32.69" font-size="4.7" text-anchor="middle" fill="#1a1a1a">O</text>
<text x="384.60" y="39.39" font-size="4.7" text-anchor="middle" fill="#1a1a1a">O</text>
<text x="368.50" y="41.99" font-size="4.7" text-anchor="middle" fill="#1a1a1a">O</text>
<text x="351.50" y="39.39" font-size="4.7" text-anchor="middle" fill="#1a1a1a">O</text>
<text x="351.50" y="51.89" font-size="4.7" text-anchor="middle" fill="#1a1a1a">O</text>
<text x="368.50" y="48.89" font-size="4.7" text-anchor="middle" fill="#1a1a1a">O</text>
<text x="384.60" y="51.99" font-size="4.7" text-anchor="middle" fill="#1a1a1a">O</text>
<line x1="401.50" y1="46.50" x2="401.50" y2="42.20" stroke="#1a1a1a" stroke-width="0.65"/>
<line x1="402.20" y1="45.90" x2="402.20" y2="42.80" stroke="#1a1a1a" stroke-width="0.65"/>
<text x="401.50" y="42.29" font-size="4.7" text-anchor="middle" fill="#1a1a1a">O</text>
<text x="406.30" y="51.99" font-size="4.7" text-anchor="middle" fill="#1a1a1a">N</text>
<text x="406.30" y="57.19" font-size="4.7" text-anchor="middle" fill="#1a1a1a">H</text>
<line x1="407.63" y1="49.41" x2="412.00" y2="46.50" stroke="#1a1a1a" stroke-width="0.65"/>
<line x1="412.00" y1="46.50" x2="412.50" y2="40.80" stroke="#1a1a1a" stroke-width="0.65"/>
<line x1="412.50" y1="40.80" x2="408.58" y2="38.39" stroke="#1a1a1a" stroke-width="0.65"/>
<line x1="412.36" y1="39.89" x2="409.46" y2="38.10" stroke="#1a1a1a" stroke-width="0.65"/>
<text x="406.80" y="39.09" font-size="4.7" text-anchor="middle" fill="#1a1a1a">O</text>
<line x1="412.50" y1="40.80" x2="416.38" y2="38.43" stroke="#1a1a1a" stroke-width="0.65"/>
<text x="420.00" y="39.28" font-size="4.4" text-anchor="middle" fill="#1a1a1a">NH</text>
<polyline points="412.00,46.50 418.00,49.70 423.70,46.50 429.40,49.70" stroke="#1a1a1a" stroke-width="0.65" fill="none" stroke-linejoin="round"/>
<line x1="429.40" y1="49.70" x2="429.40" y2="55.00" stroke="#1a1a1a" stroke-width="0.65"/>
<line x1="430.10" y1="50.30" x2="430.10" y2="54.40" stroke="#1a1a1a" stroke-width="0.65"/>
<text x="429.40" y="58.29" font-size="4.7" text-anchor="middle" fill="#1a1a1a">O</text>
<line x1="429.40" y1="49.70" x2="432.96" y2="48.70" stroke="#1a1a1a" stroke-width="0.65"/>
<text x="434.40" y="49.99" font-size="4.7" text-anchor="middle" fill="#1a1a1a">N</text>
<text x="434.40" y="44.69" font-size="4.7" text-anchor="middle" fill="#1a1a1a">H</text>
<polyline points="419.50,35.60 420.50,30.00 425.00,27.00 430.50,30.00 436.00,27.00 441.50,30.00 447.00,27.00 450.30,30.00" stroke="#1a1a1a" stroke-width="0.65" fill="none" stroke-linejoin="round"/>
<line x1="425.00" y1="27.00" x2="425.00" y2="22.80" stroke="#1a1a1a" stroke-width="0.65"/>
<text x="426.30" y="23.06" font-size="4.6" text-anchor="middle" fill="#1a1a1a">OH</text>
<line x1="430.50" y1="30.00" x2="430.58" y2="34.80" stroke="#1a1a1a" stroke-width="0.65"/>
<text x="431.90" y="37.86" font-size="4.6" text-anchor="middle" fill="#1a1a1a">OH</text>
<line x1="436.00" y1="27.00" x2="436.00" y2="22.80" stroke="#1a1a1a" stroke-width="0.65"/>
<text x="437.30" y="23.06" font-size="4.6" text-anchor="middle" fill="#1a1a1a">OH</text>
<line x1="441.50" y1="30.00" x2="441.89" y2="34.80" stroke="#1a1a1a" stroke-width="0.65"/>
<text x="443.30" y="37.86" font-size="4.6" text-anchor="middle" fill="#1a1a1a">OH</text>
<text x="453.90" y="32.46" font-size="4.6" text-anchor="middle" fill="#1a1a1a">OH</text>
<text x="421.00" y="38.20" font-size="4.1" text-anchor="middle" fill="#1a1a1a">H</text>
<polyline points="436.00,48.40 439.50,45.60 444.50,48.50 449.50,45.60 454.50,48.50 459.50,45.60 464.50,48.50 470.00,45.60 473.20,49.00" stroke="#1a1a1a" stroke-width="0.65" fill="none" stroke-linejoin="round"/>
<line x1="449.50" y1="45.60" x2="448.93" y2="42.18" stroke="#1a1a1a" stroke-width="0.65"/>
<text x="449.80" y="42.46" font-size="4.6" text-anchor="middle" fill="#1a1a1a">OH</text>
<line x1="454.50" y1="48.50" x2="454.25" y2="55.10" stroke="#1a1a1a" stroke-width="0.65"/>
<text x="455.30" y="58.16" font-size="4.6" text-anchor="middle" fill="#1a1a1a">OH</text>
<line x1="459.50" y1="45.60" x2="459.29" y2="42.20" stroke="#1a1a1a" stroke-width="0.65"/>
<text x="460.30" y="42.46" font-size="4.6" text-anchor="middle" fill="#1a1a1a">OH</text>
<line x1="464.50" y1="48.50" x2="464.67" y2="55.10" stroke="#1a1a1a" stroke-width="0.65"/>
<text x="465.80" y="58.16" font-size="4.6" text-anchor="middle" fill="#1a1a1a">OH</text>
<text x="476.70" y="52.06" font-size="4.6" text-anchor="middle" fill="#1a1a1a">OH</text>
<text x="430.50" y="67.60" font-size="7.28" font-weight="normal" text-anchor="middle" fill="#1a1a1a">Hydrophilic scaffold</text>
<polyline points="261.50,31.00 263.50,37.70 267.00,44.50 266.50,46.90" stroke="#1a1a1a" stroke-width="0.65" fill="none" stroke-linejoin="round"/>
<line x1="266.50" y1="46.90" x2="263.57" y2="49.26" stroke="#1a1a1a" stroke-width="0.65"/>
<line x1="265.59" y1="46.73" x2="263.60" y2="48.34" stroke="#1a1a1a" stroke-width="0.65"/>
<text x="261.90" y="52.49" font-size="4.7" text-anchor="middle" fill="#1a1a1a">O</text>
<line x1="266.50" y1="46.90" x2="271.01" y2="49.54" stroke="#1a1a1a" stroke-width="0.65"/>
<text x="275.20" y="52.18" font-size="4.4" text-anchor="middle" fill="#1a1a1a">NH</text>
<polyline points="273.60,52.40 272.60,56.50 277.40,61.00 278.00,64.30" stroke="#1a1a1a" stroke-width="0.65" fill="none" stroke-linejoin="round"/>
<text x="278.00" y="67.89" font-size="4.7" text-anchor="middle" fill="#1a1a1a">O</text>
<polyline points="279.60,67.20 285.00,69.70 290.50,67.00 293.00,68.40" stroke="#1a1a1a" stroke-width="0.65" fill="none" stroke-linejoin="round"/>
<text x="294.70" y="70.89" font-size="4.7" text-anchor="middle" fill="#1a1a1a">O</text>
<polyline points="296.40,68.40 300.40,66.30 306.00,68.70 311.00,66.00" stroke="#1a1a1a" stroke-width="0.65" fill="none" stroke-linejoin="round"/>
<line x1="311.00" y1="66.00" x2="311.88" y2="61.60" stroke="#1a1a1a" stroke-width="0.65"/>
<line x1="311.80" y1="65.55" x2="312.45" y2="62.32" stroke="#1a1a1a" stroke-width="0.65"/>
<text x="311.90" y="61.49" font-size="4.7" text-anchor="middle" fill="#1a1a1a">O</text>
<line x1="311.00" y1="66.00" x2="315.62" y2="68.52" stroke="#1a1a1a" stroke-width="0.65"/>
<text x="319.50" y="71.28" font-size="4.4" text-anchor="middle" fill="#1a1a1a">NH</text>
<polyline points="318.50,71.50 317.30,76.20 322.70,79.20" stroke="#1a1a1a" stroke-width="0.65" fill="none" stroke-linejoin="round"/>
<line x1="317.30" y1="76.20" x2="312.00" y2="79.20" stroke="#1a1a1a" stroke-width="0.65"/>
<line x1="322.70" y1="79.20" x2="326.91" y2="76.95" stroke="#1a1a1a" stroke-width="0.65"/>
<line x1="323.56" y1="79.53" x2="326.71" y2="77.85" stroke="#1a1a1a" stroke-width="0.65"/>
<text x="328.70" y="77.89" font-size="4.7" text-anchor="middle" fill="#1a1a1a">O</text>
<line x1="322.70" y1="79.20" x2="322.70" y2="84.40" stroke="#2a88cf" stroke-width="0.65"/>
<text x="322.80" y="88.09" font-size="4.7" text-anchor="middle" fill="#2a88cf">O</text>
<rect x="308.2" y="67.7" width="25.3" height="16.1" rx="3.5" fill="none" stroke="#2fae4e" stroke-width="1.1" stroke-dasharray="2.4,1.6"/>
<text x="277.80" y="79.60" font-size="7.2" font-weight="normal" text-anchor="middle" fill="#2fae4e">Cleavable linker</text>
<polyline points="323.60,88.20 328.30,92.00 330.60,96.60 333.20,100.40 333.80,103.20" stroke="#2a88cf" stroke-width="0.65" fill="none" stroke-linejoin="round"/>
<text x="334.40" y="106.59" font-size="4.7" text-anchor="middle" fill="#2a88cf">O</text>
<line x1="323.10" y1="105.50" x2="329.08" y2="108.95" stroke="#2a88cf" stroke-width="0.65"/>
<line x1="329.08" y1="108.95" x2="329.08" y2="115.85" stroke="#2a88cf" stroke-width="0.65"/>
<line x1="329.98" y1="109.55" x2="329.98" y2="115.25" stroke="#2a88cf" stroke-width="0.65"/>
<line x1="329.08" y1="115.85" x2="323.10" y2="119.30" stroke="#2a88cf" stroke-width="0.65"/>
<line x1="323.10" y1="119.30" x2="317.12" y2="115.85" stroke="#2a88cf" stroke-width="0.65"/>
<line x1="322.13" y1="119.78" x2="317.19" y2="116.93" stroke="#2a88cf" stroke-width="0.65"/>
<line x1="317.12" y1="115.85" x2="317.12" y2="108.95" stroke="#2a88cf" stroke-width="0.65"/>
<line x1="317.12" y1="108.95" x2="323.10" y2="105.50" stroke="#2a88cf" stroke-width="0.65"/>
<line x1="317.19" y1="107.87" x2="322.13" y2="105.02" stroke="#2a88cf" stroke-width="0.65"/>
<line x1="329.08" y1="108.95" x2="332.96" y2="106.17" stroke="#2a88cf" stroke-width="0.65"/>
<line x1="317.12" y1="108.95" x2="312.70" y2="105.80" stroke="#2a88cf" stroke-width="0.65"/>
<line x1="312.70" y1="105.80" x2="308.07" y2="107.62" stroke="#2a88cf" stroke-width="0.65"/>
<line x1="311.89" y1="105.37" x2="308.37" y2="106.75" stroke="#2a88cf" stroke-width="0.65"/>
<text x="306.30" y="109.89" font-size="4.7" text-anchor="middle" fill="#2a88cf">O</text>
<line x1="312.70" y1="105.80" x2="313.60" y2="100.70" stroke="#2a88cf" stroke-width="0.65"/>
<text x="313.80" y="100.48" font-size="4.4" text-anchor="middle" fill="#2a88cf">NH<tspan font-size="3" dy="1">2</tspan></text>
<line x1="329.08" y1="115.85" x2="332.29" y2="118.65" stroke="#2a88cf" stroke-width="0.65"/>
<line x1="332.56" y1="121.00" x2="330.60" y2="123.70" stroke="#2a88cf" stroke-width="0.65"/>
<line x1="330.60" y1="123.70" x2="326.09" y2="124.29" stroke="#2a88cf" stroke-width="0.65"/>
<line x1="329.90" y1="122.98" x2="326.58" y2="123.42" stroke="#2a88cf" stroke-width="0.65"/>
<line x1="324.08" y1="122.96" x2="323.10" y2="119.30" stroke="#2a88cf" stroke-width="0.65"/>
<text x="333.50" y="121.39" font-size="4.7" text-anchor="middle" fill="#2a88cf">N</text>
<text x="324.50" y="126.19" font-size="4.7" text-anchor="middle" fill="#2a88cf">N</text>
<line x1="330.60" y1="123.70" x2="333.73" y2="128.58" stroke="#2a88cf" stroke-width="0.65"/>
<text x="336.60" y="132.28" font-size="4.4" text-anchor="middle" fill="#2a88cf">NH</text>
<line x1="334.67" y1="132.55" x2="331.70" y2="135.80" stroke="#2a88cf" stroke-width="0.65"/>
<line x1="331.70" y1="135.80" x2="326.10" y2="135.80" stroke="#2a88cf" stroke-width="0.65"/>
<line x1="331.10" y1="135.10" x2="326.70" y2="135.10" stroke="#2a88cf" stroke-width="0.65"/>
<text x="324.20" y="137.49" font-size="4.7" text-anchor="middle" fill="#2a88cf">O</text>
<line x1="331.70" y1="135.80" x2="334.60" y2="141.00" stroke="#2a88cf" stroke-width="0.65"/>
<line x1="334.60" y1="141.00" x2="338.93" y2="141.90" stroke="#2a88cf" stroke-width="0.65"/>
<line x1="340.79" y1="143.65" x2="342.10" y2="148.50" stroke="#2a88cf" stroke-width="0.65"/>
<line x1="342.10" y1="148.50" x2="337.58" y2="151.23" stroke="#2a88cf" stroke-width="0.65"/>
<line x1="341.17" y1="148.13" x2="337.68" y2="150.23" stroke="#2a88cf" stroke-width="0.65"/>
<line x1="335.19" y1="151.00" x2="331.20" y2="147.40" stroke="#2a88cf" stroke-width="0.65"/>
<line x1="331.20" y1="147.40" x2="334.60" y2="141.00" stroke="#2a88cf" stroke-width="0.65"/>
<line x1="330.78" y1="146.49" x2="333.61" y2="141.15" stroke="#2a88cf" stroke-width="0.65"/>
<text x="340.40" y="143.89" font-size="4.7" text-anchor="middle" fill="#2a88cf">O</text>
<text x="336.30" y="153.69" font-size="4.7" text-anchor="middle" fill="#2a88cf">N</text>
<line x1="342.10" y1="148.50" x2="347.30" y2="151.40" stroke="#2a88cf" stroke-width="0.65"/>
<polyline points="331.20,147.40 326.00,148.50 321.30,144.50" stroke="#2a88cf" stroke-width="0.65" fill="none" stroke-linejoin="round"/>
<polyline points="335.30,119.40 340.40,118.50 341.50,112.80 346.20,111.00 350.20,104.70 354.40,103.10" stroke="#2a88cf" stroke-width="0.65" fill="none" stroke-linejoin="round"/>
<line x1="341.90" y1="113.90" x2="346.20" y2="112.30" stroke="#2a88cf" stroke-width="0.65"/>
<text x="356.20" y="104.29" font-size="4.7" text-anchor="middle" fill="#2a88cf">N</text>
<line x1="356.72" y1="101.19" x2="358.90" y2="95.30" stroke="#2a88cf" stroke-width="0.65"/>
<line x1="358.90" y1="95.30" x2="363.90" y2="97.17" stroke="#2a88cf" stroke-width="0.65"/>
<line x1="359.74" y1="94.76" x2="363.61" y2="96.21" stroke="#2a88cf" stroke-width="0.65"/>
<line x1="366.00" y1="99.03" x2="368.40" y2="103.60" stroke="#2a88cf" stroke-width="0.65"/>
<line x1="368.40" y1="103.60" x2="362.80" y2="106.50" stroke="#2a88cf" stroke-width="0.65"/>
<line x1="362.80" y1="106.50" x2="357.49" y2="103.36" stroke="#2a88cf" stroke-width="0.65"/>
<text x="365.30" y="99.39" font-size="4.7" text-anchor="middle" fill="#2a88cf">N</text>
<line x1="362.80" y1="106.50" x2="361.39" y2="111.75" stroke="#2a88cf" stroke-width="0.65"/>
<line x1="361.87" y1="106.87" x2="360.77" y2="110.96" stroke="#2a88cf" stroke-width="0.65"/>
<line x1="362.23" y1="114.06" x2="365.70" y2="116.50" stroke="#2a88cf" stroke-width="0.65"/>
<line x1="365.70" y1="116.50" x2="373.00" y2="112.90" stroke="#2a88cf" stroke-width="0.65"/>
<line x1="365.88" y1="115.52" x2="372.11" y2="112.45" stroke="#2a88cf" stroke-width="0.65"/>
<line x1="373.00" y1="112.90" x2="372.80" y2="107.60" stroke="#2a88cf" stroke-width="0.65"/>
<line x1="372.80" y1="107.60" x2="368.40" y2="103.60" stroke="#2a88cf" stroke-width="0.65"/>
<line x1="372.89" y1="106.60" x2="369.38" y2="103.41" stroke="#2a88cf" stroke-width="0.65"/>
<text x="361.00" y="114.89" font-size="4.7" text-anchor="middle" fill="#2a88cf">N</text>
<line x1="373.00" y1="112.90" x2="377.80" y2="115.60" stroke="#2a88cf" stroke-width="0.65"/>
<line x1="377.80" y1="115.60" x2="381.92" y2="113.91" stroke="#2a88cf" stroke-width="0.65"/>
<line x1="378.62" y1="116.02" x2="381.63" y2="114.79" stroke="#2a88cf" stroke-width="0.65"/>
<text x="383.80" y="115.19" font-size="4.7" text-anchor="middle" fill="#2a88cf">O</text>
<line x1="377.80" y1="115.60" x2="379.60" y2="121.20" stroke="#2a88cf" stroke-width="0.65"/>
<text x="381.30" y="124.88" font-size="4.4" text-anchor="middle" fill="#2a88cf">NH<tspan font-size="3" dy="1">2</tspan></text>
<line x1="358.90" y1="95.30" x2="356.30" y2="92.50" stroke="#2a88cf" stroke-width="0.65"/>
<text x="354.20" y="92.58" font-size="4.4" text-anchor="middle" fill="#2a88cf">HN</text>
<line x1="356.73" y1="89.14" x2="359.60" y2="85.60" stroke="#2a88cf" stroke-width="0.65"/>
<line x1="359.60" y1="85.60" x2="363.70" y2="85.97" stroke="#2a88cf" stroke-width="0.65"/>
<line x1="360.13" y1="86.35" x2="363.04" y2="86.62" stroke="#2a88cf" stroke-width="0.65"/>
<text x="365.70" y="87.69" font-size="4.7" text-anchor="middle" fill="#2a88cf">O</text>
<line x1="359.60" y1="85.60" x2="356.20" y2="80.20" stroke="#2a88cf" stroke-width="0.65"/>
<line x1="356.20" y1="80.20" x2="357.95" y2="75.79" stroke="#2a88cf" stroke-width="0.65"/>
<line x1="357.64" y1="73.17" x2="354.60" y2="68.80" stroke="#2a88cf" stroke-width="0.65"/>
<line x1="354.60" y1="68.80" x2="349.16" y2="72.29" stroke="#2a88cf" stroke-width="0.65"/>
<line x1="353.66" y1="68.45" x2="349.24" y2="71.29" stroke="#2a88cf" stroke-width="0.65"/>
<line x1="348.13" y1="74.58" x2="348.80" y2="78.90" stroke="#2a88cf" stroke-width="0.65"/>
<line x1="348.80" y1="78.90" x2="356.20" y2="80.20" stroke="#2a88cf" stroke-width="0.65"/>
<line x1="349.25" y1="79.79" x2="355.47" y2="80.88" stroke="#2a88cf" stroke-width="0.65"/>
<text x="358.50" y="76.09" font-size="4.7" text-anchor="middle" fill="#2a88cf">O</text>
<text x="347.90" y="74.79" font-size="4.7" text-anchor="middle" fill="#2a88cf">N</text>
<line x1="354.60" y1="68.80" x2="354.60" y2="63.70" stroke="#2a88cf" stroke-width="0.65"/>
<polyline points="348.80,78.90 344.10,82.20 339.20,82.90" stroke="#2a88cf" stroke-width="0.65" fill="none" stroke-linejoin="round"/>
<text x="351.50" y="132.70" font-size="7.27" font-weight="normal" fill="#2a88cf">STING agonist</text>
<path d="M445.91,457.70 L446.03,458.52 L445.83,459.32 L445.44,460.08 L445.00,460.80 L444.63,461.51 L444.38,462.24 L444.23,463.01 L444.10,463.80 L443.93,464.59 L443.69,465.37 L443.36,466.12 L442.95,466.82 L442.42,467.44 L441.79,467.96 L441.07,468.37 L440.31,468.70 L439.58,469.03 L438.94,469.45 L438.40,470.02 L437.92,470.72 L437.39,471.43 L436.76,471.97 L435.97,472.22 L435.09,472.13 L434.18,471.82 L433.33,471.51 L432.57,471.42 L431.87,471.66 L431.16,472.17 L430.40,472.72 L429.59,473.06 L428.79,473.01 L428.05,472.55 L427.39,471.85 L426.79,471.17 L426.17,470.71 L425.47,470.55 L424.65,470.62 L423.77,470.72 L422.92,470.66 L422.19,470.34 L421.63,469.77 L421.21,469.05 L420.84,468.32 L420.43,467.67 L419.95,467.11 L419.38,466.63 L418.77,466.15 L418.16,465.65 L417.60,465.09 L417.10,464.48 L416.68,463.81 L416.37,463.09 L416.19,462.32 L416.15,461.52 L416.18,460.72 L416.20,459.95 L416.10,459.20 L415.81,458.46 L415.38,457.70 L414.96,456.89 L414.74,456.05 L414.86,455.24 L415.32,454.49 L415.99,453.84 L416.63,453.23 L417.04,452.57 L417.15,451.80 L417.04,450.89 L416.92,449.92 L417.01,449.01 L417.46,448.30 L418.23,447.84 L419.17,447.59 L420.09,447.39 L420.82,447.06 L421.34,446.51 L421.73,445.76 L422.12,444.95 L422.64,444.25 L423.32,443.80 L424.14,443.63 L425.01,443.65 L425.86,443.74 L426.67,443.76 L427.42,443.67 L428.15,443.48 L428.88,443.25 L429.63,443.05 L430.40,442.90 L431.18,442.84 L431.96,442.88 L432.72,443.03 L433.46,443.33 L434.14,443.74 L434.78,444.22 L435.40,444.67 L436.06,444.99 L436.80,445.13 L437.64,445.17 L438.50,445.22 L439.30,445.45 L439.91,445.96 L440.29,446.72 L440.50,447.60 L440.69,448.44 L441.03,449.09 L441.64,449.54 L442.48,449.85 L443.40,450.20 L444.15,450.69 L444.57,451.39 L444.61,452.25 L444.40,453.15 L444.16,454.01 L444.14,454.78 L444.41,455.48 L444.93,456.17 L445.50,456.91Z" fill="#e3a99d"/>
<circle cx="428.23" cy="462.04" r="0.35" fill="#c47d6e"/>
<circle cx="428.44" cy="454.97" r="0.35" fill="#c47d6e"/>
<circle cx="423.03" cy="456.01" r="0.35" fill="#c47d6e"/>
<circle cx="438.72" cy="460.87" r="0.35" fill="#c47d6e"/>
<circle cx="438.40" cy="459.62" r="0.35" fill="#c47d6e"/>
<circle cx="433.81" cy="459.30" r="0.35" fill="#c47d6e"/>
<circle cx="420.29" cy="462.89" r="0.35" fill="#c47d6e"/>
<circle cx="434.61" cy="461.84" r="0.35" fill="#c47d6e"/>
<circle cx="421.93" cy="448.96" r="0.35" fill="#c47d6e"/>
<circle cx="423.43" cy="454.03" r="0.35" fill="#c47d6e"/>
<circle cx="433.07" cy="457.30" r="0.35" fill="#c47d6e"/>
<circle cx="434.64" cy="452.48" r="0.35" fill="#c47d6e"/>
<circle cx="433.05" cy="461.08" r="0.35" fill="#c47d6e"/>
<circle cx="426.34" cy="468.24" r="0.35" fill="#c47d6e"/>
<circle cx="434.42" cy="466.34" r="0.35" fill="#c47d6e"/>
<circle cx="425.50" cy="451.86" r="0.35" fill="#c47d6e"/>
<circle cx="427.41" cy="456.77" r="0.35" fill="#c47d6e"/>
<circle cx="435.68" cy="459.78" r="0.35" fill="#c47d6e"/>
<circle cx="426.94" cy="450.30" r="0.35" fill="#c47d6e"/>
<circle cx="426.65" cy="466.50" r="0.35" fill="#c47d6e"/>
<circle cx="423.85" cy="459.68" r="0.35" fill="#c47d6e"/>
<circle cx="433.28" cy="447.65" r="0.35" fill="#c47d6e"/>
<circle cx="430.75" cy="467.17" r="0.35" fill="#c47d6e"/>
<circle cx="418.85" cy="455.86" r="0.35" fill="#c47d6e"/>
<circle cx="429.54" cy="451.05" r="0.35" fill="#c47d6e"/>
<circle cx="434.66" cy="457.17" r="0.35" fill="#c47d6e"/>
<circle cx="431.2" cy="458.8" r="6.2" fill="#c47f6f"/>
<line x1="430.30" y1="440.60" x2="430.30" y2="444.50" stroke="#e8a39a" stroke-width="1.3"/>
<path d="M429.10,437.60 Q428.40,440.60 430.30,441.00 Q432.20,440.60 431.50,437.60" fill="none" stroke="#d9786a" stroke-width="0.9"/>
<line x1="431.20" y1="427.40" x2="431.20" y2="432.90" stroke="#8a7ad0" stroke-width="1.4"/>
<line x1="431.20" y1="432.70" x2="427.40" y2="436.90" stroke="#8474cc" stroke-width="2.6"/>
<line x1="431.20" y1="432.70" x2="434.80" y2="436.60" stroke="#8474cc" stroke-width="2.6"/>
<circle cx="428.80" cy="430.00" r="2.0" fill="#b0279e"/>
<text x="408.80" y="441.50" font-size="6.2" font-weight="normal" fill="#e08d80">HER2</text>
<path d="M437.20,438.20 C445.00,439.00 449.00,443.50 440.65,448.56" fill="none" stroke="#222" stroke-width="0.9"/>
<polygon points="438.60,449.80 440.31,446.83 442.02,449.66" fill="#222"/>
<path d="M434.6,467.5 L434.6,474.2 L444.0,474.2" fill="none" stroke="#b86a55" stroke-width="2.1"/>
<polygon points="443.3,470.6 448.6,474.2 443.3,477.8" fill="#b86a55"/>
<text x="450.50" y="476.80" font-size="5.95" font-weight="normal" fill="#111">CXCL10</text>
<text x="418.00" y="484.40" font-size="5.9" font-weight="normal" fill="#111">Tumor cell</text>
<path d="M299.03,612.20 L299.24,613.08 L299.28,613.97 L299.14,614.85 L298.86,615.70 L298.49,616.51 L298.08,617.29 L297.66,618.06 L297.26,618.81 L296.87,619.57 L296.48,620.33 L296.06,621.07 L295.62,621.81 L295.15,622.52 L294.64,623.22 L294.11,623.91 L293.56,624.59 L292.97,625.26 L292.35,625.89 L291.66,626.46 L290.90,626.92 L290.07,627.26 L289.19,627.45 L288.28,627.51 L287.37,627.49 L286.49,627.45 L285.64,627.45 L284.83,627.54 L284.03,627.75 L283.23,628.05 L282.40,628.39 L281.54,628.67 L280.65,628.83 L279.77,628.79 L278.93,628.53 L278.14,628.09 L277.43,627.51 L276.77,626.87 L276.14,626.26 L275.50,625.73 L274.83,625.31 L274.11,624.97 L273.33,624.68 L272.53,624.39 L271.74,624.03 L271.01,623.59 L270.34,623.06 L269.77,622.43 L269.28,621.73 L268.85,621.00 L268.48,620.24 L268.14,619.47 L267.83,618.69 L267.56,617.90 L267.33,617.10 L267.14,616.29 L266.99,615.48 L266.84,614.66 L266.68,613.85 L266.48,613.03 L266.25,612.20 L266.01,611.34 L265.79,610.45 L265.67,609.55 L265.68,608.65 L265.88,607.77 L266.26,606.96 L266.79,606.21 L267.42,605.53 L268.06,604.90 L268.65,604.26 L269.15,603.59 L269.54,602.85 L269.85,602.04 L270.14,601.16 L270.49,600.29 L270.93,599.47 L271.52,598.76 L272.25,598.22 L273.08,597.85 L273.98,597.62 L274.91,597.49 L275.81,597.40 L276.68,597.29 L277.50,597.13 L278.30,596.91 L279.10,596.65 L279.90,596.40 L280.72,596.17 L281.55,596.01 L282.40,595.93 L283.25,595.92 L284.10,595.98 L284.95,596.10 L285.78,596.28 L286.60,596.51 L287.40,596.83 L288.15,597.22 L288.86,597.70 L289.51,598.24 L290.13,598.82 L290.73,599.38 L291.34,599.90 L292.00,600.34 L292.72,600.73 L293.51,601.09 L294.32,601.47 L295.11,601.91 L295.80,602.46 L296.35,603.14 L296.72,603.93 L296.93,604.80 L297.00,605.70 L297.01,606.59 L297.05,607.44 L297.18,608.24 L297.43,609.00 L297.80,609.76 L298.24,610.53 L298.68,611.35Z" fill="#a397dc"/>
<circle cx="272.39" cy="615.29" r="0.35" fill="#7d6fc0"/>
<circle cx="290.89" cy="607.82" r="0.35" fill="#7d6fc0"/>
<circle cx="271.68" cy="611.67" r="0.35" fill="#7d6fc0"/>
<circle cx="286.40" cy="621.38" r="0.35" fill="#7d6fc0"/>
<circle cx="273.86" cy="603.12" r="0.35" fill="#7d6fc0"/>
<circle cx="288.80" cy="616.50" r="0.35" fill="#7d6fc0"/>
<circle cx="293.01" cy="618.99" r="0.35" fill="#7d6fc0"/>
<circle cx="281.40" cy="609.51" r="0.35" fill="#7d6fc0"/>
<circle cx="296.07" cy="610.66" r="0.35" fill="#7d6fc0"/>
<circle cx="276.16" cy="603.16" r="0.35" fill="#7d6fc0"/>
<circle cx="283.34" cy="613.63" r="0.35" fill="#7d6fc0"/>
<circle cx="279.04" cy="611.59" r="0.35" fill="#7d6fc0"/>
<circle cx="284.93" cy="618.61" r="0.35" fill="#7d6fc0"/>
<circle cx="291.77" cy="613.99" r="0.35" fill="#7d6fc0"/>
<circle cx="270.44" cy="616.89" r="0.35" fill="#7d6fc0"/>
<circle cx="271.28" cy="610.86" r="0.35" fill="#7d6fc0"/>
<circle cx="271.01" cy="612.22" r="0.35" fill="#7d6fc0"/>
<circle cx="275.28" cy="614.16" r="0.35" fill="#7d6fc0"/>
<circle cx="296.37" cy="611.99" r="0.35" fill="#7d6fc0"/>
<circle cx="288.72" cy="602.26" r="0.35" fill="#7d6fc0"/>
<circle cx="279.72" cy="618.35" r="0.35" fill="#7d6fc0"/>
<circle cx="281.50" cy="615.80" r="0.35" fill="#7d6fc0"/>
<circle cx="283.31" cy="603.39" r="0.35" fill="#7d6fc0"/>
<circle cx="287.36" cy="605.05" r="0.35" fill="#7d6fc0"/>
<circle cx="294.84" cy="608.84" r="0.35" fill="#7d6fc0"/>
<circle cx="288.81" cy="612.22" r="0.35" fill="#7d6fc0"/>
<circle cx="290.51" cy="607.07" r="0.35" fill="#7d6fc0"/>
<circle cx="291.16" cy="611.11" r="0.35" fill="#7d6fc0"/>
<circle cx="292.36" cy="617.12" r="0.35" fill="#7d6fc0"/>
<circle cx="283.70" cy="605.04" r="0.35" fill="#7d6fc0"/>
<circle cx="278.9" cy="612.7" r="6.6" fill="#7d68b8"/>
<text x="274.00" y="590.60" font-size="4.8" font-weight="normal" fill="#111">Myeloid cell</text>
<path d="M286.2,602.5 L286.2,595.4 L296.5,595.4" fill="none" stroke="#6a46ad" stroke-width="1.6"/>
<polygon points="295.8,592.6 300.4,595.4 295.8,598.2" fill="#6a46ad"/>
<text x="303.80" y="594.90" font-size="4.83" font-weight="normal" fill="#8a70c8">IRF3 reporter</text>
<text x="303.80" y="600.90" font-size="4.83" font-weight="normal" fill="#8a70c8">activity</text>
<line x1="281.10" y1="625.10" x2="281.10" y2="631.30" stroke="#5e2d91" stroke-width="1.3"/>
<rect x="278.40" y="631.10" width="5.4" height="2.1" rx="0.5" fill="#5e2d91"/>
<circle cx="279.40" cy="636.40" r="2.0" fill="#b0279e"/>
<line x1="281.80" y1="633.50" x2="281.80" y2="638.70" stroke="#8f80d6" stroke-width="1.4"/>
<line x1="281.80" y1="638.40" x2="278.00" y2="642.40" stroke="#8474cc" stroke-width="2.5"/>
<line x1="281.80" y1="638.40" x2="285.20" y2="642.40" stroke="#8474cc" stroke-width="2.5"/>
<path d="M280.10,643.50 Q279.70,646.10 281.40,646.70 Q283.10,646.10 282.70,643.50" fill="none" stroke="#d9786a" stroke-width="0.9"/>
<line x1="281.40" y1="646.70" x2="281.40" y2="654.50" stroke="#e8a39a" stroke-width="1.2"/>
<text x="263.70" y="647.90" font-size="4.6" font-weight="normal" fill="#e08d80">HER2</text>
<path d="M286.50,632.60 C295.00,630.50 299.50,625.50 289.88,621.65" fill="none" stroke="#222" stroke-width="0.9"/>
<polygon points="287.50,620.70 291.12,620.25 289.82,623.52" fill="#222"/>
<path d="M287.80,644.30 C296.00,645.50 301.00,650.00 291.47,655.01" fill="none" stroke="#222" stroke-width="0.9"/>
<polygon points="289.20,656.20 291.21,653.15 292.85,656.27" fill="#222"/>
<path d="M296.85,666.30 L296.78,667.13 L296.50,667.93 L296.13,668.70 L295.78,669.44 L295.51,670.19 L295.29,670.94 L295.11,671.72 L294.93,672.50 L294.73,673.29 L294.48,674.08 L294.16,674.84 L293.72,675.54 L293.13,676.13 L292.41,676.58 L291.61,676.91 L290.83,677.22 L290.16,677.61 L289.62,678.17 L289.18,678.89 L288.72,679.67 L288.14,680.32 L287.40,680.67 L286.52,680.67 L285.58,680.40 L284.69,680.09 L283.91,679.97 L283.20,680.18 L282.51,680.68 L281.79,681.29 L281.00,681.73 L280.19,681.81 L279.41,681.47 L278.69,680.86 L278.04,680.21 L277.40,679.74 L276.69,679.55 L275.90,679.60 L275.03,679.71 L274.17,679.70 L273.39,679.47 L272.75,679.01 L272.22,678.38 L271.76,677.71 L271.31,677.07 L270.81,676.49 L270.26,675.97 L269.67,675.47 L269.07,674.97 L268.46,674.44 L267.87,673.88 L267.33,673.26 L266.90,672.58 L266.63,671.81 L266.55,671.00 L266.60,670.16 L266.66,669.35 L266.59,668.58 L266.31,667.84 L265.84,667.09 L265.33,666.30 L264.99,665.46 L265.00,664.62 L265.39,663.83 L266.04,663.12 L266.72,662.47 L267.19,661.81 L267.34,661.06 L267.23,660.17 L267.07,659.20 L267.08,658.26 L267.43,657.49 L268.13,656.95 L269.05,656.62 L269.97,656.37 L270.73,656.03 L271.29,655.52 L271.70,654.81 L272.08,654.02 L272.56,653.30 L273.19,652.78 L273.96,652.49 L274.81,652.39 L275.66,652.39 L276.47,652.37 L277.25,652.29 L277.99,652.14 L278.73,651.94 L279.47,651.74 L280.23,651.54 L281.00,651.38 L281.79,651.28 L282.58,651.31 L283.34,651.51 L284.06,651.89 L284.73,652.39 L285.36,652.87 L286.02,653.22 L286.76,653.36 L287.61,653.33 L288.52,653.28 L289.38,653.40 L290.08,653.81 L290.54,654.52 L290.81,655.40 L291.03,656.27 L291.36,656.97 L291.95,657.43 L292.79,657.74 L293.73,658.03 L294.57,658.47 L295.10,659.11 L295.26,659.95 L295.15,660.87 L294.97,661.76 L294.93,662.57 L295.17,663.29 L295.64,663.98 L296.20,664.70 L296.65,665.48Z" fill="#e3a99d"/>
<circle cx="280.41" cy="676.63" r="0.35" fill="#c47d6e"/>
<circle cx="276.36" cy="655.75" r="0.35" fill="#c47d6e"/>
<circle cx="283.36" cy="671.82" r="0.35" fill="#c47d6e"/>
<circle cx="284.57" cy="671.04" r="0.35" fill="#c47d6e"/>
<circle cx="280.55" cy="661.81" r="0.35" fill="#c47d6e"/>
<circle cx="275.33" cy="665.17" r="0.35" fill="#c47d6e"/>
<circle cx="278.73" cy="674.19" r="0.35" fill="#c47d6e"/>
<circle cx="286.10" cy="657.99" r="0.35" fill="#c47d6e"/>
<circle cx="287.54" cy="666.89" r="0.35" fill="#c47d6e"/>
<circle cx="288.05" cy="675.60" r="0.35" fill="#c47d6e"/>
<circle cx="285.11" cy="655.86" r="0.35" fill="#c47d6e"/>
<circle cx="285.98" cy="656.73" r="0.35" fill="#c47d6e"/>
<circle cx="291.58" cy="662.81" r="0.35" fill="#c47d6e"/>
<circle cx="280.51" cy="677.81" r="0.35" fill="#c47d6e"/>
<circle cx="270.18" cy="667.20" r="0.35" fill="#c47d6e"/>
<circle cx="273.46" cy="663.09" r="0.35" fill="#c47d6e"/>
<circle cx="275.61" cy="672.47" r="0.35" fill="#c47d6e"/>
<circle cx="279.33" cy="670.24" r="0.35" fill="#c47d6e"/>
<circle cx="285.73" cy="656.18" r="0.35" fill="#c47d6e"/>
<circle cx="291.35" cy="665.37" r="0.35" fill="#c47d6e"/>
<circle cx="270.81" cy="662.69" r="0.35" fill="#c47d6e"/>
<circle cx="287.81" cy="674.01" r="0.35" fill="#c47d6e"/>
<circle cx="276.08" cy="668.13" r="0.35" fill="#c47d6e"/>
<circle cx="283.65" cy="674.94" r="0.35" fill="#c47d6e"/>
<circle cx="281.8" cy="664.7" r="6.0" fill="#c47f6f"/>
<text x="266.20" y="683.40" font-size="5.9" font-weight="normal" fill="#111">Tumor cell</text>
<path d="M487.42,612.00 L487.32,612.91 L487.14,613.80 L486.91,614.68 L486.64,615.54 L486.34,616.38 L486.00,617.20 L485.61,617.99 L485.20,618.77 L484.75,619.52 L484.31,620.26 L483.87,621.01 L483.46,621.78 L483.05,622.57 L482.62,623.36 L482.13,624.13 L481.56,624.84 L480.87,625.42 L480.07,625.86 L479.18,626.14 L478.25,626.29 L477.32,626.36 L476.42,626.43 L475.59,626.57 L474.81,626.82 L474.07,627.19 L473.33,627.66 L472.56,628.15 L471.74,628.58 L470.88,628.86 L470.00,628.95 L469.12,628.84 L468.26,628.55 L467.44,628.14 L466.66,627.70 L465.91,627.28 L465.15,626.92 L464.38,626.64 L463.58,626.42 L462.76,626.22 L461.92,625.99 L461.10,625.71 L460.30,625.36 L459.53,624.92 L458.81,624.42 L458.13,623.87 L457.49,623.27 L456.89,622.62 L456.34,621.92 L455.87,621.18 L455.47,620.39 L455.16,619.56 L454.92,618.71 L454.71,617.87 L454.49,617.04 L454.22,616.23 L453.88,615.43 L453.47,614.62 L453.04,613.78 L452.64,612.91 L452.36,612.00 L452.26,611.07 L452.37,610.15 L452.70,609.26 L453.18,608.43 L453.76,607.65 L454.33,606.91 L454.84,606.18 L455.23,605.42 L455.51,604.62 L455.72,603.76 L455.92,602.86 L456.19,601.97 L456.57,601.12 L457.09,600.38 L457.75,599.75 L458.52,599.25 L459.36,598.86 L460.22,598.54 L461.07,598.24 L461.89,597.95 L462.69,597.65 L463.47,597.33 L464.25,597.01 L465.03,596.72 L465.83,596.45 L466.64,596.21 L467.47,596.00 L468.30,595.80 L469.14,595.63 L470.00,595.49 L470.87,595.41 L471.74,595.43 L472.60,595.57 L473.43,595.85 L474.22,596.25 L474.96,596.74 L475.66,597.25 L476.35,597.73 L477.06,598.13 L477.83,598.43 L478.67,598.65 L479.57,598.83 L480.49,599.04 L481.39,599.35 L482.20,599.80 L482.87,600.41 L483.37,601.17 L483.72,602.03 L483.97,602.93 L484.17,603.82 L484.39,604.67 L484.70,605.46 L485.10,606.21 L485.58,606.94 L486.09,607.69 L486.59,608.47 L486.99,609.31 L487.28,610.18 L487.42,611.09Z" fill="#a397dc"/>
<circle cx="457.55" cy="610.27" r="0.35" fill="#7d6fc0"/>
<circle cx="477.30" cy="610.15" r="0.35" fill="#7d6fc0"/>
<circle cx="471.19" cy="600.31" r="0.35" fill="#7d6fc0"/>
<circle cx="467.54" cy="608.06" r="0.35" fill="#7d6fc0"/>
<circle cx="478.55" cy="613.46" r="0.35" fill="#7d6fc0"/>
<circle cx="469.84" cy="604.97" r="0.35" fill="#7d6fc0"/>
<circle cx="462.11" cy="611.92" r="0.35" fill="#7d6fc0"/>
<circle cx="477.74" cy="600.81" r="0.35" fill="#7d6fc0"/>
<circle cx="458.60" cy="620.11" r="0.35" fill="#7d6fc0"/>
<circle cx="481.67" cy="616.81" r="0.35" fill="#7d6fc0"/>
<circle cx="473.85" cy="608.16" r="0.35" fill="#7d6fc0"/>
<circle cx="467.12" cy="601.94" r="0.35" fill="#7d6fc0"/>
<circle cx="476.16" cy="610.22" r="0.35" fill="#7d6fc0"/>
<circle cx="457.26" cy="608.73" r="0.35" fill="#7d6fc0"/>
<circle cx="464.99" cy="606.04" r="0.35" fill="#7d6fc0"/>
<circle cx="481.82" cy="618.68" r="0.35" fill="#7d6fc0"/>
<circle cx="456.21" cy="614.26" r="0.35" fill="#7d6fc0"/>
<circle cx="477.94" cy="621.80" r="0.35" fill="#7d6fc0"/>
<circle cx="475.21" cy="599.62" r="0.35" fill="#7d6fc0"/>
<circle cx="478.49" cy="612.96" r="0.35" fill="#7d6fc0"/>
<circle cx="481.51" cy="615.87" r="0.35" fill="#7d6fc0"/>
<circle cx="461.62" cy="622.85" r="0.35" fill="#7d6fc0"/>
<circle cx="461.30" cy="620.72" r="0.35" fill="#7d6fc0"/>
<circle cx="474.61" cy="606.95" r="0.35" fill="#7d6fc0"/>
<circle cx="457.17" cy="607.21" r="0.35" fill="#7d6fc0"/>
<circle cx="461.72" cy="610.59" r="0.35" fill="#7d6fc0"/>
<circle cx="468.66" cy="624.34" r="0.35" fill="#7d6fc0"/>
<circle cx="473.83" cy="622.18" r="0.35" fill="#7d6fc0"/>
<circle cx="460.21" cy="608.44" r="0.35" fill="#7d6fc0"/>
<circle cx="477.80" cy="620.26" r="0.35" fill="#7d6fc0"/>
<circle cx="466.5" cy="611.5" r="6.6" fill="#7d68b8"/>
<text x="454.20" y="590.00" font-size="6.1" font-weight="normal" fill="#111">Myeloid cell</text>
<path d="M473,602.5 L473,595.3 L484.2,595.3" fill="none" stroke="#6a46ad" stroke-width="1.6"/>
<polygon points="483.5,592.5 488.1,595.3 483.5,598.1" fill="#6a46ad"/>
<text x="491.00" y="595.00" font-size="4.83" font-weight="normal" fill="#8a70c8">IRF3 reporter</text>
<text x="491.00" y="600.60" font-size="4.83" font-weight="normal" fill="#8a70c8">activity</text>
<line x1="468.50" y1="624.00" x2="468.50" y2="630.20" stroke="#5e2d91" stroke-width="1.3"/>
<rect x="465.80" y="630.00" width="5.4" height="2.1" rx="0.5" fill="#5e2d91"/>
<circle cx="466.80" cy="635.30" r="2.0" fill="#b0279e"/>
<line x1="469.20" y1="632.40" x2="469.20" y2="637.60" stroke="#8f80d6" stroke-width="1.4"/>
<line x1="469.20" y1="637.30" x2="465.40" y2="641.30" stroke="#8474cc" stroke-width="2.5"/>
<line x1="469.20" y1="637.30" x2="472.60" y2="641.30" stroke="#8474cc" stroke-width="2.5"/>
<path d="M467.50,642.40 Q467.10,645.00 468.80,645.60 Q470.50,645.00 470.10,642.40" fill="none" stroke="#d9786a" stroke-width="0.9"/>
<text x="451.50" y="639.00" font-size="4.8" font-weight="normal" fill="#e08d80">HER2</text>
<text x="451.50" y="645.00" font-size="4.8" font-weight="normal" fill="#e08d80">ECD</text>
<line x1="446.20" y1="648.20" x2="492.30" y2="648.20" stroke="#111" stroke-width="1.3"/>
<line x1="451.00" y1="648.50" x2="446.80" y2="653.50" stroke="#333" stroke-width="0.7"/>
<line x1="460.20" y1="648.50" x2="456.00" y2="653.50" stroke="#333" stroke-width="0.7"/>
<line x1="469.40" y1="648.50" x2="465.20" y2="653.50" stroke="#333" stroke-width="0.7"/>
<line x1="478.60" y1="648.50" x2="474.40" y2="653.50" stroke="#333" stroke-width="0.7"/>
<line x1="487.80" y1="648.50" x2="483.60" y2="653.50" stroke="#333" stroke-width="0.7"/>
<text x="452.00" y="660.00" font-size="6.0" font-weight="normal" fill="#111">Assay plate</text>
<path d="M473.80,632.00 C482.00,630.50 487.00,625.00 476.95,620.62" fill="none" stroke="#222" stroke-width="0.9"/>
<polygon points="474.60,619.60 478.24,619.26 476.83,622.49" fill="#222"/>
</svg></body></html>
